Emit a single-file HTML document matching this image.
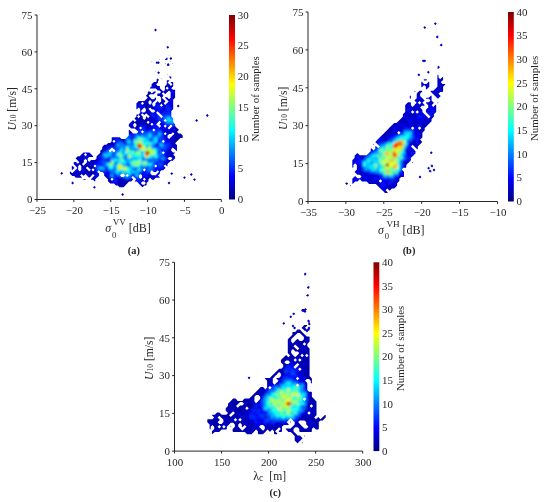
<!DOCTYPE html>
<html><head><meta charset="utf-8"><title>Figure</title>
<style>html,body{margin:0;padding:0;background:#fff}svg{display:block}text{font-family:"Liberation Serif",serif;fill:#262626}</style></head><body>
<svg width="550" height="502" viewBox="0 0 550 502">
<rect width="550" height="502" fill="#fff"/>
<defs><linearGradient id="jet" x1="0" y1="0" x2="0" y2="1"><stop offset="0.0000" stop-color="#800000"/><stop offset="0.0312" stop-color="#9f0000"/><stop offset="0.0625" stop-color="#bf0000"/><stop offset="0.0938" stop-color="#df0000"/><stop offset="0.1250" stop-color="#ff0000"/><stop offset="0.1562" stop-color="#ff2000"/><stop offset="0.1875" stop-color="#ff4000"/><stop offset="0.2188" stop-color="#ff6000"/><stop offset="0.2500" stop-color="#ff8000"/><stop offset="0.2812" stop-color="#ff9f00"/><stop offset="0.3125" stop-color="#ffbf00"/><stop offset="0.3438" stop-color="#ffdf00"/><stop offset="0.3750" stop-color="#ffff00"/><stop offset="0.4062" stop-color="#dfff20"/><stop offset="0.4375" stop-color="#bfff40"/><stop offset="0.4688" stop-color="#9fff60"/><stop offset="0.5000" stop-color="#80ff80"/><stop offset="0.5312" stop-color="#60ff9f"/><stop offset="0.5625" stop-color="#40ffbf"/><stop offset="0.5938" stop-color="#20ffdf"/><stop offset="0.6250" stop-color="#00ffff"/><stop offset="0.6562" stop-color="#00dfff"/><stop offset="0.6875" stop-color="#00bfff"/><stop offset="0.7188" stop-color="#009fff"/><stop offset="0.7500" stop-color="#0080ff"/><stop offset="0.7812" stop-color="#0060ff"/><stop offset="0.8125" stop-color="#0040ff"/><stop offset="0.8438" stop-color="#0020ff"/><stop offset="0.8750" stop-color="#0000ff"/><stop offset="0.9062" stop-color="#0000df"/><stop offset="0.9375" stop-color="#0000bf"/><stop offset="0.9688" stop-color="#00009f"/><stop offset="1.0000" stop-color="#000080"/></linearGradient><filter id="soft" x="-5%" y="-5%" width="110%" height="110%"><feGaussianBlur stdDeviation="0.9"/></filter><filter id="softa" x="-5%" y="-5%" width="110%" height="110%"><feGaussianBlur stdDeviation="0.8"/></filter></defs>
<g id="plot-a">
<clipPath id="clip-a"><path d="M155.8 28.9L155.8 29.2L155.4 29.2ZM156.1 29.2L155.8 29.2L155.8 28.9ZM155.4 29.2L155.8 29.2L155.8 29.6ZM155.8 29.2L156.1 29.2L155.8 29.6ZM167.1 46.0L167.1 46.3L166.8 46.3ZM167.5 46.3L167.1 46.3L167.1 46.0ZM166.8 46.3L167.1 46.3L167.1 46.7ZM167.1 46.3L167.5 46.3L167.1 46.7ZM169.1 55.5L169.1 55.8L168.7 55.8ZM169.4 55.8L169.1 55.8L169.1 55.5ZM167.1 57.4L167.1 57.8L166.8 57.8ZM169.1 55.8L169.1 56.2L168.7 55.8ZM167.1 57.8L167.1 57.4L167.5 57.8ZM169.1 55.8L169.4 55.8L169.1 56.2ZM170.9 57.8L170.6 57.8L170.9 57.4ZM171.3 57.8L170.9 57.8L170.9 57.4ZM159.6 59.3L159.6 59.6L159.2 59.6ZM159.9 59.6L159.6 59.6L159.6 59.3ZM165.2 59.3L165.2 59.6L164.9 59.6ZM166.8 57.8L167.1 57.8L167.1 59.6L165.2 59.6L165.2 59.3ZM167.1 57.8L167.5 57.8L167.5 59.6L167.1 59.6ZM170.6 57.8L170.9 57.8L170.9 58.1ZM170.9 57.8L171.3 57.8L170.9 58.1ZM151.9 61.2L151.9 61.5L151.6 61.5ZM152.3 61.5L151.9 61.5L151.9 61.2ZM159.2 59.6L159.6 59.6L159.6 60.0ZM159.6 59.6L159.9 59.6L159.6 60.0ZM164.9 59.6L165.2 59.6L165.2 60.0ZM165.2 59.6L167.1 59.6L167.1 60.0L165.2 60.0ZM167.1 59.6L167.5 59.6L167.1 60.0ZM170.9 61.2L170.9 61.5L170.6 61.5ZM171.3 61.5L170.9 61.5L170.9 61.2ZM151.6 61.5L151.9 61.5L151.9 61.9ZM151.9 61.5L152.3 61.5L151.9 61.9ZM157.6 63.1L157.6 63.5L157.3 63.5ZM158.0 63.5L157.6 63.5L157.6 63.1ZM165.2 63.1L165.2 63.5L164.9 63.5ZM165.6 63.5L165.2 63.5L165.2 63.1ZM170.6 61.5L170.9 61.5L170.9 61.9ZM170.9 61.5L171.3 61.5L170.9 61.9ZM172.9 63.5L172.5 63.5L172.9 63.1ZM173.2 63.5L172.9 63.5L172.9 63.1ZM157.3 63.5L157.6 63.5L157.6 63.8ZM157.6 63.5L158.0 63.5L157.6 63.8ZM164.9 63.5L165.2 63.5L165.2 63.8ZM165.2 63.5L165.6 63.5L165.2 63.8ZM167.1 65.3L166.8 65.3L167.1 65.0ZM169.1 65.0L169.1 65.3L167.1 65.3L167.1 65.0ZM169.4 65.3L169.1 65.3L169.1 65.0ZM172.5 63.5L172.9 63.5L172.9 63.8ZM172.9 63.5L173.2 63.5L172.9 63.8ZM166.8 65.3L167.1 65.3L167.1 65.7ZM167.1 65.3L169.1 65.3L169.1 65.7L167.1 65.7ZM169.1 65.3L169.4 65.3L169.1 65.7ZM155.8 70.7L155.8 71.0L155.4 71.0ZM156.1 71.0L155.8 71.0L155.8 70.7ZM155.4 71.0L155.8 71.0L155.8 71.4ZM155.8 71.0L156.1 71.0L155.8 71.4ZM159.6 72.6L159.6 73.0L159.2 73.0ZM159.9 73.0L159.6 73.0L159.6 72.6ZM159.2 73.0L159.6 73.0L159.6 73.3ZM159.6 73.0L159.9 73.0L159.6 73.3ZM167.1 74.5L167.1 74.8L166.8 74.8ZM167.5 74.8L167.1 74.8L167.1 74.5ZM166.8 74.8L167.1 74.8L167.1 75.2ZM167.1 74.8L167.5 74.8L167.1 75.2ZM169.1 76.8L168.7 76.8L169.1 76.4ZM170.9 76.4L170.9 76.8L169.1 76.8L169.1 76.4ZM171.3 76.8L170.9 76.8L170.9 76.4ZM161.4 78.3L161.4 78.6L161.1 78.6ZM161.8 78.6L161.4 78.6L161.4 78.3ZM168.7 76.8L169.1 76.8L169.1 77.1ZM169.1 76.8L170.9 76.8L170.9 78.6L170.6 78.6L169.1 77.1ZM170.9 76.8L171.3 76.8L171.3 78.6L170.9 78.6ZM157.6 80.2L157.6 80.5L157.3 80.5ZM158.0 80.5L157.6 80.5L157.6 80.2ZM161.1 78.6L161.4 78.6L161.4 79.0ZM161.4 78.6L161.8 78.6L161.4 79.0ZM167.1 80.2L167.1 80.5L166.8 80.5ZM169.1 80.2L169.1 80.5L167.1 80.5L167.1 80.2ZM170.9 78.6L170.9 79.0L170.6 78.6ZM169.1 80.5L169.1 80.2L169.4 80.5ZM170.9 78.6L171.3 78.6L170.9 79.0ZM153.8 82.1L153.8 82.5L153.5 82.5ZM155.8 82.1L155.8 82.5L153.8 82.5L153.8 82.1ZM157.3 80.5L157.6 80.5L157.6 82.5L155.8 82.5L155.8 82.1ZM157.6 80.5L158.0 80.5L158.0 82.5L157.6 82.5ZM166.8 80.5L167.1 80.5L167.1 82.5L166.8 82.5ZM167.1 80.5L169.1 80.5L169.1 80.9L167.5 82.5L167.1 82.5ZM169.1 80.5L169.4 80.5L169.1 80.9ZM170.9 82.5L170.6 82.5L170.9 82.1ZM172.9 82.1L172.9 82.5L170.9 82.5L170.9 82.1ZM173.2 82.5L172.9 82.5L172.9 82.1ZM151.9 84.0L151.9 84.3L151.6 84.3ZM153.5 82.5L153.8 82.5L153.8 84.3L151.9 84.3L151.9 84.0ZM155.8 82.5L157.6 82.5L157.6 82.8L156.1 84.3L155.8 84.3ZM157.6 82.5L158.0 82.5L157.6 82.8ZM166.8 82.5L167.1 82.5L167.1 84.3L166.8 84.3ZM167.1 82.5L167.5 82.5L169.1 84.0L169.1 84.3L167.1 84.3ZM170.9 82.5L170.9 82.8L170.6 82.5ZM169.1 84.3L169.1 84.0L169.4 84.3ZM170.9 82.5L172.9 82.5L172.9 84.3L172.5 84.3L170.9 82.8ZM172.9 82.5L173.2 82.5L173.2 84.3L172.9 84.3ZM151.6 84.3L151.9 84.3L151.9 86.2L151.6 86.2ZM155.8 84.3L156.1 84.3L157.6 85.9L157.6 86.2L155.8 86.2ZM159.6 85.9L159.6 86.2L157.6 86.2L157.6 85.9ZM159.9 86.2L159.6 86.2L159.6 85.9ZM165.2 85.9L165.2 86.2L164.9 86.2ZM166.8 84.3L167.1 84.3L167.1 86.2L165.2 86.2L165.2 85.9ZM169.1 84.3L169.4 84.3L170.9 85.9L170.9 86.2L169.1 86.2ZM172.5 84.3L172.9 84.3L172.9 86.2L170.9 86.2L170.9 85.9ZM172.9 84.3L173.2 84.3L173.2 86.2L172.9 86.2ZM150.1 87.8L150.1 88.2L149.7 88.2ZM151.6 86.2L151.9 86.2L151.9 88.2L150.1 88.2L150.1 87.8ZM159.6 86.2L159.9 86.2L159.9 88.2L159.6 88.2ZM164.9 86.2L165.2 86.2L165.2 88.2L164.9 88.2ZM165.2 86.2L167.1 86.2L167.1 86.6L165.6 88.2L165.2 88.2ZM167.1 86.2L169.1 86.2L169.1 88.2L168.7 88.2L167.1 86.6ZM170.9 86.2L172.9 86.2L172.9 86.6L171.3 88.2L170.9 88.2ZM172.9 86.2L173.2 86.2L172.9 86.6ZM149.7 88.2L150.1 88.2L150.1 88.5ZM150.1 88.2L151.9 88.2L151.9 88.5L150.1 88.5ZM151.9 88.2L153.8 88.2L153.8 88.5L151.9 88.5ZM153.8 88.2L155.8 88.2L155.8 88.5L153.8 88.5ZM155.8 88.2L157.6 88.2L157.6 90.0L157.3 90.0L155.8 88.5ZM159.6 88.2L159.9 88.2L161.4 89.7L161.4 90.0L159.6 90.0ZM161.8 90.0L161.4 90.0L161.4 89.7ZM164.9 88.2L165.2 88.2L165.2 90.0L164.9 90.0ZM165.2 88.2L165.6 88.2L167.1 89.7L167.1 90.0L165.2 90.0ZM168.7 88.2L169.1 88.2L169.1 90.0L167.1 90.0L167.1 89.7ZM170.9 88.2L171.3 88.2L172.9 89.7L172.9 90.0L170.9 90.0ZM174.8 89.7L174.8 90.0L172.9 90.0L172.9 89.7ZM175.1 90.0L174.8 90.0L174.8 89.7ZM148.1 91.6L148.1 92.0L147.8 92.0ZM150.1 91.6L150.1 92.0L148.1 92.0L148.1 91.6ZM150.4 92.0L150.1 92.0L150.1 91.6ZM153.8 91.6L153.8 92.0L153.5 92.0ZM155.8 91.6L155.8 92.0L153.8 92.0L153.8 91.6ZM157.6 90.0L157.6 90.4L157.3 90.0ZM155.8 92.0L155.8 91.6L156.1 92.0ZM157.6 90.0L159.6 90.0L159.6 90.4L157.6 90.4ZM159.6 90.0L161.4 90.0L161.4 92.0L161.1 92.0L159.6 90.4ZM161.4 90.0L161.8 90.0L163.3 91.6L163.3 92.0L161.4 92.0ZM164.9 90.0L165.2 90.0L165.2 92.0L163.3 92.0L163.3 91.6ZM167.1 90.0L169.1 90.0L169.1 90.4L167.5 92.0L167.1 92.0ZM169.1 90.0L170.9 90.0L170.9 92.0L170.6 92.0L169.1 90.4ZM174.8 90.0L175.1 90.0L175.1 92.0L174.8 92.0ZM147.8 92.0L148.1 92.0L148.1 93.8L147.8 93.8ZM150.1 92.0L150.4 92.0L151.9 93.5L151.9 93.8L150.1 93.8ZM153.5 92.0L153.8 92.0L153.8 93.8L151.9 93.8L151.9 93.5ZM153.8 92.0L155.8 92.0L155.8 92.3L154.2 93.8L153.8 93.8ZM155.8 92.0L156.1 92.0L155.8 92.3ZM157.6 93.8L157.3 93.8L157.6 93.5ZM159.6 93.5L159.6 93.8L157.6 93.8L157.6 93.5ZM161.1 92.0L161.4 92.0L161.4 93.8L159.6 93.8L159.6 93.5ZM161.4 92.0L163.3 92.0L163.3 92.3L161.8 93.8L161.4 93.8ZM163.3 92.0L165.2 92.0L165.2 93.8L164.9 93.8L163.3 92.3ZM165.2 92.0L167.1 92.0L167.1 92.3L165.6 93.8L165.2 93.8ZM167.1 92.0L167.5 92.0L167.1 92.3ZM170.6 92.0L170.9 92.0L170.9 93.8L170.6 93.8ZM174.8 92.0L175.1 92.0L175.1 93.8L174.8 93.8ZM146.2 95.4L146.2 95.8L145.9 95.8ZM147.8 93.8L148.1 93.8L148.1 95.8L146.2 95.8L146.2 95.4ZM148.1 93.8L150.1 93.8L150.1 94.2L148.5 95.8L148.1 95.8ZM150.1 93.8L151.9 93.8L151.9 94.2L150.1 94.2ZM151.9 93.8L153.8 93.8L153.8 94.2L151.9 94.2ZM153.8 93.8L154.2 93.8L153.8 94.2ZM157.3 93.8L157.6 93.8L157.6 95.8L157.3 95.8ZM161.4 93.8L161.8 93.8L163.3 95.4L163.3 95.8L161.4 95.8ZM165.2 93.8L165.2 94.2L164.9 93.8ZM163.3 95.8L163.3 95.4L163.7 95.8ZM165.2 93.8L165.6 93.8L165.2 94.2ZM170.6 93.8L170.9 93.8L170.9 95.8L170.6 95.8ZM174.8 93.8L175.1 93.8L175.1 95.8L174.8 95.8ZM145.9 95.8L146.2 95.8L146.2 96.1ZM146.2 95.8L148.1 95.8L148.1 97.7L147.8 97.7L146.2 96.1ZM148.1 95.8L148.5 95.8L150.1 97.3L150.1 97.7L148.1 97.7ZM150.4 97.7L150.1 97.7L150.1 97.3ZM155.8 97.3L155.8 97.7L155.4 97.7ZM157.6 95.8L157.6 96.1L157.3 95.8ZM155.8 97.7L155.8 97.3L156.1 97.7ZM157.6 95.8L159.6 95.8L159.6 96.1L157.6 96.1ZM159.6 95.8L161.4 95.8L161.4 97.7L161.1 97.7L159.6 96.1ZM161.4 95.8L163.3 95.8L163.3 96.1L161.8 97.7L161.4 97.7ZM163.3 95.8L163.7 95.8L163.3 96.1ZM165.2 97.7L164.9 97.7L165.2 97.3ZM167.1 97.3L167.1 97.7L165.2 97.7L165.2 97.3ZM167.5 97.7L167.1 97.7L167.1 97.3ZM170.6 95.8L170.9 95.8L170.9 97.7L170.6 97.7ZM174.8 95.8L175.1 95.8L175.1 97.7L174.8 97.7ZM146.2 99.2L146.2 99.5L145.9 99.5ZM147.8 97.7L148.1 97.7L148.1 99.5L146.2 99.5L146.2 99.2ZM150.1 97.7L150.4 97.7L151.9 99.2L151.9 99.5L150.1 99.5ZM153.8 99.2L153.8 99.5L151.9 99.5L151.9 99.2ZM155.4 97.7L155.8 97.7L155.8 99.5L153.8 99.5L153.8 99.2ZM155.8 97.7L156.1 97.7L156.1 99.5L155.8 99.5ZM161.1 97.7L161.4 97.7L161.4 99.5L161.1 99.5ZM161.4 97.7L161.8 97.7L163.3 99.2L163.3 99.5L161.4 99.5ZM165.2 97.7L165.2 98.0L164.9 97.7ZM163.3 99.5L163.3 99.2L163.7 99.5ZM165.2 97.7L167.1 97.7L167.1 99.5L166.8 99.5L165.2 98.0ZM167.1 97.7L167.5 97.7L169.1 99.2L169.1 99.5L167.1 99.5ZM170.6 97.7L170.9 97.7L170.9 99.5L169.1 99.5L169.1 99.2ZM172.9 97.7L174.8 97.7L174.8 98.0L173.2 99.5L172.9 99.5ZM174.8 97.7L175.1 97.7L174.8 98.0ZM138.6 101.1L138.6 101.5L138.3 101.5ZM140.6 101.1L140.6 101.5L138.6 101.5L138.6 101.1ZM142.4 101.1L142.4 101.5L140.6 101.5L140.6 101.1ZM144.3 101.1L144.3 101.5L142.4 101.5L142.4 101.1ZM145.9 99.5L146.2 99.5L146.2 101.5L144.3 101.5L144.3 101.1ZM148.1 99.5L150.1 99.5L150.1 99.9L148.5 101.5L148.1 101.5ZM150.1 99.5L151.9 99.5L151.9 101.5L151.6 101.5L150.1 99.9ZM153.8 99.5L155.8 99.5L155.8 99.9L154.2 101.5L153.8 101.5ZM155.8 99.5L156.1 99.5L155.8 99.9ZM157.6 101.5L157.3 101.5L157.6 101.1ZM158.0 101.5L157.6 101.5L157.6 101.1ZM161.1 99.5L161.4 99.5L161.4 101.5L161.1 101.5ZM163.3 99.5L163.7 99.5L165.2 101.1L165.2 101.5L163.3 101.5ZM167.1 99.5L167.1 99.9L166.8 99.5ZM165.2 101.5L165.2 101.1L165.6 101.5ZM167.1 99.5L169.1 99.5L169.1 101.5L168.7 101.5L167.1 99.9ZM172.9 99.5L173.2 99.5L173.2 101.5L172.9 101.5ZM136.8 103.0L136.8 103.3L136.4 103.3ZM138.3 101.5L138.6 101.5L138.6 103.3L136.8 103.3L136.8 103.0ZM140.6 101.5L142.4 101.5L142.4 101.8L140.9 103.3L140.6 103.3ZM142.4 101.5L144.3 101.5L144.3 103.3L144.0 103.3L142.4 101.8ZM148.1 101.5L148.5 101.5L148.5 103.3L148.1 103.3ZM151.6 101.5L151.9 101.5L151.9 103.3L151.6 103.3ZM151.9 101.5L153.8 101.5L153.8 101.8L152.3 103.3L151.9 103.3ZM153.8 101.5L154.2 101.5L153.8 101.8ZM155.8 103.3L155.4 103.3L155.8 103.0ZM157.3 101.5L157.6 101.5L157.6 103.3L155.8 103.3L155.8 103.0ZM157.6 101.5L158.0 101.5L159.6 103.0L159.6 103.3L157.6 103.3ZM161.1 101.5L161.4 101.5L161.4 103.3L159.6 103.3L159.6 103.0ZM163.3 101.5L165.2 101.5L165.2 101.8L163.7 103.3L163.3 103.3ZM165.2 101.5L165.6 101.5L165.2 101.8ZM167.1 103.3L166.8 103.3L167.1 103.0ZM168.7 101.5L169.1 101.5L169.1 103.3L167.1 103.3L167.1 103.0ZM172.9 101.5L173.2 101.5L173.2 103.3L172.9 103.3ZM136.4 103.3L136.8 103.3L136.8 105.2L136.4 105.2ZM140.6 103.3L140.9 103.3L142.4 104.9L142.4 105.2L140.6 105.2ZM144.0 103.3L144.3 103.3L144.3 105.2L142.4 105.2L142.4 104.9ZM148.1 103.3L148.5 103.3L150.1 104.9L150.1 105.2L148.1 105.2ZM151.6 103.3L151.9 103.3L151.9 105.2L150.1 105.2L150.1 104.9ZM151.9 103.3L152.3 103.3L152.3 105.2L151.9 105.2ZM155.4 103.3L155.8 103.3L155.8 105.2L155.4 105.2ZM159.6 103.3L161.4 103.3L161.4 103.7L159.9 105.2L159.6 105.2ZM161.4 103.3L163.3 103.3L163.3 105.2L163.0 105.2L161.4 103.7ZM163.3 103.3L163.7 103.3L165.2 104.9L165.2 105.2L163.3 105.2ZM166.8 103.3L167.1 103.3L167.1 105.2L165.2 105.2L165.2 104.9ZM172.9 103.3L173.2 103.3L173.2 105.2L172.9 105.2ZM178.6 104.9L178.6 105.2L178.2 105.2ZM178.9 105.2L178.6 105.2L178.6 104.9ZM136.4 105.2L136.8 105.2L136.8 107.1L136.4 107.1ZM151.9 105.2L152.3 105.2L153.8 106.8L153.8 107.1L151.9 107.1ZM155.4 105.2L155.8 105.2L155.8 107.1L153.8 107.1L153.8 106.8ZM159.6 105.2L159.9 105.2L161.4 106.8L161.4 107.1L159.6 107.1ZM163.0 105.2L163.3 105.2L163.3 107.1L161.4 107.1L161.4 106.8ZM172.9 105.2L173.2 105.2L173.2 107.1L172.9 107.1ZM178.2 105.2L178.6 105.2L178.6 105.6ZM178.6 105.2L178.9 105.2L178.6 105.6ZM136.4 107.1L136.8 107.1L136.8 109.0L136.4 109.0ZM136.8 107.1L138.6 107.1L138.6 107.5L137.1 109.0L136.8 109.0ZM138.6 107.1L140.6 107.1L140.6 109.0L140.2 109.0L138.6 107.5ZM142.4 107.1L144.3 107.1L144.3 107.5L142.8 109.0L142.4 109.0ZM144.3 107.1L146.2 107.1L146.2 109.0L145.9 109.0L144.3 107.5ZM148.1 107.1L150.1 107.1L150.1 107.5L148.5 109.0L148.1 109.0ZM150.1 107.1L151.9 107.1L151.9 109.0L151.6 109.0L150.1 107.5ZM172.9 107.1L173.2 107.1L173.2 109.0L172.9 109.0ZM136.4 109.0L136.8 109.0L136.8 109.4ZM136.8 109.0L137.1 109.0L136.8 109.4ZM140.2 109.0L140.6 109.0L140.6 111.0L140.2 111.0ZM140.6 109.0L142.4 109.0L142.4 109.4L140.9 111.0L140.6 111.0ZM142.4 109.0L142.8 109.0L142.4 109.4ZM145.9 109.0L146.2 109.0L146.2 111.0L145.9 111.0ZM148.1 109.0L148.5 109.0L150.1 110.6L150.1 111.0L148.1 111.0ZM151.9 109.0L151.9 109.4L151.6 109.0ZM150.1 111.0L150.1 110.6L150.4 111.0ZM151.9 109.0L153.8 109.0L153.8 109.4L151.9 109.4ZM153.8 109.0L155.8 109.0L155.8 111.0L155.4 111.0L153.8 109.4ZM170.9 109.0L172.9 109.0L172.9 109.4L171.3 111.0L170.9 111.0ZM172.9 109.0L173.2 109.0L172.9 109.4ZM140.2 111.0L140.6 111.0L140.6 112.8L140.2 112.8ZM140.6 111.0L140.9 111.0L142.4 112.5L142.4 112.8L140.6 112.8ZM144.3 112.5L144.3 112.8L142.4 112.8L142.4 112.5ZM145.9 111.0L146.2 111.0L146.2 112.8L144.3 112.8L144.3 112.5ZM150.1 111.0L150.4 111.0L151.9 112.5L151.9 112.8L150.1 112.8ZM153.8 112.5L153.8 112.8L151.9 112.8L151.9 112.5ZM155.4 111.0L155.8 111.0L155.8 112.8L153.8 112.8L153.8 112.5ZM155.8 111.0L157.6 111.0L157.6 111.3L156.1 112.8L155.8 112.8ZM157.6 111.0L159.6 111.0L159.6 112.8L159.2 112.8L157.6 111.3ZM170.9 111.0L171.3 111.0L171.3 112.8L170.9 112.8ZM136.8 114.4L136.8 114.8L136.4 114.8ZM138.6 114.4L138.6 114.8L136.8 114.8L136.8 114.4ZM140.2 112.8L140.6 112.8L140.6 114.8L138.6 114.8L138.6 114.4ZM140.6 112.8L142.4 112.8L142.4 113.2L140.9 114.8L140.6 114.8ZM142.4 112.8L144.3 112.8L144.3 114.8L144.0 114.8L142.4 113.2ZM144.3 112.8L146.2 112.8L146.2 113.2L144.7 114.8L144.3 114.8ZM146.2 112.8L148.1 112.8L148.1 114.8L147.8 114.8L146.2 113.2ZM155.8 112.8L156.1 112.8L157.6 114.4L157.6 114.8L155.8 114.8ZM159.6 112.8L159.6 113.2L159.2 112.8ZM157.6 114.8L157.6 114.4L158.0 114.8ZM159.6 112.8L161.4 112.8L161.4 114.8L161.1 114.8L159.6 113.2ZM170.9 112.8L171.3 112.8L171.3 114.8L170.9 114.8ZM207.1 114.4L207.1 114.8L206.7 114.8ZM207.4 114.8L207.1 114.8L207.1 114.4ZM136.4 114.8L136.8 114.8L136.8 116.6L136.4 116.6ZM136.8 114.8L138.6 114.8L138.6 115.1L137.1 116.6L136.8 116.6ZM138.6 114.8L140.6 114.8L140.6 116.6L140.2 116.6L138.6 115.1ZM140.6 114.8L140.9 114.8L142.4 116.3L142.4 116.6L140.6 116.6ZM144.3 114.8L144.3 115.1L144.0 114.8ZM142.4 116.6L142.4 116.3L142.8 116.6ZM144.3 114.8L144.7 114.8L144.3 115.1ZM146.2 116.6L145.9 116.6L146.2 116.3ZM148.1 114.8L148.1 115.1L147.8 114.8ZM146.2 116.6L146.2 116.3L146.6 116.6ZM148.1 114.8L150.1 114.8L150.1 116.6L149.7 116.6L148.1 115.1ZM157.6 114.8L158.0 114.8L159.6 116.3L159.6 116.6L157.6 116.6ZM161.4 114.8L161.4 115.1L161.1 114.8ZM159.6 116.6L159.6 116.3L159.9 116.6ZM161.4 114.8L163.3 114.8L163.3 116.6L163.0 116.6L161.4 115.1ZM170.9 114.8L171.3 114.8L171.3 116.6L170.9 116.6ZM206.7 114.8L207.1 114.8L207.1 115.1ZM207.1 114.8L207.4 114.8L207.1 115.1ZM134.8 118.2L134.8 118.5L134.5 118.5ZM136.4 116.6L136.8 116.6L136.8 118.5L134.8 118.5L134.8 118.2ZM136.8 116.6L137.1 116.6L138.6 118.2L138.6 118.5L136.8 118.5ZM140.2 116.6L140.6 116.6L140.6 118.5L138.6 118.5L138.6 118.2ZM142.4 116.6L142.8 116.6L142.8 118.5L142.4 118.5ZM145.9 116.6L146.2 116.6L146.2 118.5L145.9 118.5ZM146.2 116.6L146.6 116.6L148.1 118.2L148.1 118.5L146.2 118.5ZM149.7 116.6L150.1 116.6L150.1 118.5L148.1 118.5L148.1 118.2ZM159.6 116.6L159.9 116.6L161.4 118.2L161.4 118.5L159.6 118.5ZM163.0 116.6L163.3 116.6L163.3 118.5L161.4 118.5L161.4 118.2ZM170.9 116.6L171.3 116.6L172.9 118.2L172.9 118.5L170.9 118.5ZM173.2 118.5L172.9 118.5L172.9 118.2ZM132.9 120.1L132.9 120.5L132.6 120.5ZM134.8 118.5L134.8 118.9L134.5 118.5ZM132.9 120.5L132.9 120.1L133.3 120.5ZM134.8 118.5L136.8 118.5L136.8 120.5L136.4 120.5L134.8 118.9ZM142.4 118.5L142.8 118.5L144.3 120.1L144.3 120.5L142.4 120.5ZM145.9 118.5L146.2 118.5L146.2 120.5L144.3 120.5L144.3 120.1ZM163.3 118.5L165.2 118.5L165.2 118.9L163.7 120.5L163.3 120.5ZM165.2 118.5L167.1 118.5L167.1 120.5L166.8 120.5L165.2 118.9ZM172.9 118.5L173.2 118.5L173.2 120.5L172.9 120.5ZM197.6 120.1L197.6 120.5L197.2 120.5ZM197.9 120.5L197.6 120.5L197.6 120.1ZM131.1 122.0L131.1 122.3L130.7 122.3ZM132.6 120.5L132.9 120.5L132.9 122.3L131.1 122.3L131.1 122.0ZM132.9 120.5L133.3 120.5L134.8 122.0L134.8 122.3L132.9 122.3ZM136.4 120.5L136.8 120.5L136.8 122.3L134.8 122.3L134.8 122.0ZM146.2 120.5L148.1 120.5L148.1 120.8L146.6 122.3L146.2 122.3ZM148.1 120.5L150.1 120.5L150.1 122.3L149.7 122.3L148.1 120.8ZM157.6 120.5L159.6 120.5L159.6 120.8L158.0 122.3L157.6 122.3ZM159.6 120.5L161.4 120.5L161.4 122.3L161.1 122.3L159.6 120.8ZM163.3 120.5L163.7 120.5L165.2 122.0L165.2 122.3L163.3 122.3ZM166.8 120.5L167.1 120.5L167.1 122.3L165.2 122.3L165.2 122.0ZM172.9 120.5L173.2 120.5L173.2 122.3L172.9 122.3ZM197.2 120.5L197.6 120.5L197.6 120.8ZM197.6 120.5L197.9 120.5L197.6 120.8ZM129.1 123.9L129.1 124.2L128.8 124.2ZM130.7 122.3L131.1 122.3L131.1 124.2L129.1 124.2L129.1 123.9ZM132.9 122.3L134.8 122.3L134.8 122.7L133.3 124.2L132.9 124.2ZM134.8 122.3L136.8 122.3L136.8 124.2L136.4 124.2L134.8 122.7ZM146.2 122.3L146.6 122.3L148.1 123.9L148.1 124.2L146.2 124.2ZM149.7 122.3L150.1 122.3L150.1 124.2L148.1 124.2L148.1 123.9ZM150.1 122.3L151.9 122.3L151.9 122.7L150.4 124.2L150.1 124.2ZM151.9 122.3L153.8 122.3L153.8 124.2L153.5 124.2L151.9 122.7ZM155.8 122.3L157.6 122.3L157.6 122.7L156.1 124.2L155.8 124.2ZM157.6 122.3L158.0 122.3L157.6 122.7ZM159.6 124.2L159.2 124.2L159.6 123.9ZM161.1 122.3L161.4 122.3L161.4 124.2L159.6 124.2L159.6 123.9ZM172.9 122.3L173.2 122.3L174.8 123.9L174.8 124.2L172.9 124.2ZM175.1 124.2L174.8 124.2L174.8 123.9ZM128.8 124.2L129.1 124.2L129.1 126.1L128.8 126.1ZM132.9 124.2L133.3 124.2L133.3 126.1L132.9 126.1ZM136.4 124.2L136.8 124.2L136.8 126.1L136.4 126.1ZM150.1 124.2L150.4 124.2L151.9 125.8L151.9 126.1L150.1 126.1ZM153.5 124.2L153.8 124.2L153.8 126.1L151.9 126.1L151.9 125.8ZM155.8 124.2L156.1 124.2L157.6 125.8L157.6 126.1L155.8 126.1ZM159.6 124.2L159.6 124.6L159.2 124.2ZM157.6 126.1L157.6 125.8L158.0 126.1ZM159.6 124.2L161.4 124.2L161.4 126.1L161.1 126.1L159.6 124.6ZM163.3 124.2L165.2 124.2L165.2 124.6L163.7 126.1L163.3 126.1ZM165.2 124.2L167.1 124.2L167.1 126.1L166.8 126.1L165.2 124.6ZM169.1 124.2L170.9 124.2L170.9 124.6L169.4 126.1L169.1 126.1ZM170.9 124.2L172.9 124.2L172.9 126.1L172.5 126.1L170.9 124.6ZM174.8 124.2L175.1 124.2L175.1 126.1L174.8 126.1ZM128.8 126.1L129.1 126.1L129.1 126.5ZM129.1 126.1L131.1 126.1L131.1 128.0L130.7 128.0L129.1 126.5ZM132.9 126.1L133.3 126.1L134.8 127.7L134.8 128.0L132.9 128.0ZM136.4 126.1L136.8 126.1L136.8 128.0L134.8 128.0L134.8 127.7ZM138.6 126.1L140.6 126.1L140.6 126.5L139.0 128.0L138.6 128.0ZM140.6 126.1L142.4 126.1L142.4 128.0L142.1 128.0L140.6 126.5ZM157.6 126.1L158.0 126.1L159.6 127.7L159.6 128.0L157.6 128.0ZM161.1 126.1L161.4 126.1L161.4 128.0L159.6 128.0L159.6 127.7ZM163.3 126.1L163.7 126.1L165.2 127.7L165.2 128.0L163.3 128.0ZM166.8 126.1L167.1 126.1L167.1 128.0L165.2 128.0L165.2 127.7ZM167.1 126.1L169.1 126.1L169.1 126.5L167.5 128.0L167.1 128.0ZM169.1 126.1L169.4 126.1L169.1 126.5ZM170.9 128.0L170.6 128.0L170.9 127.7ZM172.5 126.1L172.9 126.1L172.9 128.0L170.9 128.0L170.9 127.7ZM174.8 126.1L175.1 126.1L176.6 127.7L176.6 128.0L174.8 128.0ZM177.0 128.0L176.6 128.0L176.6 127.7ZM129.1 129.6L129.1 129.9L128.8 129.9ZM131.1 128.0L131.1 128.4L130.7 128.0ZM129.1 129.9L129.1 129.6L129.5 129.9ZM131.1 128.0L132.9 128.0L132.9 128.4L131.1 128.4ZM132.9 128.0L134.8 128.0L134.8 128.4L132.9 128.4ZM134.8 128.0L136.8 128.0L136.8 129.9L136.4 129.9L134.8 128.4ZM138.6 128.0L139.0 128.0L140.6 129.6L140.6 129.9L138.6 129.9ZM142.1 128.0L142.4 128.0L142.4 129.9L140.6 129.9L140.6 129.6ZM151.9 128.0L153.8 128.0L153.8 128.4L152.3 129.9L151.9 129.9ZM153.8 128.0L155.8 128.0L155.8 129.9L155.4 129.9L153.8 128.4ZM167.1 128.0L167.5 128.0L169.1 129.6L169.1 129.9L167.1 129.9ZM170.6 128.0L170.9 128.0L170.9 129.9L169.1 129.9L169.1 129.6ZM176.6 128.0L177.0 128.0L178.6 129.6L178.6 129.9L176.6 129.9ZM178.9 129.9L178.6 129.9L178.6 129.6ZM128.8 129.9L129.1 129.9L129.1 131.8L128.8 131.8ZM129.1 129.9L129.5 129.9L131.1 131.5L131.1 131.8L129.1 131.8ZM131.4 131.8L131.1 131.8L131.1 131.5ZM136.4 129.9L136.8 129.9L136.8 130.3ZM136.8 129.9L138.6 129.9L138.6 131.8L138.3 131.8L136.8 130.3ZM140.6 129.9L142.4 129.9L142.4 130.3L140.9 131.8L140.6 131.8ZM142.4 129.9L144.3 129.9L144.3 131.8L144.0 131.8L142.4 130.3ZM151.9 129.9L152.3 129.9L153.8 131.5L153.8 131.8L151.9 131.8ZM155.4 129.9L155.8 129.9L155.8 131.8L153.8 131.8L153.8 131.5ZM176.6 129.9L178.6 129.9L178.6 130.3L177.0 131.8L176.6 131.8ZM178.6 129.9L178.9 129.9L178.6 130.3ZM128.8 131.8L129.1 131.8L129.1 133.8L128.8 133.8ZM131.1 131.8L131.4 131.8L132.9 133.4L132.9 133.8L131.1 133.8ZM134.8 133.4L134.8 133.8L132.9 133.8L132.9 133.4ZM136.8 133.4L136.8 133.8L134.8 133.8L134.8 133.4ZM138.3 131.8L138.6 131.8L138.6 133.8L136.8 133.8L136.8 133.4ZM140.6 131.8L140.9 131.8L142.4 133.4L142.4 133.8L140.6 133.8ZM144.0 131.8L144.3 131.8L144.3 133.8L142.4 133.8L142.4 133.4ZM163.3 131.8L165.2 131.8L165.2 132.2L163.7 133.8L163.3 133.8ZM165.2 131.8L167.1 131.8L167.1 133.8L166.8 133.8L165.2 132.2ZM170.9 131.8L172.9 131.8L172.9 132.2L171.3 133.8L170.9 133.8ZM172.9 131.8L174.8 131.8L174.8 133.8L174.4 133.8L172.9 132.2ZM176.6 131.8L177.0 131.8L178.6 133.4L178.6 133.8L176.6 133.8ZM180.4 133.4L180.4 133.8L178.6 133.8L178.6 133.4ZM180.8 133.8L180.4 133.8L180.4 133.4ZM128.8 133.8L129.1 133.8L129.1 135.6L128.8 135.6ZM163.3 133.8L163.7 133.8L165.2 135.3L165.2 135.6L163.3 135.6ZM166.8 133.8L167.1 133.8L167.1 135.6L165.2 135.6L165.2 135.3ZM167.1 133.8L169.1 133.8L169.1 134.1L167.5 135.6L167.1 135.6ZM169.1 133.8L170.9 133.8L170.9 134.1L169.1 134.1ZM170.9 133.8L171.3 133.8L170.9 134.1ZM172.9 135.6L172.5 135.6L172.9 135.3ZM174.4 133.8L174.8 133.8L174.8 135.6L172.9 135.6L172.9 135.3ZM180.4 133.8L180.8 133.8L182.4 135.3L182.4 135.6L180.4 135.6ZM182.7 135.6L182.4 135.6L182.4 135.3ZM112.0 137.2L112.0 137.5L111.7 137.5ZM114.0 137.2L114.0 137.5L112.0 137.5L112.0 137.2ZM115.8 137.2L115.8 137.5L114.0 137.5L114.0 137.2ZM117.8 137.2L117.8 137.5L115.8 137.5L115.8 137.2ZM119.7 137.2L119.7 137.5L117.8 137.5L117.8 137.2ZM120.0 137.5L119.7 137.5L119.7 137.2ZM127.2 137.2L127.2 137.5L126.9 137.5ZM128.8 135.6L129.1 135.6L129.1 137.5L127.2 137.5L127.2 137.2ZM167.1 135.6L167.5 135.6L167.5 137.5L167.1 137.5ZM170.9 137.2L170.9 137.5L170.6 137.5ZM172.5 135.6L172.9 135.6L172.9 137.5L170.9 137.5L170.9 137.2ZM182.4 135.6L182.7 135.6L182.7 137.5L182.4 137.5ZM111.7 137.5L112.0 137.5L112.0 139.4L111.7 139.4ZM119.7 137.5L120.0 137.5L121.5 139.1L121.5 139.4L119.7 139.4ZM123.5 139.1L123.5 139.4L121.5 139.4L121.5 139.1ZM125.3 139.1L125.3 139.4L123.5 139.4L123.5 139.1ZM126.9 137.5L127.2 137.5L127.2 139.4L125.3 139.4L125.3 139.1ZM167.1 137.5L167.5 137.5L169.1 139.1L169.1 139.4L167.1 139.4ZM170.6 137.5L170.9 137.5L170.9 139.4L169.1 139.4L169.1 139.1ZM178.6 137.5L180.4 137.5L180.4 137.9L178.9 139.4L178.6 139.4ZM180.4 137.5L182.4 137.5L182.4 137.9L180.4 137.9ZM182.4 137.5L182.7 137.5L182.4 137.9ZM111.7 139.4L112.0 139.4L112.0 141.3L111.7 141.3ZM112.0 139.4L114.0 139.4L114.0 139.8L112.4 141.3L112.0 141.3ZM114.0 139.4L115.8 139.4L115.8 141.3L115.5 141.3L114.0 139.8ZM161.4 139.4L163.3 139.4L163.3 139.8L161.8 141.3L161.4 141.3ZM163.3 139.4L165.2 139.4L165.2 141.3L164.9 141.3L163.3 139.8ZM176.6 139.4L178.6 139.4L178.6 139.8L177.0 141.3L176.6 141.3ZM178.6 139.4L178.9 139.4L178.6 139.8ZM108.2 142.9L108.2 143.2L107.9 143.2ZM110.2 142.9L110.2 143.2L108.2 143.2L108.2 142.9ZM111.7 141.3L112.0 141.3L112.0 143.2L110.2 143.2L110.2 142.9ZM112.0 141.3L112.4 141.3L114.0 142.9L114.0 143.2L112.0 143.2ZM115.5 141.3L115.8 141.3L115.8 143.2L114.0 143.2L114.0 142.9ZM161.4 141.3L161.8 141.3L163.3 142.9L163.3 143.2L161.4 143.2ZM164.9 141.3L165.2 141.3L165.2 143.2L163.3 143.2L163.3 142.9ZM174.8 141.3L176.6 141.3L176.6 141.7L175.1 143.2L174.8 143.2ZM176.6 141.3L177.0 141.3L176.6 141.7ZM104.5 144.8L104.5 145.1L104.1 145.1ZM106.3 144.8L106.3 145.1L104.5 145.1L104.5 144.8ZM107.9 143.2L108.2 143.2L108.2 145.1L106.3 145.1L106.3 144.8ZM174.8 143.2L175.1 143.2L176.6 144.8L176.6 145.1L174.8 145.1ZM177.0 145.1L176.6 145.1L176.6 144.8ZM102.5 146.7L102.5 147.0L102.2 147.0ZM104.1 145.1L104.5 145.1L104.5 147.0L102.5 147.0L102.5 146.7ZM176.6 145.1L177.0 145.1L177.0 147.0L176.6 147.0ZM102.2 147.0L102.5 147.0L102.5 148.9L102.2 148.9ZM110.2 147.0L112.0 147.0L112.0 147.4L110.5 148.9L110.2 148.9ZM112.0 147.0L114.0 147.0L114.0 148.9L113.6 148.9L112.0 147.4ZM170.9 147.0L172.9 147.0L172.9 147.4L171.3 148.9L170.9 148.9ZM172.9 147.0L174.8 147.0L174.8 148.9L174.4 148.9L172.9 147.4ZM176.6 147.0L177.0 147.0L177.0 148.9L176.6 148.9ZM100.7 150.5L100.7 150.8L100.3 150.8ZM102.2 148.9L102.5 148.9L102.5 150.8L100.7 150.8L100.7 150.5ZM108.2 148.9L110.2 148.9L110.2 149.3L108.6 150.8L108.2 150.8ZM110.2 148.9L110.5 148.9L110.2 149.3ZM112.0 150.8L111.7 150.8L112.0 150.5ZM114.0 148.9L114.0 149.3L113.6 148.9ZM112.0 150.8L112.0 150.5L112.4 150.8ZM114.0 148.9L115.8 148.9L115.8 150.8L115.5 150.8L114.0 149.3ZM170.9 148.9L171.3 148.9L171.3 150.8L170.9 150.8ZM174.4 148.9L174.8 148.9L174.8 149.3ZM174.8 148.9L176.6 148.9L176.6 150.8L176.3 150.8L174.8 149.3ZM176.6 148.9L177.0 148.9L177.0 150.8L176.6 150.8ZM83.5 152.4L83.5 152.7L83.2 152.7ZM85.5 152.4L85.5 152.7L83.5 152.7L83.5 152.4ZM87.3 152.4L87.3 152.7L85.5 152.7L85.5 152.4ZM89.2 152.4L89.2 152.7L87.3 152.7L87.3 152.4ZM89.6 152.7L89.2 152.7L89.2 152.4ZM100.3 150.8L100.7 150.8L100.7 152.7L100.3 152.7ZM108.2 150.8L108.6 150.8L110.2 152.4L110.2 152.7L108.2 152.7ZM111.7 150.8L112.0 150.8L112.0 152.7L110.2 152.7L110.2 152.4ZM112.0 150.8L112.4 150.8L114.0 152.4L114.0 152.7L112.0 152.7ZM115.5 150.8L115.8 150.8L115.8 152.7L114.0 152.7L114.0 152.4ZM161.4 150.8L163.3 150.8L163.3 151.2L161.8 152.7L161.4 152.7ZM163.3 150.8L165.2 150.8L165.2 152.7L164.9 152.7L163.3 151.2ZM170.9 150.8L171.3 150.8L172.9 152.4L172.9 152.7L170.9 152.7ZM174.8 152.4L174.8 152.7L172.9 152.7L172.9 152.4ZM176.6 150.8L176.6 151.2L176.3 150.8ZM174.8 152.7L174.8 152.4L175.1 152.7ZM176.6 150.8L177.0 150.8L176.6 151.2ZM81.7 154.3L81.7 154.6L81.3 154.6ZM83.2 152.7L83.5 152.7L83.5 154.6L81.7 154.6L81.7 154.3ZM83.5 152.7L85.5 152.7L85.5 153.1L83.9 154.6L83.5 154.6ZM85.5 152.7L87.3 152.7L87.3 154.6L87.0 154.6L85.5 153.1ZM89.2 152.7L89.6 152.7L91.2 154.3L91.2 154.6L89.2 154.6ZM91.5 154.6L91.2 154.6L91.2 154.3ZM98.8 154.3L98.8 154.6L98.4 154.6ZM100.3 152.7L100.7 152.7L100.7 154.6L98.8 154.6L98.8 154.3ZM161.4 152.7L161.8 152.7L163.3 154.3L163.3 154.6L161.4 154.6ZM164.9 152.7L165.2 152.7L165.2 154.6L163.3 154.6L163.3 154.3ZM172.9 152.7L174.8 152.7L174.8 153.1L173.2 154.6L172.9 154.6ZM174.8 152.7L175.1 152.7L174.8 153.1ZM77.8 156.2L77.8 156.5L77.5 156.5ZM79.8 156.2L79.8 156.5L77.8 156.5L77.8 156.2ZM81.3 154.6L81.7 154.6L81.7 156.5L79.8 156.5L79.8 156.2ZM83.5 154.6L83.9 154.6L85.5 156.2L85.5 156.5L83.5 156.5ZM87.0 154.6L87.3 154.6L87.3 156.5L85.5 156.5L85.5 156.2ZM91.2 154.6L91.5 154.6L93.0 156.2L93.0 156.5L91.2 156.5ZM93.4 156.5L93.0 156.5L93.0 156.2ZM96.8 156.2L96.8 156.5L96.5 156.5ZM98.4 154.6L98.8 154.6L98.8 156.5L96.8 156.5L96.8 156.2ZM172.9 154.6L173.2 154.6L174.8 156.2L174.8 156.5L172.9 156.5ZM175.1 156.5L174.8 156.5L174.8 156.2ZM76.0 158.1L76.0 158.4L75.6 158.4ZM77.5 156.5L77.8 156.5L77.8 158.4L76.0 158.4L76.0 158.1ZM87.3 156.5L89.2 156.5L89.2 156.9L87.7 158.4L87.3 158.4ZM89.2 156.5L91.2 156.5L91.2 156.9L89.2 156.9ZM91.2 156.5L93.0 156.5L93.0 156.9L91.2 156.9ZM93.0 156.5L93.4 156.5L93.0 156.9ZM96.5 156.5L96.8 156.5L96.8 158.4L96.5 158.4ZM167.1 156.5L169.1 156.5L169.1 156.9L167.5 158.4L167.1 158.4ZM169.1 156.5L170.9 156.5L170.9 156.9L169.1 156.9ZM170.9 156.5L172.9 156.5L172.9 158.4L172.5 158.4L170.9 156.9ZM174.8 156.5L175.1 156.5L175.1 158.4L174.8 158.4ZM75.6 158.4L76.0 158.4L76.0 158.8ZM76.0 158.4L77.8 158.4L77.8 160.3L77.5 160.3L76.0 158.8ZM83.5 158.4L85.5 158.4L85.5 158.8L83.9 160.3L83.5 160.3ZM85.5 158.4L87.3 158.4L87.3 160.3L87.0 160.3L85.5 158.8ZM87.3 158.4L87.7 158.4L87.7 160.3L87.3 160.3ZM91.2 160.0L91.2 160.3L90.8 160.3ZM93.0 160.0L93.0 160.3L91.2 160.3L91.2 160.0ZM95.0 160.0L95.0 160.3L93.0 160.3L93.0 160.0ZM96.5 158.4L96.8 158.4L96.8 160.3L95.0 160.3L95.0 160.0ZM167.1 158.4L167.5 158.4L169.1 160.0L169.1 160.3L167.1 160.3ZM170.9 160.0L170.9 160.3L169.1 160.3L169.1 160.0ZM172.5 158.4L172.9 158.4L172.9 160.3L170.9 160.3L170.9 160.0ZM172.9 158.4L174.8 158.4L174.8 158.8L173.2 160.3L172.9 160.3ZM174.8 158.4L175.1 158.4L174.8 158.8ZM74.1 161.9L74.1 162.2L73.7 162.2ZM76.0 161.9L76.0 162.2L74.1 162.2L74.1 161.9ZM77.8 160.3L77.8 160.7L77.5 160.3ZM76.0 162.2L76.0 161.9L76.3 162.2ZM77.8 160.3L79.8 160.3L79.8 162.2L79.4 162.2L77.8 160.7ZM83.5 160.3L83.9 160.3L83.9 162.2L83.5 162.2ZM87.0 160.3L87.3 160.3L87.3 162.2L87.0 162.2ZM87.3 160.3L87.7 160.3L89.2 161.9L89.2 162.2L87.3 162.2ZM90.8 160.3L91.2 160.3L91.2 162.2L89.2 162.2L89.2 161.9ZM169.1 160.3L170.9 160.3L170.9 160.7L169.4 162.2L169.1 162.2ZM170.9 160.3L172.9 160.3L172.9 160.7L170.9 160.7ZM172.9 160.3L173.2 160.3L172.9 160.7ZM73.7 162.2L74.1 162.2L74.1 164.1L73.7 164.1ZM76.0 162.2L76.3 162.2L77.8 163.8L77.8 164.1L76.0 164.1ZM79.4 162.2L79.8 162.2L79.8 164.1L77.8 164.1L77.8 163.8ZM81.7 162.2L83.5 162.2L83.5 162.6L82.0 164.1L81.7 164.1ZM83.5 162.2L83.9 162.2L83.5 162.6ZM85.5 164.1L85.1 164.1L85.5 163.8ZM87.0 162.2L87.3 162.2L87.3 164.1L85.5 164.1L85.5 163.8ZM167.1 162.2L169.1 162.2L169.1 162.6L167.5 164.1L167.1 164.1ZM169.1 162.2L169.4 162.2L169.1 162.6ZM72.2 165.7L72.2 166.0L71.8 166.0ZM74.1 164.1L74.1 164.5L73.7 164.1ZM72.2 166.0L72.2 165.7L72.5 166.0ZM74.1 164.1L76.0 164.1L76.0 166.0L75.6 166.0L74.1 164.5ZM77.8 164.1L79.8 164.1L79.8 164.5L78.2 166.0L77.8 166.0ZM79.8 164.1L81.7 164.1L81.7 166.0L81.3 166.0L79.8 164.5ZM81.7 164.1L82.0 164.1L83.5 165.7L83.5 166.0L81.7 166.0ZM85.1 164.1L85.5 164.1L85.5 166.0L83.5 166.0L83.5 165.7ZM93.0 164.1L95.0 164.1L95.0 164.5L93.4 166.0L93.0 166.0ZM95.0 164.1L96.8 164.1L96.8 166.0L96.5 166.0L95.0 164.5ZM153.8 164.1L155.8 164.1L155.8 164.5L154.2 166.0L153.8 166.0ZM155.8 164.1L157.6 164.1L157.6 166.0L157.3 166.0L155.8 164.5ZM163.3 164.1L165.2 164.1L165.2 164.5L163.7 166.0L163.3 166.0ZM165.2 164.1L167.1 164.1L167.1 166.0L166.8 166.0L165.2 164.5ZM167.1 164.1L167.5 164.1L167.5 166.0L167.1 166.0ZM71.8 166.0L72.2 166.0L72.2 167.9L71.8 167.9ZM72.2 166.0L72.5 166.0L74.1 167.6L74.1 167.9L72.2 167.9ZM76.0 166.0L76.0 166.4L75.6 166.0ZM74.1 167.9L74.1 167.6L74.4 167.9ZM76.0 166.0L77.8 166.0L77.8 167.9L77.5 167.9L76.0 166.4ZM77.8 166.0L78.2 166.0L78.2 167.9L77.8 167.9ZM81.3 166.0L81.7 166.0L81.7 167.9L81.3 167.9ZM85.5 166.0L87.3 166.0L87.3 166.4L85.8 167.9L85.5 167.9ZM87.3 166.0L89.2 166.0L89.2 167.9L88.9 167.9L87.3 166.4ZM93.0 166.0L93.4 166.0L95.0 167.6L95.0 167.9L93.0 167.9ZM96.5 166.0L96.8 166.0L96.8 167.9L95.0 167.9L95.0 167.6ZM153.8 166.0L154.2 166.0L155.8 167.6L155.8 167.9L153.8 167.9ZM157.3 166.0L157.6 166.0L157.6 167.9L155.8 167.9L155.8 167.6ZM163.3 166.0L163.7 166.0L165.2 167.6L165.2 167.9L163.3 167.9ZM167.1 166.0L167.1 166.4L166.8 166.0ZM165.2 167.9L165.2 167.6L165.6 167.9ZM167.1 166.0L167.5 166.0L167.1 166.4ZM71.8 167.9L72.2 167.9L72.2 169.8L71.8 169.8ZM72.2 167.9L74.1 167.9L74.1 168.3L72.5 169.8L72.2 169.8ZM74.1 167.9L74.4 167.9L74.1 168.3ZM76.0 169.8L75.6 169.8L76.0 169.5ZM77.5 167.9L77.8 167.9L77.8 169.8L76.0 169.8L76.0 169.5ZM77.8 167.9L78.2 167.9L78.2 169.8L77.8 169.8ZM81.3 167.9L81.7 167.9L81.7 169.8L81.3 169.8ZM85.5 167.9L85.8 167.9L87.3 169.5L87.3 169.8L85.5 169.8ZM89.2 167.9L89.2 168.3L88.9 167.9ZM87.3 169.8L87.3 169.5L87.7 169.8ZM89.2 167.9L91.2 167.9L91.2 169.8L90.8 169.8L89.2 168.3ZM91.2 167.9L93.0 167.9L93.0 168.3L91.5 169.8L91.2 169.8ZM93.0 167.9L95.0 167.9L95.0 169.8L94.6 169.8L93.0 168.3ZM142.4 167.9L144.3 167.9L144.3 168.3L142.8 169.8L142.4 169.8ZM144.3 167.9L146.2 167.9L146.2 169.8L145.9 169.8L144.3 168.3ZM163.3 167.9L165.2 167.9L165.2 168.3L163.7 169.8L163.3 169.8ZM165.2 167.9L165.6 167.9L165.2 168.3ZM70.2 171.4L70.2 171.7L69.9 171.7ZM72.2 169.8L72.2 170.2L71.8 169.8ZM70.2 171.7L70.2 171.4L70.6 171.7ZM72.2 169.8L72.5 169.8L72.2 170.2ZM74.1 171.7L73.7 171.7L74.1 171.4ZM75.6 169.8L76.0 169.8L76.0 171.7L74.1 171.7L74.1 171.4ZM77.8 169.8L78.2 169.8L79.8 171.4L79.8 171.7L77.8 171.7ZM81.3 169.8L81.7 169.8L81.7 171.7L79.8 171.7L79.8 171.4ZM87.3 169.8L87.7 169.8L89.2 171.4L89.2 171.7L87.3 171.7ZM90.8 169.8L91.2 169.8L91.2 171.7L89.2 171.7L89.2 171.4ZM91.2 169.8L91.5 169.8L93.0 171.4L93.0 171.7L91.2 171.7ZM94.6 169.8L95.0 169.8L95.0 171.7L93.0 171.7L93.0 171.4ZM96.8 169.8L98.8 169.8L98.8 170.2L97.2 171.7L96.8 171.7ZM98.8 169.8L100.7 169.8L100.7 171.7L100.3 171.7L98.8 170.2ZM142.4 169.8L142.8 169.8L144.3 171.4L144.3 171.7L142.4 171.7ZM145.9 169.8L146.2 169.8L146.2 171.7L144.3 171.7L144.3 171.4ZM150.1 169.8L151.9 169.8L151.9 170.2L150.4 171.7L150.1 171.7ZM151.9 169.8L153.8 169.8L153.8 171.7L153.5 171.7L151.9 170.2ZM155.8 169.8L157.6 169.8L157.6 170.2L156.1 171.7L155.8 171.7ZM157.6 169.8L159.6 169.8L159.6 171.7L159.2 171.7L157.6 170.2ZM159.6 169.8L161.4 169.8L161.4 170.2L159.9 171.7L159.6 171.7ZM161.4 169.8L163.3 169.8L163.3 170.2L161.4 170.2ZM163.3 169.8L163.7 169.8L163.3 170.2ZM62.7 173.3L62.7 173.6L62.3 173.6ZM63.0 173.6L62.7 173.6L62.7 173.3ZM69.9 171.7L70.2 171.7L70.2 173.6L69.9 173.6ZM70.2 171.7L70.6 171.7L72.2 173.3L72.2 173.6L70.2 173.6ZM73.7 171.7L74.1 171.7L74.1 173.6L72.2 173.6L72.2 173.3ZM96.8 171.7L97.2 171.7L98.8 173.3L98.8 173.6L96.8 173.6ZM100.7 171.7L100.7 172.1L100.3 171.7ZM98.8 173.6L98.8 173.3L99.1 173.6ZM100.7 171.7L102.5 171.7L102.5 172.1L100.7 172.1ZM102.5 171.7L104.5 171.7L104.5 173.6L104.1 173.6L102.5 172.1ZM150.1 171.7L150.4 171.7L150.4 173.6L150.1 173.6ZM153.5 171.7L153.8 171.7L153.8 172.1ZM153.8 171.7L155.8 171.7L155.8 172.1L153.8 172.1ZM155.8 171.7L156.1 171.7L155.8 172.1ZM157.6 173.6L157.3 173.6L157.6 173.3ZM159.2 171.7L159.6 171.7L159.6 173.6L157.6 173.6L157.6 173.3ZM159.6 171.7L159.9 171.7L159.9 173.6L159.6 173.6ZM170.9 173.3L170.9 173.6L170.6 173.6ZM171.3 173.6L170.9 173.6L170.9 173.3ZM191.9 173.3L191.9 173.6L191.5 173.6ZM192.2 173.6L191.9 173.6L191.9 173.3ZM62.3 173.6L62.7 173.6L62.7 174.0ZM62.7 173.6L63.0 173.6L62.7 174.0ZM69.9 173.6L70.2 173.6L70.2 174.0ZM70.2 173.6L72.2 173.6L72.2 175.5L71.8 175.5L70.2 174.0ZM79.8 173.6L81.7 173.6L81.7 174.0L80.1 175.5L79.8 175.5ZM81.7 173.6L83.5 173.6L83.5 175.5L83.2 175.5L81.7 174.0ZM83.5 173.6L85.5 173.6L85.5 174.0L83.9 175.5L83.5 175.5ZM85.5 173.6L87.3 173.6L87.3 175.5L87.0 175.5L85.5 174.0ZM91.2 173.6L93.0 173.6L93.0 174.0L91.5 175.5L91.2 175.5ZM93.0 173.6L95.0 173.6L95.0 175.5L94.6 175.5L93.0 174.0ZM98.8 173.6L99.1 173.6L99.1 175.5L98.8 175.5ZM104.1 173.6L104.5 173.6L104.5 175.5L104.1 175.5ZM119.7 173.6L121.5 173.6L121.5 174.0L120.0 175.5L119.7 175.5ZM121.5 173.6L123.5 173.6L123.5 174.0L121.5 174.0ZM123.5 173.6L125.3 173.6L125.3 175.5L125.0 175.5L123.5 174.0ZM125.3 173.6L127.2 173.6L127.2 174.0L125.7 175.5L125.3 175.5ZM127.2 173.6L129.1 173.6L129.1 175.5L128.8 175.5L127.2 174.0ZM138.6 173.6L140.6 173.6L140.6 174.0L139.0 175.5L138.6 175.5ZM140.6 173.6L142.4 173.6L142.4 175.5L142.1 175.5L140.6 174.0ZM150.1 173.6L150.4 173.6L151.9 175.2L151.9 175.5L150.1 175.5ZM153.8 175.2L153.8 175.5L151.9 175.5L151.9 175.2ZM155.8 175.2L155.8 175.5L153.8 175.5L153.8 175.2ZM157.3 173.6L157.6 173.6L157.6 175.5L155.8 175.5L155.8 175.2ZM157.6 173.6L159.6 173.6L159.6 174.0L158.0 175.5L157.6 175.5ZM159.6 173.6L159.9 173.6L159.6 174.0ZM170.6 173.6L170.9 173.6L170.9 174.0ZM170.9 173.6L171.3 173.6L170.9 174.0ZM191.5 173.6L191.9 173.6L191.9 174.0ZM191.9 173.6L192.2 173.6L191.9 174.0ZM71.8 175.5L72.2 175.5L72.2 175.9ZM72.2 175.5L74.1 175.5L74.1 175.9L72.2 175.9ZM74.1 175.5L76.0 175.5L76.0 177.4L75.6 177.4L74.1 175.9ZM79.8 175.5L80.1 175.5L81.7 177.1L81.7 177.4L79.8 177.4ZM83.5 175.5L83.5 175.9L83.2 175.5ZM81.7 177.4L81.7 177.1L82.0 177.4ZM83.5 175.5L83.9 175.5L83.5 175.9ZM87.0 175.5L87.3 175.5L87.3 175.9ZM87.3 175.5L89.2 175.5L89.2 177.4L88.9 177.4L87.3 175.9ZM89.2 175.5L91.2 175.5L91.2 175.9L89.6 177.4L89.2 177.4ZM91.2 175.5L91.5 175.5L91.2 175.9ZM93.0 177.4L92.7 177.4L93.0 177.1ZM94.6 175.5L95.0 175.5L95.0 177.4L93.0 177.4L93.0 177.1ZM96.8 175.5L98.8 175.5L98.8 175.9L97.2 177.4L96.8 177.4ZM98.8 175.5L99.1 175.5L98.8 175.9ZM104.1 175.5L104.5 175.5L104.5 175.9ZM104.5 175.5L106.3 175.5L106.3 177.4L106.0 177.4L104.5 175.9ZM119.7 175.5L120.0 175.5L121.5 177.1L121.5 177.4L119.7 177.4ZM123.5 177.1L123.5 177.4L121.5 177.4L121.5 177.1ZM125.0 175.5L125.3 175.5L125.3 177.4L123.5 177.4L123.5 177.1ZM125.3 175.5L125.7 175.5L127.2 177.1L127.2 177.4L125.3 177.4ZM128.8 175.5L129.1 175.5L129.1 177.4L127.2 177.4L127.2 177.1ZM131.1 175.5L132.9 175.5L132.9 175.9L131.4 177.4L131.1 177.4ZM132.9 175.5L134.8 175.5L134.8 177.4L134.5 177.4L132.9 175.9ZM138.6 175.5L139.0 175.5L139.0 177.4L138.6 177.4ZM142.1 175.5L142.4 175.5L142.4 177.4L142.1 177.4ZM157.6 175.5L158.0 175.5L159.6 177.1L159.6 177.4L157.6 177.4ZM159.9 177.4L159.6 177.4L159.6 177.1ZM184.2 177.1L184.2 177.4L183.9 177.4ZM184.6 177.4L184.2 177.4L184.2 177.1ZM75.6 177.4L76.0 177.4L76.0 177.8ZM76.0 177.4L77.8 177.4L77.8 177.8L76.0 177.8ZM77.8 177.4L79.8 177.4L79.8 177.8L77.8 177.8ZM79.8 177.4L81.7 177.4L81.7 177.8L79.8 177.8ZM81.7 177.4L82.0 177.4L81.7 177.8ZM83.5 179.3L83.2 179.3L83.5 179.0ZM85.5 179.0L85.5 179.3L83.5 179.3L83.5 179.0ZM85.8 179.3L85.5 179.3L85.5 179.0ZM88.9 177.4L89.2 177.4L89.2 177.8ZM89.2 177.4L89.6 177.4L89.2 177.8ZM91.2 179.3L90.8 179.3L91.2 179.0ZM92.7 177.4L93.0 177.4L93.0 179.3L91.2 179.3L91.2 179.0ZM95.0 177.4L96.8 177.4L96.8 177.8L95.3 179.3L95.0 179.3ZM96.8 177.4L97.2 177.4L96.8 177.8ZM106.0 177.4L106.3 177.4L106.3 177.8ZM106.3 177.4L108.2 177.4L108.2 179.3L107.9 179.3L106.3 177.8ZM110.2 177.4L112.0 177.4L112.0 177.8L110.5 179.3L110.2 179.3ZM112.0 177.4L114.0 177.4L114.0 179.3L113.6 179.3L112.0 177.8ZM131.1 177.4L131.4 177.4L132.9 179.0L132.9 179.3L131.1 179.3ZM134.8 177.4L134.8 177.8L134.5 177.4ZM132.9 179.3L132.9 179.0L133.3 179.3ZM134.8 177.4L136.8 177.4L136.8 179.3L136.4 179.3L134.8 177.8ZM138.6 177.4L139.0 177.4L140.6 179.0L140.6 179.3L138.6 179.3ZM142.1 177.4L142.4 177.4L142.4 179.3L140.6 179.3L140.6 179.0ZM142.4 177.4L144.3 177.4L144.3 177.8L142.8 179.3L142.4 179.3ZM144.3 177.4L146.2 177.4L146.2 179.3L145.9 179.3L144.3 177.8ZM148.1 177.4L150.1 177.4L150.1 177.8L148.5 179.3L148.1 179.3ZM150.1 177.4L151.9 177.4L151.9 179.3L151.6 179.3L150.1 177.8ZM153.8 177.4L155.8 177.4L155.8 177.8L154.2 179.3L153.8 179.3ZM155.8 177.4L157.6 177.4L157.6 177.8L155.8 177.8ZM157.6 177.4L159.6 177.4L159.6 177.8L157.6 177.8ZM159.6 177.4L159.9 177.4L159.6 177.8ZM183.9 177.4L184.2 177.4L184.2 177.8ZM184.2 177.4L184.6 177.4L184.2 177.8ZM193.8 179.0L193.8 179.3L193.4 179.3ZM194.1 179.3L193.8 179.3L193.8 179.0ZM83.2 179.3L83.5 179.3L83.5 179.7ZM83.5 179.3L85.5 179.3L85.5 179.7L83.5 179.7ZM85.5 179.3L85.8 179.3L85.5 179.7ZM90.8 179.3L91.2 179.3L91.2 179.7ZM91.2 179.3L93.0 179.3L93.0 179.7L91.2 179.7ZM93.0 179.3L95.0 179.3L95.0 181.2L94.6 181.2L93.0 179.7ZM95.0 179.3L95.3 179.3L95.3 181.2L95.0 181.2ZM107.9 179.3L108.2 179.3L108.2 181.2L107.9 181.2ZM110.2 179.3L110.5 179.3L112.0 180.9L112.0 181.2L110.2 181.2ZM113.6 179.3L114.0 179.3L114.0 181.2L112.0 181.2L112.0 180.9ZM131.1 179.3L132.9 179.3L132.9 179.7L131.4 181.2L131.1 181.2ZM132.9 179.3L133.3 179.3L132.9 179.7ZM134.8 181.2L134.5 181.2L134.8 180.9ZM136.4 179.3L136.8 179.3L136.8 181.2L134.8 181.2L134.8 180.9ZM142.4 179.3L142.8 179.3L144.3 180.9L144.3 181.2L142.4 181.2ZM145.9 179.3L146.2 179.3L146.2 181.2L144.3 181.2L144.3 180.9ZM148.1 179.3L148.5 179.3L148.5 181.2L148.1 181.2ZM151.6 179.3L151.9 179.3L151.9 179.7ZM151.9 179.3L153.8 179.3L153.8 179.7L151.9 179.7ZM153.8 179.3L154.2 179.3L153.8 179.7ZM193.4 179.3L193.8 179.3L193.8 179.7ZM193.8 179.3L194.1 179.3L193.8 179.7ZM72.2 182.8L72.2 183.1L71.8 183.1ZM72.5 183.1L72.2 183.1L72.2 182.8ZM94.6 181.2L95.0 181.2L95.0 181.6ZM95.0 181.2L95.3 181.2L95.0 181.6ZM107.9 181.2L108.2 181.2L108.2 181.6ZM108.2 181.2L110.2 181.2L110.2 183.1L109.8 183.1L108.2 181.6ZM127.2 181.2L129.1 181.2L129.1 181.6L127.6 183.1L127.2 183.1ZM129.1 181.2L131.1 181.2L131.1 181.6L129.1 181.6ZM131.1 181.2L131.4 181.2L131.1 181.6ZM134.5 181.2L134.8 181.2L134.8 181.6ZM134.8 181.2L136.8 181.2L136.8 181.6L134.8 181.6ZM136.8 181.2L138.6 181.2L138.6 183.1L138.3 183.1L136.8 181.6ZM140.6 181.2L142.4 181.2L142.4 181.6L140.9 183.1L140.6 183.1ZM142.4 181.2L144.3 181.2L144.3 181.6L142.4 181.6ZM144.3 181.2L146.2 181.2L146.2 183.1L145.9 183.1L144.3 181.6ZM146.2 181.2L148.1 181.2L148.1 181.6L146.6 183.1L146.2 183.1ZM148.1 181.2L148.5 181.2L148.1 181.6ZM169.1 182.8L169.1 183.1L168.7 183.1ZM169.4 183.1L169.1 183.1L169.1 182.8ZM71.8 183.1L72.2 183.1L72.2 183.5ZM72.2 183.1L72.5 183.1L72.2 183.5ZM109.8 183.1L110.2 183.1L110.2 183.5ZM110.2 183.1L112.0 183.1L112.0 183.5L110.2 183.5ZM112.0 183.1L114.0 183.1L114.0 183.5L112.0 183.5ZM114.0 183.1L115.8 183.1L115.8 185.0L115.5 185.0L114.0 183.5ZM125.3 183.1L127.2 183.1L127.2 183.5L125.7 185.0L125.3 185.0ZM127.2 183.1L127.6 183.1L127.2 183.5ZM138.3 183.1L138.6 183.1L138.6 183.5ZM138.6 183.1L140.6 183.1L140.6 185.0L140.2 185.0L138.6 183.5ZM140.6 183.1L140.9 183.1L142.4 184.7L142.4 185.0L140.6 185.0ZM144.3 184.7L144.3 185.0L142.4 185.0L142.4 184.7ZM145.9 183.1L146.2 183.1L146.2 185.0L144.3 185.0L144.3 184.7ZM146.2 183.1L146.6 183.1L146.6 185.0L146.2 185.0ZM168.7 183.1L169.1 183.1L169.1 183.5ZM169.1 183.1L169.4 183.1L169.1 183.5ZM95.0 186.6L95.0 186.9L94.6 186.9ZM95.3 186.9L95.0 186.9L95.0 186.6ZM115.5 185.0L115.8 185.0L115.8 185.4ZM115.8 185.0L117.8 185.0L117.8 185.4L115.8 185.4ZM117.8 185.0L119.7 185.0L119.7 186.9L119.3 186.9L117.8 185.4ZM123.5 185.0L125.3 185.0L125.3 185.4L123.8 186.9L123.5 186.9ZM125.3 185.0L125.7 185.0L125.3 185.4ZM140.2 185.0L140.6 185.0L140.6 185.4ZM140.6 185.0L142.4 185.0L142.4 186.9L142.1 186.9L140.6 185.4ZM142.4 185.0L144.3 185.0L144.3 185.4L142.8 186.9L142.4 186.9ZM144.3 185.0L146.2 185.0L146.2 185.4L144.3 185.4ZM146.2 185.0L146.6 185.0L146.2 185.4ZM94.6 186.9L95.0 186.9L95.0 187.3ZM95.0 186.9L95.3 186.9L95.0 187.3ZM119.3 186.9L119.7 186.9L119.7 187.3ZM119.7 186.9L121.5 186.9L121.5 187.3L119.7 187.3ZM121.5 186.9L123.5 186.9L123.5 187.3L121.5 187.3ZM123.5 186.9L123.8 186.9L123.5 187.3ZM142.1 186.9L142.4 186.9L142.4 187.3ZM142.4 186.9L142.8 186.9L142.4 187.3ZM123.5 194.2L123.5 194.5L123.1 194.5ZM123.8 194.5L123.5 194.5L123.5 194.2ZM123.1 194.5L123.5 194.5L123.5 194.9ZM123.5 194.5L123.8 194.5L123.5 194.9ZM153.8 82.4h2.0v2.0h-2.0ZM151.9 84.3h3.9v2.0h-3.9ZM167.1 84.3h2.0v2.0h-2.0ZM151.9 86.2h7.7v2.0h-7.7ZM169.0 86.2h2.0v2.0h-2.0ZM157.6 88.1h2.0v2.0h-2.0ZM169.0 88.1h2.0v2.0h-2.0ZM165.2 90.0h2.0v2.0h-2.0ZM170.9 90.0h3.9v2.0h-3.9ZM148.1 91.9h2.0v2.0h-2.0ZM170.9 91.9h3.9v2.0h-3.9ZM157.6 93.8h3.9v2.0h-3.9ZM170.9 93.8h3.9v2.0h-3.9ZM170.9 95.7h3.9v2.0h-3.9ZM148.1 97.6h2.0v2.0h-2.0ZM170.9 97.6h2.0v2.0h-2.0ZM146.2 99.5h2.0v2.0h-2.0ZM151.9 99.5h2.0v2.0h-2.0ZM161.4 99.5h2.0v2.0h-2.0ZM169.0 99.5h3.9v2.0h-3.9ZM138.6 101.4h2.0v2.0h-2.0ZM144.3 101.4h3.9v2.0h-3.9ZM161.4 101.4h2.0v2.0h-2.0ZM169.0 101.4h3.9v2.0h-3.9ZM136.7 103.3h3.9v2.0h-3.9ZM144.3 103.3h3.9v2.0h-3.9ZM155.7 103.3h3.9v2.0h-3.9ZM167.1 103.3h5.8v2.0h-5.8ZM136.7 105.2h15.3v2.0h-15.3ZM155.7 105.2h3.9v2.0h-3.9ZM163.3 105.2h9.6v2.0h-9.6ZM140.5 107.1h2.0v2.0h-2.0ZM146.2 107.1h2.0v2.0h-2.0ZM151.9 107.1h21.0v2.0h-21.0ZM146.2 109.0h2.0v2.0h-2.0ZM155.7 109.0h15.3v2.0h-15.3ZM146.2 110.9h3.9v2.0h-3.9ZM159.5 110.9h11.5v2.0h-11.5ZM148.1 112.8h7.7v2.0h-7.7ZM161.4 112.8h9.6v2.0h-9.6ZM150.0 114.7h7.7v2.0h-7.7ZM163.3 114.7h7.7v2.0h-7.7ZM140.5 116.6h2.0v2.0h-2.0ZM150.0 116.6h9.6v2.0h-9.6ZM163.3 116.6h7.7v2.0h-7.7ZM136.7 118.5h5.8v2.0h-5.8ZM146.2 118.5h17.2v2.0h-17.2ZM167.1 118.5h5.8v2.0h-5.8ZM136.7 120.4h9.6v2.0h-9.6ZM150.0 120.4h7.7v2.0h-7.7ZM161.4 120.4h2.0v2.0h-2.0ZM167.1 120.4h5.8v2.0h-5.8ZM131.0 122.3h2.0v2.0h-2.0ZM136.7 122.3h9.6v2.0h-9.6ZM153.8 122.3h2.0v2.0h-2.0ZM161.4 122.3h11.5v2.0h-11.5ZM129.1 124.2h3.9v2.0h-3.9ZM136.7 124.2h13.4v2.0h-13.4ZM153.8 124.2h2.0v2.0h-2.0ZM161.4 124.2h2.0v2.0h-2.0ZM167.1 124.2h2.0v2.0h-2.0ZM172.8 124.2h2.0v2.0h-2.0ZM131.0 126.1h2.0v2.0h-2.0ZM136.7 126.1h2.0v2.0h-2.0ZM142.4 126.1h15.3v2.0h-15.3ZM161.4 126.1h2.0v2.0h-2.0ZM172.8 126.1h2.0v2.0h-2.0ZM136.7 128.0h2.0v2.0h-2.0ZM142.4 128.0h9.6v2.0h-9.6ZM155.7 128.0h11.5v2.0h-11.5ZM170.9 128.0h5.8v2.0h-5.8ZM138.6 129.9h2.0v2.0h-2.0ZM144.3 129.9h7.7v2.0h-7.7ZM155.7 129.9h21.0v2.0h-21.0ZM129.1 131.8h2.0v2.0h-2.0ZM138.6 131.8h2.0v2.0h-2.0ZM144.3 131.8h19.1v2.0h-19.1ZM167.1 131.8h3.9v2.0h-3.9ZM174.7 131.8h2.0v2.0h-2.0ZM129.1 133.7h34.3v2.0h-34.3ZM174.7 133.7h5.8v2.0h-5.8ZM129.1 135.6h38.1v2.0h-38.1ZM172.8 135.6h9.6v2.0h-9.6ZM112.0 137.5h7.7v2.0h-7.7ZM127.2 137.5h40.0v2.0h-40.0ZM170.9 137.5h7.7v2.0h-7.7ZM115.8 139.4h45.7v2.0h-45.7ZM165.2 139.4h11.5v2.0h-11.5ZM115.8 141.3h45.7v2.0h-45.7ZM165.2 141.3h9.6v2.0h-9.6ZM108.2 143.2h66.6v2.0h-66.6ZM104.4 145.1h72.3v2.0h-72.3ZM102.5 147.0h7.7v2.0h-7.7ZM113.9 147.0h57.1v2.0h-57.1ZM174.7 147.0h2.0v2.0h-2.0ZM102.5 148.9h5.8v2.0h-5.8ZM115.8 148.9h55.2v2.0h-55.2ZM100.6 150.8h7.7v2.0h-7.7ZM115.8 150.8h45.7v2.0h-45.7ZM165.2 150.8h5.8v2.0h-5.8ZM87.3 152.7h2.0v2.0h-2.0ZM100.6 152.7h60.9v2.0h-60.9ZM165.2 152.7h7.7v2.0h-7.7ZM81.6 154.6h2.0v2.0h-2.0ZM87.3 154.6h3.9v2.0h-3.9ZM98.7 154.6h74.2v2.0h-74.2ZM77.8 156.5h9.6v2.0h-9.6ZM96.8 156.5h70.4v2.0h-70.4ZM172.8 156.5h2.0v2.0h-2.0ZM77.8 158.4h5.8v2.0h-5.8ZM96.8 158.4h70.4v2.0h-70.4ZM79.7 160.3h3.9v2.0h-3.9ZM91.1 160.3h78.0v2.0h-78.0ZM74.0 162.2h2.0v2.0h-2.0ZM79.7 162.2h2.0v2.0h-2.0ZM87.3 162.2h79.9v2.0h-79.9ZM75.9 164.1h2.0v2.0h-2.0ZM85.4 164.1h7.7v2.0h-7.7ZM96.8 164.1h57.1v2.0h-57.1ZM157.6 164.1h5.8v2.0h-5.8ZM81.6 166.0h3.9v2.0h-3.9ZM89.2 166.0h3.9v2.0h-3.9ZM96.8 166.0h57.1v2.0h-57.1ZM157.6 166.0h5.8v2.0h-5.8ZM81.6 167.9h3.9v2.0h-3.9ZM94.9 167.9h47.6v2.0h-47.6ZM146.2 167.9h17.2v2.0h-17.2ZM75.9 169.8h2.0v2.0h-2.0ZM81.6 169.8h5.8v2.0h-5.8ZM94.9 169.8h2.0v2.0h-2.0ZM100.6 169.8h41.9v2.0h-41.9ZM146.2 169.8h3.9v2.0h-3.9ZM153.8 169.8h2.0v2.0h-2.0ZM74.0 171.7h22.9v2.0h-22.9ZM104.4 171.7h45.7v2.0h-45.7ZM72.1 173.6h7.7v2.0h-7.7ZM87.3 173.6h3.9v2.0h-3.9ZM94.9 173.6h3.9v2.0h-3.9ZM104.4 173.6h15.3v2.0h-15.3ZM129.1 173.6h9.6v2.0h-9.6ZM142.4 173.6h7.7v2.0h-7.7ZM75.9 175.5h3.9v2.0h-3.9ZM94.9 175.5h2.0v2.0h-2.0ZM106.3 175.5h13.4v2.0h-13.4ZM129.1 175.5h2.0v2.0h-2.0ZM134.8 175.5h3.9v2.0h-3.9ZM142.4 175.5h15.3v2.0h-15.3ZM93.0 177.4h2.0v2.0h-2.0ZM108.2 177.4h2.0v2.0h-2.0ZM113.9 177.4h17.2v2.0h-17.2ZM136.7 177.4h2.0v2.0h-2.0ZM146.2 177.4h2.0v2.0h-2.0ZM151.9 177.4h2.0v2.0h-2.0ZM108.2 179.3h2.0v2.0h-2.0ZM113.9 179.3h17.2v2.0h-17.2ZM136.7 179.3h5.8v2.0h-5.8ZM146.2 179.3h2.0v2.0h-2.0ZM110.1 181.2h17.2v2.0h-17.2ZM138.6 181.2h2.0v2.0h-2.0ZM115.8 183.1h9.6v2.0h-9.6ZM119.6 185.0h3.9v2.0h-3.9Z"/></clipPath>
<g clip-path="url(#clip-a)"><g filter="url(#softa)">
<path fill="#0000ad" d="M152.6 26.1h6.3v2.5h-6.3zM152.6 28.0h6.3v2.5h-6.3zM152.6 29.9h6.3v2.5h-6.3zM164.0 43.2h6.3v2.5h-6.3zM164.0 45.1h6.3v2.5h-6.3zM164.0 47.0h6.3v2.5h-6.3zM169.7 54.6h4.4v2.5h-4.4zM162.1 56.5h2.5v2.5h-2.5zM169.7 56.5h4.4v2.5h-4.4zM162.1 58.4h4.4v2.5h-4.4zM154.5 60.3h4.4v2.5h-4.4zM162.1 60.3h4.4v2.5h-4.4zM173.5 60.3h2.5v2.5h-2.5zM154.5 62.2h6.3v2.5h-6.3zM162.1 62.2h8.2v2.5h-8.2zM171.6 62.2h4.4v2.5h-4.4zM154.5 64.1h6.3v2.5h-6.3zM162.1 64.1h13.9v2.5h-13.9zM164.0 66.0h8.2v2.5h-8.2zM158.3 69.8h4.4v2.5h-4.4zM156.4 71.7h6.3v2.5h-6.3zM156.4 73.6h6.3v2.5h-6.3zM158.3 75.5h6.3v2.5h-6.3zM154.5 77.4h10.1v2.5h-10.1zM156.4 79.3h8.2v2.5h-8.2zM173.5 79.3h2.5v2.5h-2.5zM158.3 81.2h2.5v2.5h-2.5zM171.6 81.2h4.4v2.5h-4.4zM154.5 83.1h2.5v2.5h-2.5zM158.3 83.1h10.1v2.5h-10.1zM156.4 85.0h4.4v2.5h-4.4zM162.1 85.0h4.4v2.5h-4.4zM169.7 85.0h2.5v2.5h-2.5zM162.1 86.9h4.4v2.5h-4.4zM173.5 86.9h4.4v2.5h-4.4zM145.0 88.8h2.5v2.5h-2.5zM156.4 88.8h6.3v2.5h-6.3zM164.0 88.8h4.4v2.5h-4.4zM173.5 88.8h4.4v2.5h-4.4zM145.0 90.7h4.4v2.5h-4.4zM154.5 90.7h8.2v2.5h-8.2zM164.0 90.7h2.5v2.5h-2.5zM143.1 92.6h8.2v2.5h-8.2zM158.3 92.6h4.4v2.5h-4.4zM143.1 94.5h8.2v2.5h-8.2zM171.6 94.5h6.3v2.5h-6.3zM143.1 96.4h6.3v2.5h-6.3zM164.0 96.4h2.5v2.5h-2.5zM171.6 96.4h6.3v2.5h-6.3zM135.5 98.3h4.4v2.5h-4.4zM146.9 98.3h2.5v2.5h-2.5zM158.3 98.3h4.4v2.5h-4.4zM171.6 98.3h6.3v2.5h-6.3zM133.6 100.2h6.3v2.5h-6.3zM146.9 100.2h2.5v2.5h-2.5zM160.2 100.2h2.5v2.5h-2.5zM164.0 100.2h2.5v2.5h-2.5zM135.5 102.1h4.4v2.5h-4.4zM143.1 102.1h6.3v2.5h-6.3zM160.2 102.1h4.4v2.5h-4.4zM175.4 102.1h6.3v2.5h-6.3zM143.1 104.0h6.3v2.5h-6.3zM162.1 104.0h2.5v2.5h-2.5zM171.6 104.0h2.5v2.5h-2.5zM175.4 104.0h6.3v2.5h-6.3zM145.0 105.9h6.3v2.5h-6.3zM164.0 105.9h2.5v2.5h-2.5zM175.4 105.9h6.3v2.5h-6.3zM135.5 107.8h2.5v2.5h-2.5zM148.8 107.8h6.3v2.5h-6.3zM160.2 107.8h2.5v2.5h-2.5zM133.6 109.7h4.4v2.5h-4.4zM145.0 109.7h4.4v2.5h-4.4zM160.2 109.7h2.5v2.5h-2.5zM133.6 111.6h4.4v2.5h-4.4zM146.9 111.6h2.5v2.5h-2.5zM160.2 111.6h2.5v2.5h-2.5zM203.9 111.6h6.3v2.5h-6.3zM133.6 113.5h6.3v2.5h-6.3zM143.1 113.5h8.2v2.5h-8.2zM203.9 113.5h6.3v2.5h-6.3zM131.7 115.4h8.2v2.5h-8.2zM141.2 115.4h10.1v2.5h-10.1zM203.9 115.4h6.3v2.5h-6.3zM129.8 117.3h23.4v2.5h-23.4zM194.4 117.3h6.3v2.5h-6.3zM127.9 119.2h19.6v2.5h-19.6zM148.8 119.2h2.5v2.5h-2.5zM194.4 119.2h6.3v2.5h-6.3zM129.8 121.1h4.4v2.5h-4.4zM139.3 121.1h2.5v2.5h-2.5zM143.1 121.1h4.4v2.5h-4.4zM154.5 121.1h4.4v2.5h-4.4zM194.4 121.1h6.3v2.5h-6.3zM131.7 123.0h10.1v2.5h-10.1zM143.1 123.0h4.4v2.5h-4.4zM126.0 124.9h4.4v2.5h-4.4zM133.6 124.9h8.2v2.5h-8.2zM145.0 124.9h6.3v2.5h-6.3zM177.3 124.9h2.5v2.5h-2.5zM126.0 126.8h2.5v2.5h-2.5zM131.7 126.8h2.5v2.5h-2.5zM146.9 126.8h2.5v2.5h-2.5zM175.4 126.8h6.3v2.5h-6.3zM126.0 128.7h4.4v2.5h-4.4zM175.4 128.7h6.3v2.5h-6.3zM126.0 130.6h6.3v2.5h-6.3zM164.0 130.6h4.4v2.5h-4.4zM169.7 130.6h2.5v2.5h-2.5zM177.3 130.6h6.3v2.5h-6.3zM173.5 132.5h12.0v2.5h-12.0zM108.9 134.4h4.4v2.5h-4.4zM175.4 134.4h10.1v2.5h-10.1zM108.9 136.3h4.4v2.5h-4.4zM122.2 136.3h2.5v2.5h-2.5zM175.4 136.3h4.4v2.5h-4.4zM181.1 136.3h4.4v2.5h-4.4zM120.3 138.2h6.3v2.5h-6.3zM171.6 138.2h10.1v2.5h-10.1zM183.0 138.2h2.5v2.5h-2.5zM105.1 140.1h4.4v2.5h-4.4zM122.2 140.1h2.5v2.5h-2.5zM171.6 140.1h10.1v2.5h-10.1zM101.3 142.0h8.2v2.5h-8.2zM171.6 142.0h2.5v2.5h-2.5zM175.4 142.0h4.4v2.5h-4.4zM99.4 143.9h6.3v2.5h-6.3zM108.9 143.9h2.5v2.5h-2.5zM112.7 143.9h2.5v2.5h-2.5zM169.7 143.9h2.5v2.5h-2.5zM99.4 145.8h6.3v2.5h-6.3zM169.7 145.8h2.5v2.5h-2.5zM97.5 147.7h2.5v2.5h-2.5zM169.7 147.7h2.5v2.5h-2.5zM80.4 149.6h6.3v2.5h-6.3zM89.9 149.6h2.5v2.5h-2.5zM97.5 149.6h6.3v2.5h-6.3zM175.4 149.6h2.5v2.5h-2.5zM78.5 151.5h8.2v2.5h-8.2zM88.0 151.5h6.3v2.5h-6.3zM95.6 151.5h4.4v2.5h-4.4zM167.8 151.5h2.5v2.5h-2.5zM171.6 151.5h8.2v2.5h-8.2zM74.7 153.4h10.1v2.5h-10.1zM89.9 153.4h12.0v2.5h-12.0zM165.9 153.4h4.4v2.5h-4.4zM171.6 153.4h6.3v2.5h-6.3zM72.8 155.3h8.2v2.5h-8.2zM86.1 155.3h2.5v2.5h-2.5zM91.8 155.3h6.3v2.5h-6.3zM72.8 157.2h6.3v2.5h-6.3zM93.7 157.2h4.4v2.5h-4.4zM78.5 159.1h6.3v2.5h-6.3zM91.8 159.1h4.4v2.5h-4.4zM169.7 159.1h4.4v2.5h-4.4zM78.5 161.0h6.3v2.5h-6.3zM171.6 161.0h4.4v2.5h-4.4zM69.0 162.9h2.5v2.5h-2.5zM78.5 162.9h4.4v2.5h-4.4zM88.0 162.9h4.4v2.5h-4.4zM165.9 162.9h4.4v2.5h-4.4zM69.0 164.8h4.4v2.5h-4.4zM80.4 164.8h2.5v2.5h-2.5zM86.1 164.8h4.4v2.5h-4.4zM91.8 164.8h2.5v2.5h-2.5zM165.9 164.8h4.4v2.5h-4.4zM80.4 166.7h8.2v2.5h-8.2zM91.8 166.7h2.5v2.5h-2.5zM164.0 166.7h6.3v2.5h-6.3zM67.1 168.6h2.5v2.5h-2.5zM84.2 168.6h2.5v2.5h-2.5zM91.8 168.6h4.4v2.5h-4.4zM165.9 168.6h2.5v2.5h-2.5zM59.5 170.5h6.3v2.5h-6.3zM67.1 170.5h4.4v2.5h-4.4zM72.8 170.5h8.2v2.5h-8.2zM86.1 170.5h10.1v2.5h-10.1zM167.8 170.5h6.3v2.5h-6.3zM188.7 170.5h6.3v2.5h-6.3zM59.5 172.4h6.3v2.5h-6.3zM67.1 172.4h4.4v2.5h-4.4zM76.6 172.4h4.4v2.5h-4.4zM88.0 172.4h8.2v2.5h-8.2zM148.8 172.4h2.5v2.5h-2.5zM158.3 172.4h2.5v2.5h-2.5zM167.8 172.4h6.3v2.5h-6.3zM188.7 172.4h6.3v2.5h-6.3zM59.5 174.3h6.3v2.5h-6.3zM67.1 174.3h8.2v2.5h-8.2zM88.0 174.3h6.3v2.5h-6.3zM97.5 174.3h2.5v2.5h-2.5zM103.2 174.3h4.4v2.5h-4.4zM148.8 174.3h4.4v2.5h-4.4zM160.2 174.3h2.5v2.5h-2.5zM167.8 174.3h6.3v2.5h-6.3zM181.1 174.3h6.3v2.5h-6.3zM188.7 174.3h6.3v2.5h-6.3zM69.0 176.2h4.4v2.5h-4.4zM76.6 176.2h2.5v2.5h-2.5zM80.4 176.2h6.3v2.5h-6.3zM88.0 176.2h4.4v2.5h-4.4zM95.6 176.2h2.5v2.5h-2.5zM99.4 176.2h2.5v2.5h-2.5zM133.6 176.2h2.5v2.5h-2.5zM158.3 176.2h4.4v2.5h-4.4zM181.1 176.2h6.3v2.5h-6.3zM190.6 176.2h6.3v2.5h-6.3zM80.4 178.1h12.0v2.5h-12.0zM97.5 178.1h2.5v2.5h-2.5zM108.9 178.1h2.5v2.5h-2.5zM122.2 178.1h2.5v2.5h-2.5zM127.9 178.1h2.5v2.5h-2.5zM131.7 178.1h2.5v2.5h-2.5zM146.9 178.1h2.5v2.5h-2.5zM152.6 178.1h2.5v2.5h-2.5zM160.2 178.1h2.5v2.5h-2.5zM181.1 178.1h6.3v2.5h-6.3zM190.6 178.1h6.3v2.5h-6.3zM69.0 180.0h6.3v2.5h-6.3zM80.4 180.0h12.0v2.5h-12.0zM108.9 180.0h2.5v2.5h-2.5zM118.4 180.0h17.7v2.5h-17.7zM143.1 180.0h8.2v2.5h-8.2zM152.6 180.0h4.4v2.5h-4.4zM165.9 180.0h6.3v2.5h-6.3zM190.6 180.0h6.3v2.5h-6.3zM69.0 181.9h6.3v2.5h-6.3zM108.9 181.9h2.5v2.5h-2.5zM116.5 181.9h19.6v2.5h-19.6zM137.4 181.9h2.5v2.5h-2.5zM143.1 181.9h2.5v2.5h-2.5zM146.9 181.9h4.4v2.5h-4.4zM165.9 181.9h6.3v2.5h-6.3zM69.0 183.8h6.3v2.5h-6.3zM91.8 183.8h6.3v2.5h-6.3zM107.0 183.8h4.4v2.5h-4.4zM116.5 183.8h4.4v2.5h-4.4zM122.2 183.8h8.2v2.5h-8.2zM135.5 183.8h2.5v2.5h-2.5zM141.2 183.8h8.2v2.5h-8.2zM165.9 183.8h6.3v2.5h-6.3zM91.8 185.7h6.3v2.5h-6.3zM116.5 185.7h6.3v2.5h-6.3zM124.1 185.7h4.4v2.5h-4.4zM141.2 185.7h8.2v2.5h-8.2zM91.8 187.6h6.3v2.5h-6.3zM116.5 187.6h6.3v2.5h-6.3zM139.3 187.6h6.3v2.5h-6.3zM120.3 191.4h6.3v2.5h-6.3zM120.3 193.3h6.3v2.5h-6.3zM120.3 195.2h6.3v2.5h-6.3z"/>
<path fill="#0000bf" d="M165.9 52.7h6.3v2.5h-6.3zM164.0 54.6h6.3v2.5h-6.3zM156.4 56.5h6.3v2.5h-6.3zM164.0 56.5h6.3v2.5h-6.3zM148.8 58.4h6.3v2.5h-6.3zM156.4 58.4h6.3v2.5h-6.3zM167.8 58.4h6.3v2.5h-6.3zM148.8 60.3h6.3v2.5h-6.3zM158.3 60.3h4.4v2.5h-4.4zM165.9 60.3h2.5v2.5h-2.5zM171.6 60.3h2.5v2.5h-2.5zM148.8 62.2h6.3v2.5h-6.3zM169.7 62.2h2.5v2.5h-2.5zM152.6 67.9h6.3v2.5h-6.3zM152.6 69.8h6.3v2.5h-6.3zM152.6 71.7h4.4v2.5h-4.4zM169.7 77.4h4.4v2.5h-4.4zM150.7 79.3h6.3v2.5h-6.3zM171.6 79.3h2.5v2.5h-2.5zM148.8 81.2h6.3v2.5h-6.3zM156.4 81.2h2.5v2.5h-2.5zM164.0 81.2h4.4v2.5h-4.4zM169.7 81.2h2.5v2.5h-2.5zM150.7 83.1h2.5v2.5h-2.5zM156.4 83.1h2.5v2.5h-2.5zM169.7 83.1h6.3v2.5h-6.3zM160.2 85.0h2.5v2.5h-2.5zM165.9 85.0h2.5v2.5h-2.5zM171.6 85.0h4.4v2.5h-4.4zM152.6 86.9h2.5v2.5h-2.5zM160.2 86.9h2.5v2.5h-2.5zM165.9 86.9h2.5v2.5h-2.5zM169.7 86.9h4.4v2.5h-4.4zM146.9 88.8h2.5v2.5h-2.5zM154.5 88.8h2.5v2.5h-2.5zM162.1 88.8h2.5v2.5h-2.5zM171.6 88.8h2.5v2.5h-2.5zM148.8 90.7h4.4v2.5h-4.4zM165.9 90.7h2.5v2.5h-2.5zM169.7 90.7h2.5v2.5h-2.5zM175.4 90.7h2.5v2.5h-2.5zM150.7 92.6h2.5v2.5h-2.5zM154.5 92.6h4.4v2.5h-4.4zM162.1 92.6h2.5v2.5h-2.5zM165.9 92.6h2.5v2.5h-2.5zM173.5 92.6h4.4v2.5h-4.4zM150.7 94.5h2.5v2.5h-2.5zM160.2 94.5h6.3v2.5h-6.3zM148.8 96.4h4.4v2.5h-4.4zM154.5 96.4h2.5v2.5h-2.5zM158.3 96.4h6.3v2.5h-6.3zM139.3 98.3h2.5v2.5h-2.5zM143.1 98.3h4.4v2.5h-4.4zM148.8 98.3h4.4v2.5h-4.4zM162.1 98.3h4.4v2.5h-4.4zM139.3 100.2h2.5v2.5h-2.5zM145.0 100.2h2.5v2.5h-2.5zM148.8 100.2h2.5v2.5h-2.5zM158.3 100.2h2.5v2.5h-2.5zM162.1 100.2h2.5v2.5h-2.5zM165.9 100.2h6.3v2.5h-6.3zM133.6 102.1h2.5v2.5h-2.5zM139.3 102.1h2.5v2.5h-2.5zM148.8 102.1h4.4v2.5h-4.4zM158.3 102.1h2.5v2.5h-2.5zM164.0 102.1h2.5v2.5h-2.5zM137.4 104.0h2.5v2.5h-2.5zM150.7 104.0h2.5v2.5h-2.5zM173.5 104.0h2.5v2.5h-2.5zM143.1 105.9h2.5v2.5h-2.5zM150.7 105.9h2.5v2.5h-2.5zM171.6 105.9h4.4v2.5h-4.4zM133.6 107.8h2.5v2.5h-2.5zM139.3 107.8h10.1v2.5h-10.1zM154.5 107.8h2.5v2.5h-2.5zM164.0 107.8h2.5v2.5h-2.5zM173.5 107.8h2.5v2.5h-2.5zM143.1 109.7h2.5v2.5h-2.5zM148.8 109.7h2.5v2.5h-2.5zM162.1 109.7h2.5v2.5h-2.5zM169.7 109.7h2.5v2.5h-2.5zM143.1 111.6h2.5v2.5h-2.5zM148.8 111.6h2.5v2.5h-2.5zM154.5 111.6h2.5v2.5h-2.5zM141.2 113.5h2.5v2.5h-2.5zM139.3 115.4h2.5v2.5h-2.5zM146.9 119.2h2.5v2.5h-2.5zM150.7 119.2h2.5v2.5h-2.5zM154.5 119.2h2.5v2.5h-2.5zM126.0 121.1h4.4v2.5h-4.4zM133.6 121.1h4.4v2.5h-4.4zM141.2 121.1h2.5v2.5h-2.5zM146.9 121.1h2.5v2.5h-2.5zM126.0 123.0h4.4v2.5h-4.4zM146.9 123.0h4.4v2.5h-4.4zM131.7 124.9h2.5v2.5h-2.5zM175.4 124.9h2.5v2.5h-2.5zM127.9 126.8h2.5v2.5h-2.5zM133.6 126.8h4.4v2.5h-4.4zM148.8 126.8h2.5v2.5h-2.5zM165.9 126.8h2.5v2.5h-2.5zM171.6 126.8h2.5v2.5h-2.5zM129.8 128.7h6.3v2.5h-6.3zM150.7 128.7h2.5v2.5h-2.5zM165.9 128.7h2.5v2.5h-2.5zM162.1 130.6h2.5v2.5h-2.5zM171.6 130.6h6.3v2.5h-6.3zM127.9 132.5h4.4v2.5h-4.4zM171.6 132.5h2.5v2.5h-2.5zM112.7 134.4h2.5v2.5h-2.5zM120.3 134.4h2.5v2.5h-2.5zM173.5 134.4h2.5v2.5h-2.5zM112.7 136.3h2.5v2.5h-2.5zM118.4 136.3h4.4v2.5h-4.4zM131.7 136.3h2.5v2.5h-2.5zM169.7 136.3h4.4v2.5h-4.4zM179.2 136.3h2.5v2.5h-2.5zM108.9 138.2h2.5v2.5h-2.5zM112.7 138.2h2.5v2.5h-2.5zM118.4 138.2h2.5v2.5h-2.5zM129.8 138.2h2.5v2.5h-2.5zM181.1 138.2h2.5v2.5h-2.5zM108.9 140.1h2.5v2.5h-2.5zM169.7 140.1h2.5v2.5h-2.5zM108.9 142.0h6.3v2.5h-6.3zM169.7 142.0h2.5v2.5h-2.5zM173.5 142.0h2.5v2.5h-2.5zM105.1 143.9h4.4v2.5h-4.4zM114.6 143.9h2.5v2.5h-2.5zM171.6 143.9h2.5v2.5h-2.5zM175.4 143.9h4.4v2.5h-4.4zM167.8 145.8h2.5v2.5h-2.5zM171.6 145.8h4.4v2.5h-4.4zM99.4 147.7h2.5v2.5h-2.5zM103.2 147.7h4.4v2.5h-4.4zM167.8 147.7h2.5v2.5h-2.5zM171.6 147.7h4.4v2.5h-4.4zM88.0 149.6h2.5v2.5h-2.5zM169.7 149.6h6.3v2.5h-6.3zM177.3 149.6h2.5v2.5h-2.5zM99.4 151.5h2.5v2.5h-2.5zM165.9 151.5h2.5v2.5h-2.5zM84.2 153.4h6.3v2.5h-6.3zM169.7 153.4h2.5v2.5h-2.5zM82.3 155.3h2.5v2.5h-2.5zM89.9 155.3h2.5v2.5h-2.5zM97.5 155.3h2.5v2.5h-2.5zM164.0 155.3h2.5v2.5h-2.5zM169.7 155.3h8.2v2.5h-8.2zM78.5 157.2h2.5v2.5h-2.5zM82.3 157.2h2.5v2.5h-2.5zM86.1 157.2h2.5v2.5h-2.5zM91.8 157.2h2.5v2.5h-2.5zM97.5 157.2h2.5v2.5h-2.5zM169.7 157.2h2.5v2.5h-2.5zM175.4 157.2h2.5v2.5h-2.5zM70.9 159.1h2.5v2.5h-2.5zM84.2 159.1h4.4v2.5h-4.4zM173.5 159.1h4.4v2.5h-4.4zM70.9 161.0h4.4v2.5h-4.4zM84.2 161.0h2.5v2.5h-2.5zM89.9 161.0h6.3v2.5h-6.3zM164.0 161.0h8.2v2.5h-8.2zM70.9 162.9h2.5v2.5h-2.5zM82.3 162.9h2.5v2.5h-2.5zM86.1 162.9h2.5v2.5h-2.5zM91.8 162.9h2.5v2.5h-2.5zM164.0 162.9h2.5v2.5h-2.5zM169.7 162.9h2.5v2.5h-2.5zM72.8 164.8h2.5v2.5h-2.5zM78.5 164.8h2.5v2.5h-2.5zM82.3 164.8h4.4v2.5h-4.4zM89.9 164.8h2.5v2.5h-2.5zM162.1 164.8h4.4v2.5h-4.4zM69.0 166.7h2.5v2.5h-2.5zM72.8 166.7h2.5v2.5h-2.5zM88.0 166.7h4.4v2.5h-4.4zM93.7 166.7h2.5v2.5h-2.5zM69.0 168.6h2.5v2.5h-2.5zM82.3 168.6h2.5v2.5h-2.5zM86.1 168.6h6.3v2.5h-6.3zM164.0 168.6h2.5v2.5h-2.5zM70.9 170.5h2.5v2.5h-2.5zM82.3 170.5h4.4v2.5h-4.4zM105.1 170.5h2.5v2.5h-2.5zM141.2 170.5h2.5v2.5h-2.5zM70.9 172.4h2.5v2.5h-2.5zM80.4 172.4h4.4v2.5h-4.4zM86.1 172.4h2.5v2.5h-2.5zM107.0 172.4h2.5v2.5h-2.5zM141.2 172.4h2.5v2.5h-2.5zM150.7 172.4h2.5v2.5h-2.5zM160.2 172.4h2.5v2.5h-2.5zM76.6 174.3h8.2v2.5h-8.2zM152.6 174.3h2.5v2.5h-2.5zM72.8 176.2h4.4v2.5h-4.4zM86.1 176.2h2.5v2.5h-2.5zM91.8 176.2h4.4v2.5h-4.4zM97.5 176.2h2.5v2.5h-2.5zM101.3 176.2h4.4v2.5h-4.4zM107.0 176.2h4.4v2.5h-4.4zM143.1 176.2h2.5v2.5h-2.5zM146.9 176.2h4.4v2.5h-4.4zM72.8 178.1h8.2v2.5h-8.2zM91.8 178.1h2.5v2.5h-2.5zM95.6 178.1h2.5v2.5h-2.5zM103.2 178.1h6.3v2.5h-6.3zM118.4 178.1h4.4v2.5h-4.4zM129.8 178.1h2.5v2.5h-2.5zM133.6 178.1h2.5v2.5h-2.5zM139.3 178.1h8.2v2.5h-8.2zM148.8 178.1h4.4v2.5h-4.4zM158.3 178.1h2.5v2.5h-2.5zM105.1 180.0h4.4v2.5h-4.4zM110.8 180.0h2.5v2.5h-2.5zM116.5 180.0h2.5v2.5h-2.5zM150.7 180.0h2.5v2.5h-2.5zM105.1 181.9h4.4v2.5h-4.4zM110.8 181.9h2.5v2.5h-2.5zM135.5 181.9h2.5v2.5h-2.5zM141.2 181.9h2.5v2.5h-2.5zM145.0 181.9h2.5v2.5h-2.5zM110.8 183.8h2.5v2.5h-2.5zM114.6 183.8h2.5v2.5h-2.5zM137.4 183.8h4.4v2.5h-4.4zM112.7 185.7h4.4v2.5h-4.4zM122.2 185.7h2.5v2.5h-2.5zM137.4 185.7h4.4v2.5h-4.4zM122.2 187.6h4.4v2.5h-4.4z"/>
<path fill="#0000d4" d="M165.9 58.4h2.5v2.5h-2.5zM167.8 60.3h2.5v2.5h-2.5zM167.8 73.6h6.3v2.5h-6.3zM165.9 75.5h4.4v2.5h-4.4zM171.6 75.5h2.5v2.5h-2.5zM164.0 77.4h2.5v2.5h-2.5zM167.8 77.4h2.5v2.5h-2.5zM164.0 79.3h4.4v2.5h-4.4zM169.7 79.3h2.5v2.5h-2.5zM154.5 81.2h2.5v2.5h-2.5zM167.8 81.2h2.5v2.5h-2.5zM148.8 83.1h2.5v2.5h-2.5zM152.6 83.1h2.5v2.5h-2.5zM167.8 83.1h2.5v2.5h-2.5zM152.6 85.0h4.4v2.5h-4.4zM167.8 85.0h2.5v2.5h-2.5zM148.8 88.8h2.5v2.5h-2.5zM152.6 88.8h2.5v2.5h-2.5zM167.8 88.8h4.4v2.5h-4.4zM152.6 90.7h2.5v2.5h-2.5zM167.8 90.7h2.5v2.5h-2.5zM173.5 90.7h2.5v2.5h-2.5zM152.6 92.6h2.5v2.5h-2.5zM164.0 92.6h2.5v2.5h-2.5zM152.6 94.5h4.4v2.5h-4.4zM158.3 94.5h2.5v2.5h-2.5zM165.9 94.5h2.5v2.5h-2.5zM169.7 94.5h2.5v2.5h-2.5zM152.6 96.4h2.5v2.5h-2.5zM156.4 96.4h2.5v2.5h-2.5zM141.2 98.3h2.5v2.5h-2.5zM152.6 98.3h6.3v2.5h-6.3zM165.9 98.3h2.5v2.5h-2.5zM169.7 98.3h2.5v2.5h-2.5zM143.1 100.2h2.5v2.5h-2.5zM150.7 100.2h2.5v2.5h-2.5zM154.5 100.2h4.4v2.5h-4.4zM173.5 100.2h2.5v2.5h-2.5zM141.2 102.1h2.5v2.5h-2.5zM152.6 102.1h2.5v2.5h-2.5zM165.9 102.1h2.5v2.5h-2.5zM169.7 102.1h2.5v2.5h-2.5zM133.6 104.0h2.5v2.5h-2.5zM141.2 104.0h2.5v2.5h-2.5zM148.8 104.0h2.5v2.5h-2.5zM160.2 104.0h2.5v2.5h-2.5zM164.0 104.0h2.5v2.5h-2.5zM133.6 105.9h2.5v2.5h-2.5zM167.8 105.9h4.4v2.5h-4.4zM137.4 107.8h2.5v2.5h-2.5zM162.1 107.8h2.5v2.5h-2.5zM169.7 107.8h4.4v2.5h-4.4zM137.4 109.7h2.5v2.5h-2.5zM141.2 109.7h2.5v2.5h-2.5zM150.7 109.7h6.3v2.5h-6.3zM171.6 109.7h4.4v2.5h-4.4zM137.4 111.6h2.5v2.5h-2.5zM145.0 111.6h2.5v2.5h-2.5zM158.3 111.6h2.5v2.5h-2.5zM162.1 111.6h2.5v2.5h-2.5zM139.3 113.5h2.5v2.5h-2.5zM154.5 113.5h4.4v2.5h-4.4zM150.7 115.4h2.5v2.5h-2.5zM154.5 117.3h2.5v2.5h-2.5zM152.6 119.2h2.5v2.5h-2.5zM158.3 119.2h4.4v2.5h-4.4zM137.4 121.1h2.5v2.5h-2.5zM148.8 121.1h2.5v2.5h-2.5zM152.6 121.1h2.5v2.5h-2.5zM158.3 121.1h2.5v2.5h-2.5zM141.2 123.0h2.5v2.5h-2.5zM164.0 123.0h2.5v2.5h-2.5zM173.5 123.0h4.4v2.5h-4.4zM129.8 124.9h2.5v2.5h-2.5zM160.2 124.9h2.5v2.5h-2.5zM165.9 124.9h2.5v2.5h-2.5zM171.6 124.9h4.4v2.5h-4.4zM137.4 126.8h2.5v2.5h-2.5zM145.0 126.8h2.5v2.5h-2.5zM152.6 126.8h4.4v2.5h-4.4zM167.8 126.8h2.5v2.5h-2.5zM173.5 126.8h2.5v2.5h-2.5zM135.5 128.7h2.5v2.5h-2.5zM145.0 128.7h4.4v2.5h-4.4zM154.5 128.7h2.5v2.5h-2.5zM164.0 128.7h2.5v2.5h-2.5zM167.8 128.7h6.3v2.5h-6.3zM167.8 130.6h2.5v2.5h-2.5zM126.0 132.5h2.5v2.5h-2.5zM137.4 132.5h4.4v2.5h-4.4zM162.1 132.5h10.1v2.5h-10.1zM114.6 134.4h2.5v2.5h-2.5zM118.4 134.4h2.5v2.5h-2.5zM131.7 134.4h2.5v2.5h-2.5zM164.0 134.4h10.1v2.5h-10.1zM114.6 136.3h2.5v2.5h-2.5zM165.9 136.3h4.4v2.5h-4.4zM173.5 136.3h2.5v2.5h-2.5zM110.8 138.2h2.5v2.5h-2.5zM169.7 138.2h2.5v2.5h-2.5zM110.8 140.1h6.3v2.5h-6.3zM120.3 140.1h2.5v2.5h-2.5zM124.1 140.1h2.5v2.5h-2.5zM167.8 140.1h2.5v2.5h-2.5zM114.6 142.0h2.5v2.5h-2.5zM124.1 142.0h2.5v2.5h-2.5zM110.8 143.9h2.5v2.5h-2.5zM173.5 143.9h2.5v2.5h-2.5zM105.1 145.8h2.5v2.5h-2.5zM112.7 145.8h4.4v2.5h-4.4zM101.3 147.7h2.5v2.5h-2.5zM86.1 149.6h2.5v2.5h-2.5zM103.2 149.6h2.5v2.5h-2.5zM167.8 149.6h2.5v2.5h-2.5zM101.3 151.5h2.5v2.5h-2.5zM169.7 151.5h2.5v2.5h-2.5zM164.0 153.4h2.5v2.5h-2.5zM80.4 155.3h2.5v2.5h-2.5zM165.9 155.3h2.5v2.5h-2.5zM80.4 157.2h2.5v2.5h-2.5zM88.0 157.2h4.4v2.5h-4.4zM165.9 157.2h4.4v2.5h-4.4zM171.6 157.2h4.4v2.5h-4.4zM72.8 159.1h4.4v2.5h-4.4zM88.0 159.1h2.5v2.5h-2.5zM95.6 159.1h2.5v2.5h-2.5zM99.4 159.1h2.5v2.5h-2.5zM105.1 159.1h2.5v2.5h-2.5zM160.2 159.1h2.5v2.5h-2.5zM76.6 161.0h2.5v2.5h-2.5zM86.1 161.0h4.4v2.5h-4.4zM74.7 162.9h4.4v2.5h-4.4zM84.2 162.9h2.5v2.5h-2.5zM74.7 164.8h2.5v2.5h-2.5zM93.7 164.8h2.5v2.5h-2.5zM70.9 166.7h2.5v2.5h-2.5zM78.5 166.7h2.5v2.5h-2.5zM156.4 166.7h2.5v2.5h-2.5zM162.1 166.7h2.5v2.5h-2.5zM70.9 168.6h4.4v2.5h-4.4zM78.5 168.6h2.5v2.5h-2.5zM101.3 170.5h2.5v2.5h-2.5zM154.5 170.5h2.5v2.5h-2.5zM158.3 170.5h4.4v2.5h-4.4zM72.8 172.4h4.4v2.5h-4.4zM84.2 172.4h2.5v2.5h-2.5zM105.1 172.4h2.5v2.5h-2.5zM146.9 172.4h2.5v2.5h-2.5zM152.6 172.4h6.3v2.5h-6.3zM74.7 174.3h2.5v2.5h-2.5zM84.2 174.3h2.5v2.5h-2.5zM93.7 174.3h2.5v2.5h-2.5zM99.4 174.3h4.4v2.5h-4.4zM107.0 174.3h2.5v2.5h-2.5zM114.6 174.3h2.5v2.5h-2.5zM154.5 174.3h2.5v2.5h-2.5zM158.3 174.3h2.5v2.5h-2.5zM78.5 176.2h2.5v2.5h-2.5zM105.1 176.2h2.5v2.5h-2.5zM114.6 176.2h2.5v2.5h-2.5zM120.3 176.2h2.5v2.5h-2.5zM141.2 176.2h2.5v2.5h-2.5zM145.0 176.2h2.5v2.5h-2.5zM150.7 176.2h4.4v2.5h-4.4zM110.8 178.1h4.4v2.5h-4.4zM116.5 178.1h2.5v2.5h-2.5zM124.1 178.1h2.5v2.5h-2.5zM154.5 178.1h2.5v2.5h-2.5zM91.8 180.0h6.3v2.5h-6.3zM135.5 180.0h2.5v2.5h-2.5zM141.2 180.0h2.5v2.5h-2.5zM91.8 181.9h6.3v2.5h-6.3zM139.3 181.9h2.5v2.5h-2.5zM112.7 183.8h2.5v2.5h-2.5zM120.3 183.8h2.5v2.5h-2.5z"/>
<path fill="#0000ea" d="M169.7 60.3h2.5v2.5h-2.5zM164.0 71.7h6.3v2.5h-6.3zM164.0 73.6h4.4v2.5h-4.4zM164.0 75.5h2.5v2.5h-2.5zM169.7 75.5h2.5v2.5h-2.5zM165.9 77.4h2.5v2.5h-2.5zM146.9 85.0h6.3v2.5h-6.3zM146.9 86.9h4.4v2.5h-4.4zM154.5 86.9h2.5v2.5h-2.5zM158.3 86.9h2.5v2.5h-2.5zM167.8 86.9h2.5v2.5h-2.5zM150.7 88.8h2.5v2.5h-2.5zM167.8 92.6h2.5v2.5h-2.5zM156.4 94.5h2.5v2.5h-2.5zM167.8 94.5h2.5v2.5h-2.5zM167.8 96.4h4.4v2.5h-4.4zM167.8 98.3h2.5v2.5h-2.5zM141.2 100.2h2.5v2.5h-2.5zM152.6 100.2h2.5v2.5h-2.5zM171.6 100.2h2.5v2.5h-2.5zM154.5 102.1h4.4v2.5h-4.4zM167.8 102.1h2.5v2.5h-2.5zM173.5 102.1h2.5v2.5h-2.5zM135.5 104.0h2.5v2.5h-2.5zM152.6 104.0h2.5v2.5h-2.5zM158.3 104.0h2.5v2.5h-2.5zM167.8 104.0h4.4v2.5h-4.4zM135.5 105.9h4.4v2.5h-4.4zM152.6 105.9h2.5v2.5h-2.5zM156.4 105.9h2.5v2.5h-2.5zM156.4 107.8h4.4v2.5h-4.4zM139.3 109.7h2.5v2.5h-2.5zM164.0 109.7h2.5v2.5h-2.5zM141.2 111.6h2.5v2.5h-2.5zM152.6 111.6h2.5v2.5h-2.5zM156.4 111.6h2.5v2.5h-2.5zM169.7 111.6h4.4v2.5h-4.4zM156.4 115.4h2.5v2.5h-2.5zM152.6 117.3h2.5v2.5h-2.5zM156.4 117.3h2.5v2.5h-2.5zM156.4 119.2h2.5v2.5h-2.5zM160.2 121.1h4.4v2.5h-4.4zM175.4 121.1h2.5v2.5h-2.5zM150.7 123.0h4.4v2.5h-4.4zM156.4 123.0h6.3v2.5h-6.3zM143.1 124.9h2.5v2.5h-2.5zM150.7 124.9h2.5v2.5h-2.5zM158.3 124.9h2.5v2.5h-2.5zM162.1 124.9h4.4v2.5h-4.4zM167.8 124.9h2.5v2.5h-2.5zM129.8 126.8h2.5v2.5h-2.5zM139.3 126.8h2.5v2.5h-2.5zM150.7 126.8h2.5v2.5h-2.5zM158.3 126.8h6.3v2.5h-6.3zM139.3 128.7h2.5v2.5h-2.5zM143.1 128.7h2.5v2.5h-2.5zM148.8 128.7h2.5v2.5h-2.5zM160.2 128.7h4.4v2.5h-4.4zM173.5 128.7h2.5v2.5h-2.5zM131.7 130.6h2.5v2.5h-2.5zM160.2 130.6h2.5v2.5h-2.5zM154.5 132.5h2.5v2.5h-2.5zM116.5 134.4h2.5v2.5h-2.5zM160.2 134.4h2.5v2.5h-2.5zM164.0 136.3h2.5v2.5h-2.5zM131.7 138.2h2.5v2.5h-2.5zM165.9 138.2h4.4v2.5h-4.4zM122.2 142.0h2.5v2.5h-2.5zM108.9 145.8h4.4v2.5h-4.4zM177.3 145.8h2.5v2.5h-2.5zM107.0 147.7h2.5v2.5h-2.5zM177.3 147.7h2.5v2.5h-2.5zM105.1 149.6h2.5v2.5h-2.5zM162.1 149.6h2.5v2.5h-2.5zM86.1 151.5h2.5v2.5h-2.5zM101.3 153.4h2.5v2.5h-2.5zM110.8 153.4h4.4v2.5h-4.4zM88.0 155.3h2.5v2.5h-2.5zM167.8 155.3h2.5v2.5h-2.5zM107.0 157.2h2.5v2.5h-2.5zM76.6 159.1h2.5v2.5h-2.5zM89.9 159.1h2.5v2.5h-2.5zM97.5 159.1h2.5v2.5h-2.5zM107.0 159.1h4.4v2.5h-4.4zM158.3 159.1h2.5v2.5h-2.5zM164.0 159.1h6.3v2.5h-6.3zM95.6 161.0h2.5v2.5h-2.5zM154.5 161.0h2.5v2.5h-2.5zM72.8 162.9h2.5v2.5h-2.5zM95.6 162.9h2.5v2.5h-2.5zM99.4 162.9h2.5v2.5h-2.5zM162.1 162.9h2.5v2.5h-2.5zM76.6 164.8h2.5v2.5h-2.5zM74.7 166.7h2.5v2.5h-2.5zM103.2 166.7h2.5v2.5h-2.5zM74.7 168.6h2.5v2.5h-2.5zM80.4 168.6h2.5v2.5h-2.5zM158.3 168.6h6.3v2.5h-6.3zM95.6 170.5h2.5v2.5h-2.5zM99.4 170.5h2.5v2.5h-2.5zM103.2 170.5h2.5v2.5h-2.5zM107.0 170.5h2.5v2.5h-2.5zM143.1 170.5h2.5v2.5h-2.5zM152.6 170.5h2.5v2.5h-2.5zM156.4 170.5h2.5v2.5h-2.5zM162.1 170.5h4.4v2.5h-4.4zM99.4 172.4h4.4v2.5h-4.4zM108.9 172.4h2.5v2.5h-2.5zM112.7 172.4h2.5v2.5h-2.5zM139.3 172.4h2.5v2.5h-2.5zM143.1 172.4h2.5v2.5h-2.5zM86.1 174.3h2.5v2.5h-2.5zM95.6 174.3h2.5v2.5h-2.5zM108.9 174.3h2.5v2.5h-2.5zM112.7 174.3h2.5v2.5h-2.5zM143.1 174.3h2.5v2.5h-2.5zM116.5 176.2h4.4v2.5h-4.4zM122.2 176.2h2.5v2.5h-2.5zM131.7 176.2h2.5v2.5h-2.5zM154.5 176.2h2.5v2.5h-2.5zM93.7 178.1h2.5v2.5h-2.5zM114.6 178.1h2.5v2.5h-2.5zM126.0 178.1h2.5v2.5h-2.5zM135.5 178.1h2.5v2.5h-2.5zM156.4 178.1h2.5v2.5h-2.5zM139.3 180.0h2.5v2.5h-2.5z"/>
<path fill="#0000ff" d="M167.8 79.3h2.5v2.5h-2.5zM150.7 86.9h2.5v2.5h-2.5zM156.4 86.9h2.5v2.5h-2.5zM162.1 90.7h2.5v2.5h-2.5zM169.7 92.6h4.4v2.5h-4.4zM165.9 96.4h2.5v2.5h-2.5zM171.6 102.1h2.5v2.5h-2.5zM154.5 104.0h2.5v2.5h-2.5zM141.2 105.9h2.5v2.5h-2.5zM162.1 105.9h2.5v2.5h-2.5zM158.3 109.7h2.5v2.5h-2.5zM165.9 109.7h4.4v2.5h-4.4zM158.3 113.5h2.5v2.5h-2.5zM154.5 115.4h2.5v2.5h-2.5zM160.2 117.3h4.4v2.5h-4.4zM171.6 117.3h2.5v2.5h-2.5zM150.7 121.1h2.5v2.5h-2.5zM129.8 123.0h2.5v2.5h-2.5zM154.5 123.0h2.5v2.5h-2.5zM162.1 123.0h2.5v2.5h-2.5zM165.9 123.0h2.5v2.5h-2.5zM169.7 124.9h2.5v2.5h-2.5zM156.4 126.8h2.5v2.5h-2.5zM169.7 126.8h2.5v2.5h-2.5zM137.4 128.7h2.5v2.5h-2.5zM141.2 128.7h2.5v2.5h-2.5zM152.6 128.7h2.5v2.5h-2.5zM158.3 128.7h2.5v2.5h-2.5zM135.5 130.6h2.5v2.5h-2.5zM145.0 130.6h4.4v2.5h-4.4zM156.4 130.6h2.5v2.5h-2.5zM131.7 132.5h2.5v2.5h-2.5zM141.2 132.5h2.5v2.5h-2.5zM156.4 132.5h2.5v2.5h-2.5zM154.5 134.4h2.5v2.5h-2.5zM162.1 134.4h2.5v2.5h-2.5zM116.5 136.3h2.5v2.5h-2.5zM124.1 136.3h2.5v2.5h-2.5zM158.3 138.2h2.5v2.5h-2.5zM164.0 138.2h2.5v2.5h-2.5zM164.0 140.1h4.4v2.5h-4.4zM131.7 142.0h2.5v2.5h-2.5zM165.9 142.0h2.5v2.5h-2.5zM131.7 143.9h2.5v2.5h-2.5zM154.5 143.9h4.4v2.5h-4.4zM154.5 145.8h2.5v2.5h-2.5zM175.4 145.8h2.5v2.5h-2.5zM108.9 147.7h2.5v2.5h-2.5zM175.4 147.7h2.5v2.5h-2.5zM160.2 149.6h2.5v2.5h-2.5zM165.9 149.6h2.5v2.5h-2.5zM112.7 151.5h2.5v2.5h-2.5zM164.0 151.5h2.5v2.5h-2.5zM158.3 155.3h2.5v2.5h-2.5zM84.2 157.2h2.5v2.5h-2.5zM99.4 157.2h2.5v2.5h-2.5zM105.1 157.2h2.5v2.5h-2.5zM152.6 157.2h2.5v2.5h-2.5zM158.3 157.2h2.5v2.5h-2.5zM108.9 161.0h2.5v2.5h-2.5zM160.2 161.0h4.4v2.5h-4.4zM93.7 162.9h2.5v2.5h-2.5zM97.5 162.9h2.5v2.5h-2.5zM95.6 164.8h2.5v2.5h-2.5zM101.3 164.8h2.5v2.5h-2.5zM146.9 164.8h2.5v2.5h-2.5zM156.4 164.8h2.5v2.5h-2.5zM76.6 166.7h2.5v2.5h-2.5zM105.1 166.7h2.5v2.5h-2.5zM154.5 166.7h2.5v2.5h-2.5zM158.3 166.7h2.5v2.5h-2.5zM105.1 168.6h2.5v2.5h-2.5zM154.5 168.6h2.5v2.5h-2.5zM80.4 170.5h2.5v2.5h-2.5zM139.3 170.5h2.5v2.5h-2.5zM114.6 172.4h2.5v2.5h-2.5zM141.2 174.3h2.5v2.5h-2.5zM146.9 174.3h2.5v2.5h-2.5zM135.5 176.2h2.5v2.5h-2.5zM139.3 176.2h2.5v2.5h-2.5zM156.4 176.2h2.5v2.5h-2.5zM112.7 180.0h2.5v2.5h-2.5zM112.7 181.9h2.5v2.5h-2.5z"/>
<path fill="#0015ff" d="M171.6 90.7h2.5v2.5h-2.5zM139.3 104.0h2.5v2.5h-2.5zM156.4 104.0h2.5v2.5h-2.5zM139.3 105.9h2.5v2.5h-2.5zM154.5 105.9h2.5v2.5h-2.5zM165.9 105.9h2.5v2.5h-2.5zM156.4 109.7h2.5v2.5h-2.5zM139.3 111.6h2.5v2.5h-2.5zM150.7 111.6h2.5v2.5h-2.5zM165.9 111.6h4.4v2.5h-4.4zM152.6 113.5h2.5v2.5h-2.5zM162.1 113.5h4.4v2.5h-4.4zM169.7 113.5h4.4v2.5h-4.4zM152.6 115.4h2.5v2.5h-2.5zM173.5 115.4h2.5v2.5h-2.5zM164.0 121.1h2.5v2.5h-2.5zM169.7 123.0h2.5v2.5h-2.5zM141.2 124.9h2.5v2.5h-2.5zM152.6 124.9h4.4v2.5h-4.4zM143.1 126.8h2.5v2.5h-2.5zM164.0 126.8h2.5v2.5h-2.5zM133.6 130.6h2.5v2.5h-2.5zM141.2 130.6h2.5v2.5h-2.5zM150.7 130.6h2.5v2.5h-2.5zM135.5 132.5h2.5v2.5h-2.5zM143.1 132.5h2.5v2.5h-2.5zM139.3 134.4h2.5v2.5h-2.5zM129.8 136.3h2.5v2.5h-2.5zM158.3 136.3h4.4v2.5h-4.4zM114.6 138.2h4.4v2.5h-4.4zM162.1 138.2h2.5v2.5h-2.5zM129.8 140.1h2.5v2.5h-2.5zM160.2 140.1h2.5v2.5h-2.5zM154.5 142.0h4.4v2.5h-4.4zM164.0 142.0h2.5v2.5h-2.5zM167.8 142.0h2.5v2.5h-2.5zM124.1 143.9h2.5v2.5h-2.5zM107.0 145.8h2.5v2.5h-2.5zM156.4 145.8h6.3v2.5h-6.3zM160.2 147.7h2.5v2.5h-2.5zM165.9 147.7h2.5v2.5h-2.5zM116.5 149.6h2.5v2.5h-2.5zM156.4 151.5h2.5v2.5h-2.5zM84.2 155.3h2.5v2.5h-2.5zM101.3 155.3h2.5v2.5h-2.5zM160.2 155.3h4.4v2.5h-4.4zM101.3 157.2h2.5v2.5h-2.5zM108.9 157.2h2.5v2.5h-2.5zM101.3 159.1h2.5v2.5h-2.5zM74.7 161.0h2.5v2.5h-2.5zM97.5 161.0h4.4v2.5h-4.4zM158.3 161.0h2.5v2.5h-2.5zM101.3 162.9h2.5v2.5h-2.5zM154.5 162.9h4.4v2.5h-4.4zM154.5 164.8h2.5v2.5h-2.5zM146.9 166.7h2.5v2.5h-2.5zM152.6 166.7h2.5v2.5h-2.5zM160.2 166.7h2.5v2.5h-2.5zM76.6 168.6h2.5v2.5h-2.5zM95.6 168.6h2.5v2.5h-2.5zM145.0 168.6h2.5v2.5h-2.5zM152.6 168.6h2.5v2.5h-2.5zM156.4 168.6h2.5v2.5h-2.5zM97.5 170.5h2.5v2.5h-2.5zM145.0 170.5h2.5v2.5h-2.5zM95.6 172.4h4.4v2.5h-4.4zM103.2 172.4h2.5v2.5h-2.5zM145.0 172.4h2.5v2.5h-2.5zM116.5 174.3h2.5v2.5h-2.5zM129.8 174.3h6.3v2.5h-6.3zM139.3 174.3h2.5v2.5h-2.5zM145.0 174.3h2.5v2.5h-2.5zM156.4 174.3h2.5v2.5h-2.5zM137.4 180.0h2.5v2.5h-2.5zM114.6 181.9h2.5v2.5h-2.5z"/>
<path fill="#002aff" d="M165.9 104.0h2.5v2.5h-2.5zM158.3 105.9h4.4v2.5h-4.4zM165.9 107.8h2.5v2.5h-2.5zM164.0 111.6h2.5v2.5h-2.5zM150.7 113.5h2.5v2.5h-2.5zM160.2 113.5h2.5v2.5h-2.5zM165.9 113.5h2.5v2.5h-2.5zM160.2 115.4h4.4v2.5h-4.4zM169.7 115.4h4.4v2.5h-4.4zM173.5 117.3h2.5v2.5h-2.5zM167.8 123.0h2.5v2.5h-2.5zM156.4 124.9h2.5v2.5h-2.5zM141.2 126.8h2.5v2.5h-2.5zM156.4 128.7h2.5v2.5h-2.5zM137.4 130.6h2.5v2.5h-2.5zM133.6 132.5h2.5v2.5h-2.5zM150.7 132.5h4.4v2.5h-4.4zM133.6 134.4h2.5v2.5h-2.5zM127.9 136.3h2.5v2.5h-2.5zM162.1 136.3h2.5v2.5h-2.5zM148.8 138.2h2.5v2.5h-2.5zM116.5 140.1h4.4v2.5h-4.4zM158.3 140.1h2.5v2.5h-2.5zM162.1 140.1h2.5v2.5h-2.5zM126.0 142.0h2.5v2.5h-2.5zM158.3 142.0h2.5v2.5h-2.5zM164.0 143.9h2.5v2.5h-2.5zM167.8 143.9h2.5v2.5h-2.5zM165.9 145.8h2.5v2.5h-2.5zM114.6 147.7h2.5v2.5h-2.5zM118.4 147.7h2.5v2.5h-2.5zM162.1 147.7h4.4v2.5h-4.4zM164.0 149.6h2.5v2.5h-2.5zM103.2 151.5h2.5v2.5h-2.5zM158.3 151.5h2.5v2.5h-2.5zM162.1 151.5h2.5v2.5h-2.5zM162.1 153.4h2.5v2.5h-2.5zM99.4 155.3h2.5v2.5h-2.5zM107.0 155.3h2.5v2.5h-2.5zM112.7 155.3h2.5v2.5h-2.5zM141.2 155.3h2.5v2.5h-2.5zM103.2 157.2h2.5v2.5h-2.5zM143.1 157.2h2.5v2.5h-2.5zM164.0 157.2h2.5v2.5h-2.5zM103.2 159.1h2.5v2.5h-2.5zM156.4 161.0h2.5v2.5h-2.5zM126.0 162.9h4.4v2.5h-4.4zM152.6 162.9h2.5v2.5h-2.5zM99.4 164.8h2.5v2.5h-2.5zM103.2 164.8h2.5v2.5h-2.5zM158.3 164.8h4.4v2.5h-4.4zM107.0 166.7h2.5v2.5h-2.5zM145.0 166.7h2.5v2.5h-2.5zM150.7 166.7h2.5v2.5h-2.5zM107.0 168.6h2.5v2.5h-2.5zM143.1 168.6h2.5v2.5h-2.5zM108.9 170.5h2.5v2.5h-2.5zM148.8 170.5h4.4v2.5h-4.4zM131.7 172.4h2.5v2.5h-2.5zM110.8 176.2h2.5v2.5h-2.5zM127.9 176.2h2.5v2.5h-2.5zM137.4 176.2h2.5v2.5h-2.5zM137.4 178.1h2.5v2.5h-2.5zM114.6 180.0h2.5v2.5h-2.5z"/>
<path fill="#0040ff" d="M167.8 107.8h2.5v2.5h-2.5zM167.8 113.5h2.5v2.5h-2.5zM164.0 115.4h2.5v2.5h-2.5zM162.1 119.2h2.5v2.5h-2.5zM173.5 121.1h2.5v2.5h-2.5zM139.3 130.6h2.5v2.5h-2.5zM154.5 130.6h2.5v2.5h-2.5zM124.1 134.4h8.2v2.5h-8.2zM133.6 136.3h2.5v2.5h-2.5zM127.9 138.2h2.5v2.5h-2.5zM156.4 138.2h2.5v2.5h-2.5zM150.7 140.1h2.5v2.5h-2.5zM156.4 140.1h2.5v2.5h-2.5zM116.5 142.0h2.5v2.5h-2.5zM162.1 142.0h2.5v2.5h-2.5zM127.9 143.9h2.5v2.5h-2.5zM162.1 143.9h2.5v2.5h-2.5zM165.9 143.9h2.5v2.5h-2.5zM118.4 145.8h2.5v2.5h-2.5zM124.1 145.8h2.5v2.5h-2.5zM152.6 145.8h2.5v2.5h-2.5zM164.0 145.8h2.5v2.5h-2.5zM110.8 147.7h2.5v2.5h-2.5zM116.5 147.7h2.5v2.5h-2.5zM131.7 147.7h2.5v2.5h-2.5zM107.0 149.6h2.5v2.5h-2.5zM158.3 149.6h2.5v2.5h-2.5zM110.8 151.5h2.5v2.5h-2.5zM158.3 153.4h2.5v2.5h-2.5zM143.1 159.1h2.5v2.5h-2.5zM148.8 159.1h2.5v2.5h-2.5zM162.1 159.1h2.5v2.5h-2.5zM97.5 164.8h2.5v2.5h-2.5zM95.6 166.7h2.5v2.5h-2.5zM135.5 166.7h2.5v2.5h-2.5zM148.8 166.7h2.5v2.5h-2.5zM99.4 168.6h2.5v2.5h-2.5zM118.4 170.5h2.5v2.5h-2.5zM146.9 170.5h2.5v2.5h-2.5zM110.8 172.4h2.5v2.5h-2.5zM118.4 172.4h2.5v2.5h-2.5zM118.4 174.3h2.5v2.5h-2.5zM112.7 176.2h2.5v2.5h-2.5zM124.1 176.2h2.5v2.5h-2.5zM129.8 176.2h2.5v2.5h-2.5z"/>
<path fill="#0055ff" d="M158.3 115.4h2.5v2.5h-2.5zM165.9 115.4h4.4v2.5h-4.4zM158.3 117.3h2.5v2.5h-2.5zM164.0 119.2h2.5v2.5h-2.5zM143.1 130.6h2.5v2.5h-2.5zM148.8 130.6h2.5v2.5h-2.5zM158.3 130.6h2.5v2.5h-2.5zM146.9 132.5h2.5v2.5h-2.5zM160.2 132.5h2.5v2.5h-2.5zM137.4 134.4h2.5v2.5h-2.5zM143.1 134.4h4.4v2.5h-4.4zM150.7 134.4h4.4v2.5h-4.4zM145.0 136.3h2.5v2.5h-2.5zM150.7 138.2h2.5v2.5h-2.5zM160.2 138.2h2.5v2.5h-2.5zM131.7 140.1h2.5v2.5h-2.5zM148.8 140.1h2.5v2.5h-2.5zM126.0 143.9h2.5v2.5h-2.5zM116.5 145.8h2.5v2.5h-2.5zM112.7 147.7h2.5v2.5h-2.5zM129.8 147.7h2.5v2.5h-2.5zM133.6 147.7h2.5v2.5h-2.5zM112.7 149.6h4.4v2.5h-4.4zM156.4 149.6h2.5v2.5h-2.5zM114.6 151.5h2.5v2.5h-2.5zM126.0 153.4h2.5v2.5h-2.5zM108.9 155.3h2.5v2.5h-2.5zM114.6 155.3h4.4v2.5h-4.4zM124.1 157.2h2.5v2.5h-2.5zM135.5 157.2h2.5v2.5h-2.5zM141.2 157.2h2.5v2.5h-2.5zM146.9 159.1h2.5v2.5h-2.5zM150.7 159.1h2.5v2.5h-2.5zM156.4 159.1h2.5v2.5h-2.5zM101.3 161.0h8.2v2.5h-8.2zM114.6 161.0h2.5v2.5h-2.5zM148.8 161.0h2.5v2.5h-2.5zM103.2 162.9h2.5v2.5h-2.5zM114.6 162.9h2.5v2.5h-2.5zM158.3 162.9h4.4v2.5h-4.4zM129.8 164.8h2.5v2.5h-2.5zM139.3 164.8h2.5v2.5h-2.5zM112.7 166.7h2.5v2.5h-2.5zM131.7 166.7h2.5v2.5h-2.5zM141.2 166.7h2.5v2.5h-2.5zM97.5 168.6h2.5v2.5h-2.5zM110.8 168.6h4.4v2.5h-4.4zM133.6 168.6h4.4v2.5h-4.4zM124.1 172.4h4.4v2.5h-4.4zM137.4 172.4h2.5v2.5h-2.5zM120.3 174.3h2.5v2.5h-2.5z"/>
<path fill="#006aff" d="M169.7 121.1h2.5v2.5h-2.5zM171.6 123.0h2.5v2.5h-2.5zM152.6 130.6h2.5v2.5h-2.5zM145.0 132.5h2.5v2.5h-2.5zM156.4 134.4h2.5v2.5h-2.5zM126.0 136.3h2.5v2.5h-2.5zM135.5 136.3h2.5v2.5h-2.5zM148.8 136.3h4.4v2.5h-4.4zM118.4 142.0h4.4v2.5h-4.4zM118.4 143.9h2.5v2.5h-2.5zM129.8 143.9h2.5v2.5h-2.5zM150.7 143.9h4.4v2.5h-4.4zM158.3 143.9h2.5v2.5h-2.5zM158.3 147.7h2.5v2.5h-2.5zM108.9 149.6h2.5v2.5h-2.5zM118.4 149.6h2.5v2.5h-2.5zM133.6 149.6h2.5v2.5h-2.5zM105.1 151.5h2.5v2.5h-2.5zM120.3 151.5h2.5v2.5h-2.5zM160.2 153.4h2.5v2.5h-2.5zM103.2 155.3h2.5v2.5h-2.5zM110.8 155.3h2.5v2.5h-2.5zM122.2 155.3h2.5v2.5h-2.5zM126.0 155.3h2.5v2.5h-2.5zM112.7 157.2h2.5v2.5h-2.5zM122.2 157.2h2.5v2.5h-2.5zM156.4 157.2h2.5v2.5h-2.5zM152.6 159.1h4.4v2.5h-4.4zM116.5 161.0h2.5v2.5h-2.5zM126.0 161.0h2.5v2.5h-2.5zM146.9 161.0h2.5v2.5h-2.5zM152.6 161.0h2.5v2.5h-2.5zM126.0 164.8h4.4v2.5h-4.4zM141.2 164.8h2.5v2.5h-2.5zM150.7 164.8h4.4v2.5h-4.4zM133.6 166.7h2.5v2.5h-2.5zM143.1 166.7h2.5v2.5h-2.5zM101.3 168.6h4.4v2.5h-4.4zM108.9 168.6h2.5v2.5h-2.5zM114.6 168.6h2.5v2.5h-2.5zM141.2 168.6h2.5v2.5h-2.5zM110.8 170.5h2.5v2.5h-2.5zM120.3 170.5h2.5v2.5h-2.5zM129.8 172.4h2.5v2.5h-2.5zM133.6 172.4h2.5v2.5h-2.5z"/>
<path fill="#0080ff" d="M164.0 117.3h2.5v2.5h-2.5zM169.7 117.3h2.5v2.5h-2.5zM173.5 119.2h2.5v2.5h-2.5zM152.6 136.3h2.5v2.5h-2.5zM156.4 136.3h2.5v2.5h-2.5zM126.0 138.2h2.5v2.5h-2.5zM133.6 138.2h2.5v2.5h-2.5zM152.6 138.2h2.5v2.5h-2.5zM129.8 142.0h2.5v2.5h-2.5zM160.2 142.0h2.5v2.5h-2.5zM120.3 143.9h4.4v2.5h-4.4zM162.1 145.8h2.5v2.5h-2.5zM122.2 147.7h4.4v2.5h-4.4zM156.4 147.7h2.5v2.5h-2.5zM122.2 149.6h2.5v2.5h-2.5zM122.2 151.5h2.5v2.5h-2.5zM141.2 151.5h2.5v2.5h-2.5zM124.1 155.3h2.5v2.5h-2.5zM116.5 157.2h2.5v2.5h-2.5zM146.9 157.2h2.5v2.5h-2.5zM154.5 157.2h2.5v2.5h-2.5zM160.2 157.2h2.5v2.5h-2.5zM124.1 159.1h2.5v2.5h-2.5zM150.7 161.0h2.5v2.5h-2.5zM105.1 162.9h2.5v2.5h-2.5zM112.7 162.9h2.5v2.5h-2.5zM120.3 162.9h4.4v2.5h-4.4zM105.1 164.8h4.4v2.5h-4.4zM145.0 164.8h2.5v2.5h-2.5zM114.6 166.7h2.5v2.5h-2.5zM139.3 166.7h2.5v2.5h-2.5zM146.9 168.6h6.3v2.5h-6.3zM112.7 170.5h2.5v2.5h-2.5zM124.1 170.5h2.5v2.5h-2.5zM137.4 170.5h2.5v2.5h-2.5zM126.0 174.3h2.5v2.5h-2.5zM126.0 176.2h2.5v2.5h-2.5z"/>
<path fill="#0095ff" d="M171.6 121.1h2.5v2.5h-2.5zM135.5 134.4h2.5v2.5h-2.5zM146.9 134.4h2.5v2.5h-2.5zM158.3 134.4h2.5v2.5h-2.5zM146.9 136.3h2.5v2.5h-2.5zM126.0 140.1h2.5v2.5h-2.5zM146.9 143.9h2.5v2.5h-2.5zM120.3 145.8h4.4v2.5h-4.4zM127.9 145.8h2.5v2.5h-2.5zM150.7 145.8h2.5v2.5h-2.5zM135.5 147.7h2.5v2.5h-2.5zM150.7 147.7h2.5v2.5h-2.5zM124.1 149.6h2.5v2.5h-2.5zM135.5 149.6h2.5v2.5h-2.5zM107.0 151.5h2.5v2.5h-2.5zM160.2 151.5h2.5v2.5h-2.5zM114.6 153.4h2.5v2.5h-2.5zM156.4 153.4h2.5v2.5h-2.5zM110.8 157.2h2.5v2.5h-2.5zM114.6 157.2h2.5v2.5h-2.5zM126.0 157.2h2.5v2.5h-2.5zM131.7 157.2h4.4v2.5h-4.4zM148.8 157.2h4.4v2.5h-4.4zM126.0 159.1h2.5v2.5h-2.5zM141.2 159.1h2.5v2.5h-2.5zM145.0 159.1h2.5v2.5h-2.5zM112.7 164.8h4.4v2.5h-4.4zM143.1 164.8h2.5v2.5h-2.5zM97.5 166.7h2.5v2.5h-2.5zM129.8 168.6h4.4v2.5h-4.4zM114.6 170.5h2.5v2.5h-2.5zM129.8 170.5h2.5v2.5h-2.5zM135.5 172.4h2.5v2.5h-2.5zM122.2 174.3h2.5v2.5h-2.5zM127.9 174.3h2.5v2.5h-2.5z"/>
<path fill="#00aaff" d="M165.9 119.2h2.5v2.5h-2.5zM171.6 119.2h2.5v2.5h-2.5zM165.9 121.1h4.4v2.5h-4.4zM141.2 134.4h2.5v2.5h-2.5zM143.1 136.3h2.5v2.5h-2.5zM146.9 140.1h2.5v2.5h-2.5zM152.6 140.1h2.5v2.5h-2.5zM129.8 145.8h4.4v2.5h-4.4zM127.9 147.7h2.5v2.5h-2.5zM154.5 147.7h2.5v2.5h-2.5zM122.2 153.4h2.5v2.5h-2.5zM141.2 153.4h2.5v2.5h-2.5zM156.4 155.3h2.5v2.5h-2.5zM129.8 157.2h2.5v2.5h-2.5zM145.0 157.2h2.5v2.5h-2.5zM162.1 157.2h2.5v2.5h-2.5zM118.4 159.1h2.5v2.5h-2.5zM129.8 159.1h2.5v2.5h-2.5zM127.9 161.0h2.5v2.5h-2.5zM124.1 162.9h2.5v2.5h-2.5zM150.7 162.9h2.5v2.5h-2.5zM122.2 164.8h4.4v2.5h-4.4zM137.4 166.7h2.5v2.5h-2.5zM139.3 168.6h2.5v2.5h-2.5zM133.6 170.5h4.4v2.5h-4.4zM137.4 174.3h2.5v2.5h-2.5z"/>
<path fill="#00bfff" d="M165.9 117.3h2.5v2.5h-2.5zM148.8 132.5h2.5v2.5h-2.5zM139.3 136.3h4.4v2.5h-4.4zM154.5 136.3h2.5v2.5h-2.5zM146.9 138.2h2.5v2.5h-2.5zM143.1 140.1h4.4v2.5h-4.4zM127.9 142.0h2.5v2.5h-2.5zM116.5 143.9h2.5v2.5h-2.5zM145.0 143.9h2.5v2.5h-2.5zM148.8 143.9h2.5v2.5h-2.5zM120.3 147.7h2.5v2.5h-2.5zM137.4 147.7h2.5v2.5h-2.5zM129.8 149.6h2.5v2.5h-2.5zM137.4 149.6h2.5v2.5h-2.5zM116.5 151.5h2.5v2.5h-2.5zM139.3 151.5h2.5v2.5h-2.5zM107.0 153.4h4.4v2.5h-4.4zM124.1 153.4h2.5v2.5h-2.5zM150.7 155.3h4.4v2.5h-4.4zM127.9 157.2h2.5v2.5h-2.5zM127.9 159.1h2.5v2.5h-2.5zM131.7 159.1h2.5v2.5h-2.5zM135.5 159.1h2.5v2.5h-2.5zM141.2 161.0h2.5v2.5h-2.5zM116.5 162.9h2.5v2.5h-2.5zM148.8 164.8h2.5v2.5h-2.5zM99.4 166.7h2.5v2.5h-2.5zM122.2 170.5h2.5v2.5h-2.5zM116.5 172.4h2.5v2.5h-2.5zM120.3 172.4h2.5v2.5h-2.5zM110.8 174.3h2.5v2.5h-2.5zM124.1 174.3h2.5v2.5h-2.5z"/>
<path fill="#00d4ff" d="M167.8 119.2h4.4v2.5h-4.4zM158.3 132.5h2.5v2.5h-2.5zM135.5 138.2h2.5v2.5h-2.5zM145.0 138.2h2.5v2.5h-2.5zM141.2 142.0h2.5v2.5h-2.5zM150.7 142.0h4.4v2.5h-4.4zM133.6 143.9h2.5v2.5h-2.5zM145.0 145.8h4.4v2.5h-4.4zM145.0 147.7h2.5v2.5h-2.5zM110.8 149.6h2.5v2.5h-2.5zM108.9 151.5h2.5v2.5h-2.5zM103.2 153.4h4.4v2.5h-4.4zM129.8 153.4h2.5v2.5h-2.5zM105.1 155.3h2.5v2.5h-2.5zM131.7 155.3h2.5v2.5h-2.5zM118.4 157.2h2.5v2.5h-2.5zM137.4 157.2h2.5v2.5h-2.5zM110.8 159.1h4.4v2.5h-4.4zM116.5 159.1h2.5v2.5h-2.5zM112.7 161.0h2.5v2.5h-2.5zM120.3 161.0h2.5v2.5h-2.5zM129.8 162.9h2.5v2.5h-2.5zM139.3 162.9h2.5v2.5h-2.5zM146.9 162.9h2.5v2.5h-2.5zM131.7 164.8h2.5v2.5h-2.5zM101.3 166.7h2.5v2.5h-2.5zM127.9 166.7h4.4v2.5h-4.4zM131.7 170.5h2.5v2.5h-2.5zM135.5 174.3h2.5v2.5h-2.5z"/>
<path fill="#00eaff" d="M167.8 117.3h2.5v2.5h-2.5zM127.9 140.1h2.5v2.5h-2.5zM137.4 140.1h2.5v2.5h-2.5zM141.2 140.1h2.5v2.5h-2.5zM160.2 143.9h2.5v2.5h-2.5zM133.6 145.8h2.5v2.5h-2.5zM152.6 147.7h2.5v2.5h-2.5zM131.7 149.6h2.5v2.5h-2.5zM141.2 149.6h2.5v2.5h-2.5zM131.7 153.4h4.4v2.5h-4.4zM154.5 153.4h2.5v2.5h-2.5zM118.4 155.3h2.5v2.5h-2.5zM133.6 155.3h2.5v2.5h-2.5zM137.4 155.3h4.4v2.5h-4.4zM143.1 155.3h2.5v2.5h-2.5zM122.2 159.1h2.5v2.5h-2.5zM139.3 159.1h2.5v2.5h-2.5zM124.1 161.0h2.5v2.5h-2.5zM129.8 161.0h2.5v2.5h-2.5zM141.2 162.9h2.5v2.5h-2.5zM135.5 164.8h2.5v2.5h-2.5zM127.9 170.5h2.5v2.5h-2.5z"/>
<path fill="#00ffff" d="M148.8 134.4h2.5v2.5h-2.5zM137.4 136.3h2.5v2.5h-2.5zM143.1 138.2h2.5v2.5h-2.5zM154.5 138.2h2.5v2.5h-2.5zM154.5 140.1h2.5v2.5h-2.5zM143.1 142.0h4.4v2.5h-4.4zM127.9 149.6h2.5v2.5h-2.5zM139.3 149.6h2.5v2.5h-2.5zM154.5 149.6h2.5v2.5h-2.5zM124.1 151.5h2.5v2.5h-2.5zM127.9 151.5h2.5v2.5h-2.5zM143.1 151.5h2.5v2.5h-2.5zM116.5 153.4h2.5v2.5h-2.5zM152.6 153.4h2.5v2.5h-2.5zM148.8 155.3h2.5v2.5h-2.5zM133.6 159.1h2.5v2.5h-2.5zM122.2 161.0h2.5v2.5h-2.5zM110.8 164.8h2.5v2.5h-2.5zM137.4 164.8h2.5v2.5h-2.5zM108.9 166.7h4.4v2.5h-4.4zM120.3 168.6h4.4v2.5h-4.4zM127.9 168.6h2.5v2.5h-2.5zM116.5 170.5h2.5v2.5h-2.5zM126.0 170.5h2.5v2.5h-2.5z"/>
<path fill="#15ffea" d="M133.6 142.0h2.5v2.5h-2.5zM135.5 143.9h2.5v2.5h-2.5zM126.0 145.8h2.5v2.5h-2.5zM135.5 145.8h2.5v2.5h-2.5zM120.3 149.6h2.5v2.5h-2.5zM154.5 151.5h2.5v2.5h-2.5zM120.3 153.4h2.5v2.5h-2.5zM127.9 153.4h2.5v2.5h-2.5zM137.4 153.4h2.5v2.5h-2.5zM135.5 155.3h2.5v2.5h-2.5zM114.6 159.1h2.5v2.5h-2.5zM137.4 159.1h2.5v2.5h-2.5zM118.4 161.0h2.5v2.5h-2.5zM135.5 161.0h2.5v2.5h-2.5zM107.0 162.9h2.5v2.5h-2.5zM148.8 162.9h2.5v2.5h-2.5zM127.9 172.4h2.5v2.5h-2.5z"/>
<path fill="#2bffd4" d="M141.2 138.2h2.5v2.5h-2.5zM148.8 142.0h2.5v2.5h-2.5zM143.1 153.4h2.5v2.5h-2.5zM148.8 153.4h2.5v2.5h-2.5zM120.3 157.2h2.5v2.5h-2.5zM133.6 164.8h2.5v2.5h-2.5zM116.5 166.7h2.5v2.5h-2.5zM126.0 166.7h2.5v2.5h-2.5zM116.5 168.6h2.5v2.5h-2.5zM137.4 168.6h2.5v2.5h-2.5z"/>
<path fill="#40ffbf" d="M146.9 142.0h2.5v2.5h-2.5zM143.1 149.6h2.5v2.5h-2.5zM118.4 151.5h2.5v2.5h-2.5zM126.0 151.5h2.5v2.5h-2.5zM133.6 151.5h2.5v2.5h-2.5zM135.5 153.4h2.5v2.5h-2.5zM139.3 153.4h2.5v2.5h-2.5zM154.5 155.3h2.5v2.5h-2.5zM139.3 157.2h2.5v2.5h-2.5zM145.0 161.0h2.5v2.5h-2.5zM126.0 168.6h2.5v2.5h-2.5z"/>
<path fill="#55ffaa" d="M135.5 140.1h2.5v2.5h-2.5zM139.3 140.1h2.5v2.5h-2.5zM143.1 143.9h2.5v2.5h-2.5zM131.7 151.5h2.5v2.5h-2.5zM135.5 151.5h2.5v2.5h-2.5zM131.7 161.0h2.5v2.5h-2.5zM139.3 161.0h2.5v2.5h-2.5zM118.4 162.9h2.5v2.5h-2.5zM108.9 164.8h2.5v2.5h-2.5zM116.5 164.8h2.5v2.5h-2.5zM118.4 168.6h2.5v2.5h-2.5zM122.2 172.4h2.5v2.5h-2.5z"/>
<path fill="#6aff95" d="M137.4 138.2h2.5v2.5h-2.5zM135.5 142.0h2.5v2.5h-2.5zM139.3 147.7h2.5v2.5h-2.5zM146.9 147.7h2.5v2.5h-2.5zM129.8 151.5h2.5v2.5h-2.5zM150.7 153.4h2.5v2.5h-2.5zM120.3 155.3h2.5v2.5h-2.5zM129.8 155.3h2.5v2.5h-2.5zM146.9 155.3h2.5v2.5h-2.5zM133.6 161.0h2.5v2.5h-2.5zM108.9 162.9h2.5v2.5h-2.5zM133.6 162.9h2.5v2.5h-2.5zM145.0 162.9h2.5v2.5h-2.5z"/>
<path fill="#80ff80" d="M133.6 140.1h2.5v2.5h-2.5zM141.2 143.9h2.5v2.5h-2.5zM143.1 145.8h2.5v2.5h-2.5zM120.3 159.1h2.5v2.5h-2.5zM143.1 162.9h2.5v2.5h-2.5z"/>
<path fill="#95ff6a" d="M139.3 138.2h2.5v2.5h-2.5zM137.4 142.0h2.5v2.5h-2.5zM148.8 145.8h2.5v2.5h-2.5zM126.0 147.7h2.5v2.5h-2.5zM145.0 149.6h2.5v2.5h-2.5zM150.7 149.6h4.4v2.5h-4.4zM152.6 151.5h2.5v2.5h-2.5zM118.4 153.4h2.5v2.5h-2.5zM110.8 161.0h2.5v2.5h-2.5zM143.1 161.0h2.5v2.5h-2.5zM110.8 162.9h2.5v2.5h-2.5zM131.7 162.9h2.5v2.5h-2.5zM137.4 162.9h2.5v2.5h-2.5zM122.2 166.7h2.5v2.5h-2.5zM124.1 168.6h2.5v2.5h-2.5z"/>
<path fill="#aaff55" d="M126.0 149.6h2.5v2.5h-2.5zM148.8 149.6h2.5v2.5h-2.5zM135.5 162.9h2.5v2.5h-2.5z"/>
<path fill="#bfff40" d="M148.8 147.7h2.5v2.5h-2.5zM150.7 151.5h2.5v2.5h-2.5zM137.4 161.0h2.5v2.5h-2.5zM120.3 164.8h2.5v2.5h-2.5z"/>
<path fill="#d5ff2a" d="M146.9 149.6h2.5v2.5h-2.5zM137.4 151.5h2.5v2.5h-2.5zM148.8 151.5h2.5v2.5h-2.5zM127.9 155.3h2.5v2.5h-2.5zM145.0 155.3h2.5v2.5h-2.5zM120.3 166.7h2.5v2.5h-2.5zM124.1 166.7h2.5v2.5h-2.5z"/>
<path fill="#eaff15" d="M139.3 142.0h2.5v2.5h-2.5zM141.2 145.8h2.5v2.5h-2.5zM141.2 147.7h4.4v2.5h-4.4zM118.4 164.8h2.5v2.5h-2.5z"/>
<path fill="#ffd500" d="M118.4 166.7h2.5v2.5h-2.5z"/>
<path fill="#ffbf00" d="M146.9 153.4h2.5v2.5h-2.5z"/>
<path fill="#ff5500" d="M137.4 145.8h2.5v2.5h-2.5z"/>
<path fill="#ff4000" d="M139.3 145.8h2.5v2.5h-2.5zM145.0 153.4h2.5v2.5h-2.5z"/>
<path fill="#ff1500" d="M139.3 143.9h2.5v2.5h-2.5z"/>
<path fill="#ea0000" d="M145.0 151.5h2.5v2.5h-2.5z"/>
<path fill="#bf0000" d="M137.4 143.9h2.5v2.5h-2.5z"/>
<path fill="#800000" d="M146.9 151.5h2.5v2.5h-2.5z"/>
</g></g>
<path fill="#0000c0" d="M154.1 30.0l1.4 -1.4l1.4 1.4l-1.4 1.4zM166.4 47.3l1.4 -1.4l1.4 1.4l-1.4 1.4zM169.5 58.5l1.4 -1.4l1.4 1.4l-1.4 1.4zM155.5 62.7l1.4 -1.4l1.4 1.4l-1.4 1.4zM157.1 62.7l1.4 -1.4l1.4 1.4l-1.4 1.4zM166.8 64.5l1.4 -1.4l1.4 1.4l-1.4 1.4zM157.2 72.7l1.4 -1.4l1.4 1.4l-1.4 1.4zM156.2 80.0l1.4 -1.4l1.4 1.4l-1.4 1.4zM60.3 173.3l1.4 -1.4l1.4 1.4l-1.4 1.4zM71.2 183.0l1.4 -1.4l1.4 1.4l-1.4 1.4zM121.2 194.5l1.4 -1.4l1.4 1.4l-1.4 1.4zM93.0 187.3l1.4 -1.4l1.4 1.4l-1.4 1.4zM205.9 115.5l1.4 -1.4l1.4 1.4l-1.4 1.4zM195.2 120.5l1.4 -1.4l1.4 1.4l-1.4 1.4zM189.9 174.5l1.4 -1.4l1.4 1.4l-1.4 1.4zM183.1 177.6l1.4 -1.4l1.4 1.4l-1.4 1.4zM193.1 179.6l1.4 -1.4l1.4 1.4l-1.4 1.4zM170.4 173.6l1.4 -1.4l1.4 1.4l-1.4 1.4zM167.6 183.0l1.4 -1.4l1.4 1.4l-1.4 1.4zM176.8 106.0l1.4 -1.4l1.4 1.4l-1.4 1.4z"/>
<path d="M37.00 15.00V199.50H221.30" fill="none" stroke="#262626" stroke-width="1"/>
<path d="M37.00 199.50h-2.40M37.00 162.60h-2.40M37.00 125.70h-2.40M37.00 88.80h-2.40M37.00 51.90h-2.40M37.00 15.00h-2.40M37.00 199.50v2.40M73.86 199.50v2.40M110.72 199.50v2.40M147.58 199.50v2.40M184.44 199.50v2.40M221.30 199.50v2.40" fill="none" stroke="#262626" stroke-width="1"/>
<text x="32.40" y="203.20" font-size="10.9" text-anchor="end">0</text>
<text x="32.40" y="166.30" font-size="10.9" text-anchor="end">15</text>
<text x="32.40" y="129.40" font-size="10.9" text-anchor="end">30</text>
<text x="32.40" y="92.50" font-size="10.9" text-anchor="end">45</text>
<text x="32.40" y="55.60" font-size="10.9" text-anchor="end">60</text>
<text x="32.40" y="18.70" font-size="10.9" text-anchor="end">75</text>
<text x="37.50" y="214.20" font-size="10.9" text-anchor="middle">−25</text>
<text x="74.36" y="214.20" font-size="10.9" text-anchor="middle">−20</text>
<text x="111.22" y="214.20" font-size="10.9" text-anchor="middle">−15</text>
<text x="148.08" y="214.20" font-size="10.9" text-anchor="middle">−10</text>
<text x="184.94" y="214.20" font-size="10.9" text-anchor="middle">−5</text>
<text x="221.80" y="214.20" font-size="10.9" text-anchor="middle">0</text>
<text transform="translate(15.80 108.85) rotate(-90)" font-size="11.6" text-anchor="middle"><tspan font-style="italic">U</tspan><tspan font-size="7.6">10</tspan> [m/s]</text>
<text x="105.20" y="232.20" font-size="12" font-style="italic">σ</text>
<text x="112.00" y="237.60" font-size="8.6">0</text>
<text x="112.70" y="225.30" font-size="9.2">VV</text>
<text x="128.70" y="232.20" font-size="12">[dB]</text>
<text x="133.80" y="253.50" font-size="10.4" font-weight="bold" text-anchor="middle">(a)</text>
<rect x="229.00" y="15.00" width="6.00" height="184.50" fill="url(#jet)"/>
<text x="237.80" y="203.10" font-size="10.9">0</text>
<text x="237.80" y="172.35" font-size="10.9">5</text>
<text x="237.80" y="141.60" font-size="10.9">10</text>
<text x="237.80" y="110.85" font-size="10.9">15</text>
<text x="237.80" y="80.10" font-size="10.9">20</text>
<text x="237.80" y="49.35" font-size="10.9">25</text>
<text x="237.80" y="18.60" font-size="10.9">30</text>
<text transform="translate(258.70 98.95) rotate(-90)" font-size="10.9" text-anchor="middle">Number of samples</text>
</g>
<g id="plot-b">
<clipPath id="clip-b"><path d="M435.6 24.1L435.6 24.6L435.1 24.6ZM436.2 24.6L435.6 24.6L435.6 24.1ZM424.1 26.4L424.1 26.9L423.6 26.9ZM424.7 26.9L424.1 26.9L424.1 26.4ZM435.1 24.6L435.6 24.6L435.6 25.2ZM435.6 24.6L436.2 24.6L435.6 25.2ZM423.6 26.9L424.1 26.9L424.1 27.5ZM424.1 26.9L424.7 26.9L424.1 27.5ZM437.9 35.6L437.9 36.1L437.4 36.1ZM438.5 36.1L437.9 36.1L437.9 35.6ZM437.4 36.1L437.9 36.1L437.9 36.7ZM437.9 36.1L438.5 36.1L437.9 36.7ZM440.2 44.8L440.2 45.3L439.7 45.3ZM440.8 45.3L440.2 45.3L440.2 44.8ZM439.7 45.3L440.2 45.3L440.2 45.9ZM440.2 45.3L440.8 45.3L440.2 45.9ZM424.1 60.9L424.1 61.4L423.6 61.4ZM424.7 61.4L424.1 61.4L424.1 60.9ZM423.6 61.4L424.1 61.4L424.1 62.0ZM424.1 61.4L424.7 61.4L424.1 62.0ZM437.9 67.8L437.9 68.3L437.4 68.3ZM438.5 68.3L437.9 68.3L437.9 67.8ZM437.4 68.3L437.9 68.3L437.9 68.9ZM437.9 68.3L438.5 68.3L437.9 68.9ZM428.8 72.4L428.8 73.0L428.2 73.0ZM429.3 73.0L428.8 73.0L428.8 72.4ZM419.5 74.7L419.5 75.2L419.0 75.2ZM420.1 75.2L419.5 75.2L419.5 74.7ZM428.2 73.0L428.8 73.0L428.8 73.5ZM428.8 73.0L429.3 73.0L428.8 73.5ZM437.9 74.7L437.9 75.2L437.4 75.2ZM438.5 75.2L437.9 75.2L437.9 74.7ZM419.0 75.2L419.5 75.2L419.5 75.8ZM419.5 75.2L420.1 75.2L419.5 75.8ZM437.4 75.2L437.9 75.2L437.9 77.5L437.4 77.5ZM437.9 75.2L438.5 75.2L438.5 77.5L437.9 77.5ZM442.5 77.0L442.5 77.5L442.0 77.5ZM443.1 77.5L442.5 77.5L442.5 77.0ZM424.1 79.3L424.1 79.8L423.6 79.8ZM426.4 79.3L426.4 79.8L424.1 79.8L424.1 79.3ZM427.0 79.8L426.4 79.8L426.4 79.3ZM437.4 77.5L437.9 77.5L437.9 79.8L437.4 79.8ZM437.9 77.5L438.5 77.5L440.2 79.3L440.2 79.8L437.9 79.8ZM442.0 77.5L442.5 77.5L442.5 79.8L440.2 79.8L440.2 79.3ZM442.5 77.5L443.1 77.5L443.1 79.8L442.5 79.8ZM421.8 81.6L421.8 82.2L421.3 82.2ZM424.1 79.8L424.1 80.4L423.6 79.8ZM421.8 82.2L421.8 81.6L422.4 82.2ZM424.1 79.8L426.4 79.8L426.4 80.4L424.1 80.4ZM426.4 79.8L427.0 79.8L426.4 80.4ZM428.8 82.2L428.2 82.2L428.8 81.6ZM429.3 82.2L428.8 82.2L428.8 81.6ZM437.4 79.8L437.9 79.8L437.9 82.2L437.4 82.2ZM440.2 79.8L442.5 79.8L442.5 80.4L440.8 82.2L440.2 82.2ZM442.5 79.8L443.1 79.8L442.5 80.4ZM421.3 82.2L421.8 82.2L421.8 84.5L421.3 84.5ZM421.8 82.2L422.4 82.2L424.1 83.9L424.1 84.5L421.8 84.5ZM426.4 83.9L426.4 84.5L424.1 84.5L424.1 83.9ZM428.2 82.2L428.8 82.2L428.8 84.5L426.4 84.5L426.4 83.9ZM428.8 82.2L429.3 82.2L429.3 84.5L428.8 84.5ZM437.4 82.2L437.9 82.2L437.9 84.5L437.4 84.5ZM440.2 82.2L440.8 82.2L442.5 83.9L442.5 84.5L440.2 84.5ZM444.8 83.9L444.8 84.5L442.5 84.5L442.5 83.9ZM445.4 84.5L444.8 84.5L444.8 83.9ZM421.3 84.5L421.8 84.5L421.8 86.8L421.3 86.8ZM421.8 84.5L424.1 84.5L424.1 85.0L422.4 86.8L421.8 86.8ZM424.1 84.5L426.4 84.5L426.4 86.8L425.9 86.8L424.1 85.0ZM428.8 84.5L429.3 84.5L429.3 86.8L428.8 86.8ZM437.4 84.5L437.9 84.5L437.9 86.8L437.4 86.8ZM442.5 84.5L444.8 84.5L444.8 85.0L443.1 86.8L442.5 86.8ZM444.8 84.5L445.4 84.5L444.8 85.0ZM421.3 86.8L421.8 86.8L421.8 87.3ZM421.8 86.8L422.4 86.8L421.8 87.3ZM425.9 86.8L426.4 86.8L426.4 89.0L425.9 89.0ZM426.4 86.8L428.8 86.8L428.8 87.3L427.0 89.0L426.4 89.0ZM428.8 86.8L429.3 86.8L428.8 87.3ZM435.6 88.5L435.6 89.0L435.1 89.0ZM437.4 86.8L437.9 86.8L437.9 89.0L435.6 89.0L435.6 88.5ZM442.5 86.8L443.1 86.8L443.1 89.0L442.5 89.0ZM414.9 90.8L414.9 91.3L414.4 91.3ZM415.5 91.3L414.9 91.3L414.9 90.8ZM419.5 90.8L419.5 91.3L419.0 91.3ZM421.8 90.8L421.8 91.3L419.5 91.3L419.5 90.8ZM422.4 91.3L421.8 91.3L421.8 90.8ZM425.9 89.0L426.4 89.0L426.4 89.6ZM426.4 89.0L427.0 89.0L426.4 89.6ZM431.0 90.8L431.0 91.3L430.5 91.3ZM433.3 90.8L433.3 91.3L431.0 91.3L431.0 90.8ZM435.1 89.0L435.6 89.0L435.6 91.3L433.3 91.3L433.3 90.8ZM442.5 89.0L443.1 89.0L443.1 91.3L442.5 91.3ZM414.4 91.3L414.9 91.3L414.9 91.9ZM414.9 91.3L415.5 91.3L414.9 91.9ZM417.2 93.7L416.7 93.7L417.2 93.1ZM419.0 91.3L419.5 91.3L419.5 93.7L417.2 93.7L417.2 93.1ZM419.5 91.3L421.8 91.3L421.8 91.9L420.1 93.7L419.5 93.7ZM421.8 91.3L422.4 91.3L421.8 91.9ZM430.5 91.3L431.0 91.3L431.0 91.9ZM431.0 91.3L433.3 91.3L433.3 93.7L432.8 93.7L431.0 91.9ZM437.9 91.3L440.2 91.3L440.2 91.9L438.5 93.7L437.9 93.7ZM440.2 91.3L442.5 91.3L442.5 91.9L440.2 91.9ZM442.5 91.3L443.1 91.3L442.5 91.9ZM410.3 95.4L410.3 96.0L409.8 96.0ZM410.9 96.0L410.3 96.0L410.3 95.4ZM416.7 93.7L417.2 93.7L417.2 96.0L416.7 96.0ZM419.5 93.7L420.1 93.7L420.1 96.0L419.5 96.0ZM431.0 95.4L431.0 96.0L430.5 96.0ZM433.3 93.7L433.3 94.2L432.8 93.7ZM431.0 96.0L431.0 95.4L431.6 96.0ZM433.3 93.7L435.6 93.7L435.6 96.0L435.1 96.0L433.3 94.2ZM437.9 93.7L438.5 93.7L440.2 95.4L440.2 96.0L437.9 96.0ZM440.8 96.0L440.2 96.0L440.2 95.4ZM409.8 96.0L410.3 96.0L410.3 98.2L409.8 98.2ZM410.3 96.0L410.9 96.0L410.9 98.2L410.3 98.2ZM416.7 96.0L417.2 96.0L417.2 98.2L416.7 98.2ZM419.5 96.0L420.1 96.0L421.8 97.7L421.8 98.2L419.5 98.2ZM422.4 98.2L421.8 98.2L421.8 97.7ZM426.4 97.7L426.4 98.2L425.9 98.2ZM428.8 97.7L428.8 98.2L426.4 98.2L426.4 97.7ZM430.5 96.0L431.0 96.0L431.0 98.2L428.8 98.2L428.8 97.7ZM431.0 96.0L431.6 96.0L431.6 98.2L431.0 98.2ZM435.1 96.0L435.6 96.0L435.6 96.5ZM435.6 96.0L437.9 96.0L437.9 98.2L437.4 98.2L435.6 96.5ZM437.9 96.0L440.2 96.0L440.2 96.5L438.5 98.2L437.9 98.2ZM440.2 96.0L440.8 96.0L440.2 96.5ZM409.8 98.2L410.3 98.2L410.3 98.8ZM410.3 98.2L410.9 98.2L410.3 98.8ZM414.9 100.0L414.9 100.5L414.4 100.5ZM416.7 98.2L417.2 98.2L417.2 100.5L414.9 100.5L414.9 100.0ZM421.8 98.2L422.4 98.2L424.1 100.0L424.1 100.5L421.8 100.5ZM426.4 98.2L426.4 98.8L425.9 98.2ZM424.1 100.5L424.1 100.0L424.7 100.5ZM426.4 98.2L428.8 98.2L428.8 98.8L426.4 98.8ZM428.8 98.2L431.0 98.2L431.0 100.5L430.5 100.5L428.8 98.8ZM431.0 98.2L431.6 98.2L431.6 100.5L431.0 100.5ZM437.4 98.2L437.9 98.2L437.9 98.8ZM437.9 98.2L438.5 98.2L437.9 98.8ZM408.0 102.3L408.0 102.8L407.5 102.8ZM410.3 102.3L410.3 102.8L408.0 102.8L408.0 102.3ZM410.9 102.8L410.3 102.8L410.3 102.3ZM414.4 100.5L414.9 100.5L414.9 101.1ZM414.9 100.5L417.2 100.5L417.2 102.8L416.7 102.8L414.9 101.1ZM417.2 100.5L419.5 100.5L419.5 101.1L417.8 102.8L417.2 102.8ZM419.5 100.5L421.8 100.5L421.8 102.8L421.3 102.8L419.5 101.1ZM421.8 100.5L424.1 100.5L424.1 101.1L422.4 102.8L421.8 102.8ZM424.1 100.5L424.7 100.5L424.1 101.1ZM426.4 102.8L425.9 102.8L426.4 102.3ZM428.8 102.3L428.8 102.8L426.4 102.8L426.4 102.3ZM430.5 100.5L431.0 100.5L431.0 102.8L428.8 102.8L428.8 102.3ZM431.0 100.5L431.6 100.5L433.3 102.3L433.3 102.8L431.0 102.8ZM433.9 102.8L433.3 102.8L433.3 102.3ZM437.9 102.3L437.9 102.8L437.4 102.8ZM438.5 102.8L437.9 102.8L437.9 102.3ZM405.8 104.6L405.8 105.2L405.2 105.2ZM407.5 102.8L408.0 102.8L408.0 105.2L405.8 105.2L405.8 104.6ZM410.3 102.8L410.9 102.8L410.9 105.2L410.3 105.2ZM414.9 104.6L414.9 105.2L414.4 105.2ZM416.7 102.8L417.2 102.8L417.2 105.2L414.9 105.2L414.9 104.6ZM417.2 102.8L417.8 102.8L419.5 104.6L419.5 105.2L417.2 105.2ZM421.3 102.8L421.8 102.8L421.8 105.2L419.5 105.2L419.5 104.6ZM421.8 102.8L422.4 102.8L424.1 104.6L424.1 105.2L421.8 105.2ZM426.4 102.8L426.4 103.4L425.9 102.8ZM424.1 105.2L424.1 104.6L424.7 105.2ZM426.4 102.8L428.8 102.8L428.8 105.2L428.2 105.2L426.4 103.4ZM431.0 102.8L433.3 102.8L433.3 103.4L431.6 105.2L431.0 105.2ZM433.3 102.8L433.9 102.8L433.3 103.4ZM435.6 105.2L435.1 105.2L435.6 104.6ZM437.9 102.8L437.9 103.4L437.4 102.8ZM435.6 105.2L435.6 104.6L436.2 105.2ZM437.9 102.8L438.5 102.8L437.9 103.4ZM405.2 105.2L405.8 105.2L405.8 107.5L405.2 107.5ZM410.3 105.2L410.9 105.2L412.6 106.9L412.6 107.5L410.3 107.5ZM414.4 105.2L414.9 105.2L414.9 107.5L412.6 107.5L412.6 106.9ZM419.5 105.2L421.8 105.2L421.8 105.7L420.1 107.5L419.5 107.5ZM421.8 105.2L424.1 105.2L424.1 105.7L421.8 105.7ZM424.1 105.2L424.7 105.2L424.1 105.7ZM428.2 105.2L428.8 105.2L428.8 107.5L428.2 107.5ZM431.0 105.2L431.6 105.2L433.3 106.9L433.3 107.5L431.0 107.5ZM435.1 105.2L435.6 105.2L435.6 107.5L433.3 107.5L433.3 106.9ZM435.6 105.2L436.2 105.2L436.2 107.5L435.6 107.5ZM405.2 107.5L405.8 107.5L405.8 109.8L405.2 109.8ZM419.5 107.5L420.1 107.5L421.8 109.2L421.8 109.8L419.5 109.8ZM422.4 109.8L421.8 109.8L421.8 109.2ZM426.4 109.2L426.4 109.8L425.9 109.8ZM428.2 107.5L428.8 107.5L428.8 109.8L426.4 109.8L426.4 109.2ZM435.6 107.5L436.2 107.5L436.2 109.8L435.6 109.8ZM405.2 109.8L405.8 109.8L405.8 112.0L405.2 112.0ZM410.3 109.8L412.6 109.8L412.6 110.3L410.9 112.0L410.3 112.0ZM412.6 109.8L414.9 109.8L414.9 112.0L414.4 112.0L412.6 110.3ZM414.9 109.8L417.2 109.8L417.2 110.3L415.5 112.0L414.9 112.0ZM417.2 109.8L419.5 109.8L419.5 112.0L419.0 112.0L417.2 110.3ZM421.8 109.8L422.4 109.8L422.4 112.0L421.8 112.0ZM425.9 109.8L426.4 109.8L426.4 112.0L425.9 112.0ZM435.6 109.8L436.2 109.8L436.2 112.0L435.6 112.0ZM403.4 113.8L403.4 114.3L402.9 114.3ZM405.2 112.0L405.8 112.0L405.8 114.3L403.4 114.3L403.4 113.8ZM410.3 112.0L410.9 112.0L412.6 113.8L412.6 114.3L410.3 114.3ZM414.4 112.0L414.9 112.0L414.9 114.3L412.6 114.3L412.6 113.8ZM414.9 112.0L415.5 112.0L417.2 113.8L417.2 114.3L414.9 114.3ZM419.0 112.0L419.5 112.0L419.5 114.3L417.2 114.3L417.2 113.8ZM421.8 112.0L422.4 112.0L424.1 113.8L424.1 114.3L421.8 114.3ZM426.4 112.0L426.4 112.6L425.9 112.0ZM424.1 114.3L424.1 113.8L424.7 114.3ZM426.4 112.0L428.8 112.0L428.8 114.3L428.2 114.3L426.4 112.6ZM433.3 112.0L435.6 112.0L435.6 112.6L433.9 114.3L433.3 114.3ZM435.6 112.0L436.2 112.0L435.6 112.6ZM402.9 114.3L403.4 114.3L403.4 116.6L402.9 116.6ZM424.1 114.3L424.7 114.3L426.4 116.1L426.4 116.6L424.1 116.6ZM428.8 114.3L428.8 114.9L428.2 114.3ZM426.4 116.6L426.4 116.1L427.0 116.6ZM428.8 114.3L431.0 114.3L431.0 116.6L430.5 116.6L428.8 114.9ZM433.3 114.3L433.9 114.3L433.9 116.6L433.3 116.6ZM401.1 118.4L401.1 119.0L400.6 119.0ZM402.9 116.6L403.4 116.6L403.4 119.0L401.1 119.0L401.1 118.4ZM426.4 116.6L427.0 116.6L428.8 118.4L428.8 119.0L426.4 119.0ZM430.5 116.6L431.0 116.6L431.0 119.0L428.8 119.0L428.8 118.4ZM431.0 116.6L433.3 116.6L433.3 117.2L431.6 119.0L431.0 119.0ZM433.3 116.6L433.9 116.6L433.3 117.2ZM398.8 120.7L398.8 121.2L398.3 121.2ZM400.6 119.0L401.1 119.0L401.1 121.2L398.8 121.2L398.8 120.7ZM431.0 119.0L431.6 119.0L431.6 121.2L431.0 121.2ZM394.2 123.0L394.2 123.5L393.7 123.5ZM396.5 123.0L396.5 123.5L394.2 123.5L394.2 123.0ZM398.3 121.2L398.8 121.2L398.8 123.5L396.5 123.5L396.5 123.0ZM428.8 121.2L431.0 121.2L431.0 121.8L429.3 123.5L428.8 123.5ZM431.0 121.2L431.6 121.2L431.0 121.8ZM391.9 125.3L391.9 125.8L391.4 125.8ZM393.7 123.5L394.2 123.5L394.2 125.8L391.9 125.8L391.9 125.3ZM426.4 123.5L428.8 123.5L428.8 124.1L427.0 125.8L426.4 125.8ZM428.8 123.5L429.3 123.5L428.8 124.1ZM389.6 127.6L389.6 128.1L389.1 128.1ZM391.4 125.8L391.9 125.8L391.9 128.1L389.6 128.1L389.6 127.6ZM410.3 125.8L412.6 125.8L412.6 126.4L410.9 128.1L410.3 128.1ZM412.6 125.8L414.9 125.8L414.9 128.1L414.4 128.1L412.6 126.4ZM417.2 125.8L419.5 125.8L419.5 126.4L417.8 128.1L417.2 128.1ZM419.5 125.8L421.8 125.8L421.8 128.1L421.3 128.1L419.5 126.4ZM424.1 125.8L426.4 125.8L426.4 126.4L424.7 128.1L424.1 128.1ZM426.4 125.8L427.0 125.8L426.4 126.4ZM387.3 129.9L387.3 130.4L386.8 130.4ZM389.1 128.1L389.6 128.1L389.6 130.4L387.3 130.4L387.3 129.9ZM410.3 128.1L410.9 128.1L412.6 129.9L412.6 130.4L410.3 130.4ZM414.4 128.1L414.9 128.1L414.9 130.4L412.6 130.4L412.6 129.9ZM417.2 128.1L417.8 128.1L419.5 129.9L419.5 130.4L417.2 130.4ZM421.3 128.1L421.8 128.1L421.8 130.4L419.5 130.4L419.5 129.9ZM424.1 128.1L424.7 128.1L424.7 130.4L424.1 130.4ZM385.0 132.2L385.0 132.8L384.5 132.8ZM386.8 130.4L387.3 130.4L387.3 132.8L385.0 132.8L385.0 132.2ZM396.5 130.4L398.8 130.4L398.8 131.0L397.1 132.8L396.5 132.8ZM398.8 130.4L401.1 130.4L401.1 132.8L400.6 132.8L398.8 131.0ZM421.8 130.4L424.1 130.4L424.1 131.0L422.4 132.8L421.8 132.8ZM424.1 130.4L424.7 130.4L424.1 131.0ZM382.8 134.5L382.8 135.0L382.2 135.0ZM384.5 132.8L385.0 132.8L385.0 135.0L382.8 135.0L382.8 134.5ZM396.5 132.8L397.1 132.8L398.8 134.5L398.8 135.0L396.5 135.0ZM400.6 132.8L401.1 132.8L401.1 135.0L398.8 135.0L398.8 134.5ZM421.8 132.8L422.4 132.8L422.4 135.0L421.8 135.0ZM380.4 136.8L380.4 137.3L379.9 137.3ZM382.2 135.0L382.8 135.0L382.8 137.3L380.4 137.3L380.4 136.8ZM421.8 135.0L422.4 135.0L422.4 137.3L421.8 137.3ZM378.1 139.1L378.1 139.6L377.6 139.6ZM379.9 137.3L380.4 137.3L380.4 139.6L378.1 139.6L378.1 139.1ZM419.5 137.3L421.8 137.3L421.8 137.9L420.1 139.6L419.5 139.6ZM421.8 137.3L422.4 137.3L421.8 137.9ZM375.8 141.4L375.8 141.9L375.3 141.9ZM377.6 139.6L378.1 139.6L378.1 141.9L375.8 141.9L375.8 141.4ZM419.5 139.6L420.1 139.6L421.8 141.4L421.8 141.9L419.5 141.9ZM422.4 141.9L421.8 141.9L421.8 141.4ZM373.5 143.7L373.5 144.2L373.0 144.2ZM375.8 141.9L375.8 142.5L375.3 141.9ZM373.5 144.2L373.5 143.7L374.1 144.2ZM375.8 141.9L378.1 141.9L378.1 144.2L377.6 144.2L375.8 142.5ZM419.5 141.9L421.8 141.9L421.8 142.5L420.1 144.2L419.5 144.2ZM421.8 141.9L422.4 141.9L421.8 142.5ZM373.0 144.2L373.5 144.2L373.5 144.8ZM373.5 144.2L374.1 144.2L373.5 144.8ZM375.8 146.5L375.3 146.5L375.8 146.0ZM378.1 144.2L378.1 144.8L377.6 144.2ZM375.8 146.5L375.8 146.0L376.4 146.5ZM378.1 144.2L380.4 144.2L380.4 146.5L379.9 146.5L378.1 144.8ZM410.3 144.2L412.6 144.2L412.6 144.8L410.9 146.5L410.3 146.5ZM412.6 144.2L414.9 144.2L414.9 146.5L414.4 146.5L412.6 144.8ZM417.2 144.2L419.5 144.2L419.5 144.8L417.8 146.5L417.2 146.5ZM419.5 144.2L420.1 144.2L419.5 144.8ZM371.2 148.3L371.2 148.8L370.7 148.8ZM371.8 148.8L371.2 148.8L371.2 148.3ZM375.3 146.5L375.8 146.5L375.8 148.8L375.3 148.8ZM375.8 146.5L376.4 146.5L378.1 148.3L378.1 148.8L375.8 148.8ZM379.9 146.5L380.4 146.5L380.4 148.8L378.1 148.8L378.1 148.3ZM410.3 146.5L410.9 146.5L412.6 148.3L412.6 148.8L410.3 148.8ZM414.9 146.5L414.9 147.1L414.4 146.5ZM412.6 148.8L412.6 148.3L413.2 148.8ZM414.9 146.5L417.2 146.5L417.2 148.8L416.7 148.8L414.9 147.1ZM417.2 146.5L417.8 146.5L417.8 148.8L417.2 148.8ZM370.7 148.8L371.2 148.8L371.2 151.2L370.7 151.2ZM371.2 148.8L371.8 148.8L373.5 150.6L373.5 151.2L371.2 151.2ZM375.3 148.8L375.8 148.8L375.8 151.2L373.5 151.2L373.5 150.6ZM412.6 148.8L413.2 148.8L414.9 150.6L414.9 151.2L412.6 151.2ZM417.2 148.8L417.2 149.4L416.7 148.8ZM414.9 151.2L414.9 150.6L415.5 151.2ZM417.2 148.8L417.8 148.8L417.2 149.4ZM357.4 152.9L357.4 153.4L356.9 153.4ZM358.0 153.4L357.4 153.4L357.4 152.9ZM368.9 152.9L368.9 153.4L368.4 153.4ZM370.7 151.2L371.2 151.2L371.2 153.4L368.9 153.4L368.9 152.9ZM414.9 151.2L415.5 151.2L415.5 153.4L414.9 153.4ZM431.0 152.9L431.0 153.4L430.5 153.4ZM431.6 153.4L431.0 153.4L431.0 152.9ZM355.1 155.2L355.1 155.8L354.6 155.8ZM356.9 153.4L357.4 153.4L357.4 155.8L355.1 155.8L355.1 155.2ZM357.4 153.4L358.0 153.4L359.8 155.2L359.8 155.8L357.4 155.8ZM362.0 155.2L362.0 155.8L359.8 155.8L359.8 155.2ZM364.3 155.2L364.3 155.8L362.0 155.8L362.0 155.2ZM366.6 155.2L366.6 155.8L364.3 155.8L364.3 155.2ZM368.4 153.4L368.9 153.4L368.9 155.8L366.6 155.8L366.6 155.2ZM412.6 153.4L414.9 153.4L414.9 154.0L413.2 155.8L412.6 155.8ZM414.9 153.4L415.5 153.4L414.9 154.0ZM430.5 153.4L431.0 153.4L431.0 154.0ZM431.0 153.4L431.6 153.4L431.0 154.0ZM354.6 155.8L355.1 155.8L355.1 158.0L354.6 158.0ZM410.3 155.8L412.6 155.8L412.6 156.3L410.9 158.0L410.3 158.0ZM412.6 155.8L413.2 155.8L412.6 156.3ZM352.8 159.8L352.8 160.3L352.3 160.3ZM354.6 158.0L355.1 158.0L355.1 160.3L352.8 160.3L352.8 159.8ZM410.3 158.0L410.9 158.0L410.9 160.3L410.3 160.3ZM352.3 160.3L352.8 160.3L352.8 162.7L352.3 162.7ZM408.0 160.3L410.3 160.3L410.3 160.9L408.6 162.7L408.0 162.7ZM410.3 160.3L410.9 160.3L410.3 160.9ZM412.6 162.7L412.1 162.7L412.6 162.1ZM413.2 162.7L412.6 162.7L412.6 162.1ZM352.3 162.7L352.8 162.7L352.8 164.9L352.3 164.9ZM352.8 162.7L355.1 162.7L355.1 163.2L353.4 164.9L352.8 164.9ZM355.1 162.7L357.4 162.7L357.4 164.9L356.9 164.9L355.1 163.2ZM405.8 162.7L408.0 162.7L408.0 163.2L406.3 164.9L405.8 164.9ZM408.0 162.7L408.6 162.7L408.0 163.2ZM412.1 162.7L412.6 162.7L412.6 163.2ZM412.6 162.7L413.2 162.7L412.6 163.2ZM431.0 164.4L431.0 164.9L430.5 164.9ZM431.6 164.9L431.0 164.9L431.0 164.4ZM352.3 164.9L352.8 164.9L352.8 167.2L352.3 167.2ZM352.8 164.9L353.4 164.9L353.4 167.2L352.8 167.2ZM356.9 164.9L357.4 164.9L357.4 167.2L356.9 167.2ZM405.8 164.9L406.3 164.9L406.3 167.2L405.8 167.2ZM428.8 166.7L428.8 167.2L428.2 167.2ZM431.0 164.9L431.0 165.5L430.5 164.9ZM428.8 167.2L428.8 166.7L429.3 167.2ZM431.0 164.9L431.6 164.9L431.0 165.5ZM352.3 167.2L352.8 167.2L352.8 167.8ZM352.8 167.2L353.4 167.2L352.8 167.8ZM356.9 167.2L357.4 167.2L357.4 169.5L356.9 169.5ZM401.1 167.2L403.4 167.2L403.4 167.8L401.7 169.5L401.1 169.5ZM403.4 167.2L405.8 167.2L405.8 167.8L403.4 167.8ZM405.8 167.2L406.3 167.2L405.8 167.8ZM428.2 167.2L428.8 167.2L428.8 167.8ZM428.8 167.2L429.3 167.2L428.8 167.8ZM433.3 169.0L433.3 169.5L432.8 169.5ZM433.9 169.5L433.3 169.5L433.3 169.0ZM355.1 171.3L355.1 171.8L354.6 171.8ZM356.9 169.5L357.4 169.5L357.4 171.8L355.1 171.8L355.1 171.3ZM401.1 169.5L401.7 169.5L403.4 171.3L403.4 171.8L401.1 171.8ZM404.0 171.8L403.4 171.8L403.4 171.3ZM431.0 171.3L431.0 171.8L430.5 171.8ZM433.3 169.5L433.3 170.1L432.8 169.5ZM431.0 171.8L431.0 171.3L431.6 171.8ZM433.3 169.5L433.9 169.5L433.3 170.1ZM354.6 171.8L355.1 171.8L355.1 172.4ZM355.1 171.8L357.4 171.8L357.4 174.2L356.9 174.2L355.1 172.4ZM403.4 171.8L404.0 171.8L404.0 174.2L403.4 174.2ZM430.5 171.8L431.0 171.8L431.0 172.4ZM431.0 171.8L431.6 171.8L431.0 172.4ZM355.1 175.9L355.1 176.4L354.6 176.4ZM357.4 174.2L357.4 174.7L356.9 174.2ZM355.1 176.4L355.1 175.9L355.7 176.4ZM357.4 174.2L359.8 174.2L359.8 174.7L357.4 174.7ZM359.8 174.2L362.0 174.2L362.0 176.4L361.5 176.4L359.8 174.7ZM403.4 174.2L404.0 174.2L404.0 176.4L403.4 176.4ZM419.5 175.9L419.5 176.4L419.0 176.4ZM420.1 176.4L419.5 176.4L419.5 175.9ZM352.8 178.2L352.8 178.8L352.3 178.8ZM354.6 176.4L355.1 176.4L355.1 178.8L352.8 178.8L352.8 178.2ZM355.1 176.4L355.7 176.4L357.4 178.2L357.4 178.8L355.1 178.8ZM359.8 178.2L359.8 178.8L357.4 178.8L357.4 178.2ZM361.5 176.4L362.0 176.4L362.0 178.8L359.8 178.8L359.8 178.2ZM398.8 176.4L401.1 176.4L401.1 177.0L399.4 178.8L398.8 178.8ZM401.1 176.4L403.4 176.4L403.4 177.0L401.1 177.0ZM403.4 176.4L404.0 176.4L403.4 177.0ZM419.0 176.4L419.5 176.4L419.5 177.0ZM419.5 176.4L420.1 176.4L419.5 177.0ZM352.3 178.8L352.8 178.8L352.8 181.0L352.3 181.0ZM357.4 178.8L359.8 178.8L359.8 179.3L358.0 181.0L357.4 181.0ZM359.8 178.8L362.0 178.8L362.0 181.0L361.5 181.0L359.8 179.3ZM378.1 178.8L380.4 178.8L380.4 179.3L378.7 181.0L378.1 181.0ZM380.4 178.8L382.8 178.8L382.8 181.0L382.2 181.0L380.4 179.3ZM398.8 178.8L399.4 178.8L399.4 181.0L398.8 181.0ZM345.9 182.8L345.9 183.3L345.4 183.3ZM346.5 183.3L345.9 183.3L345.9 182.8ZM352.3 181.0L352.8 181.0L352.8 183.3L352.3 183.3ZM352.8 181.0L355.1 181.0L355.1 181.6L353.4 183.3L352.8 183.3ZM355.1 181.0L357.4 181.0L357.4 181.6L355.1 181.6ZM357.4 181.0L358.0 181.0L357.4 181.6ZM361.5 181.0L362.0 181.0L362.0 181.6ZM362.0 181.0L364.3 181.0L364.3 181.6L362.0 181.6ZM364.3 181.0L366.6 181.0L366.6 181.6L364.3 181.6ZM366.6 181.0L368.9 181.0L368.9 183.3L368.4 183.3L366.6 181.6ZM378.1 181.0L378.7 181.0L380.4 182.8L380.4 183.3L378.1 183.3ZM382.2 181.0L382.8 181.0L382.8 183.3L380.4 183.3L380.4 182.8ZM396.5 181.0L398.8 181.0L398.8 181.6L397.1 183.3L396.5 183.3ZM398.8 181.0L399.4 181.0L398.8 181.6ZM345.4 183.3L345.9 183.3L345.9 183.9ZM345.9 183.3L346.5 183.3L345.9 183.9ZM350.5 185.1L350.5 185.7L350.0 185.7ZM352.8 183.3L352.8 183.9L352.3 183.3ZM350.5 185.7L350.5 185.1L351.1 185.7ZM352.8 183.3L353.4 183.3L352.8 183.9ZM368.4 183.3L368.9 183.3L368.9 183.9ZM368.9 183.3L371.2 183.3L371.2 183.9L368.9 183.9ZM371.2 183.3L373.5 183.3L373.5 183.9L371.2 183.9ZM373.5 183.3L375.8 183.3L375.8 183.9L373.5 183.9ZM375.8 183.3L378.1 183.3L378.1 185.7L377.6 185.7L375.8 183.9ZM396.5 183.3L397.1 183.3L397.1 185.7L396.5 185.7ZM350.0 185.7L350.5 185.7L350.5 186.2ZM350.5 185.7L351.1 185.7L350.5 186.2ZM377.6 185.7L378.1 185.7L378.1 186.2ZM378.1 185.7L380.4 185.7L380.4 187.9L379.9 187.9L378.1 186.2ZM394.2 185.7L396.5 185.7L396.5 186.2L394.8 187.9L394.2 187.9ZM396.5 185.7L397.1 185.7L396.5 186.2ZM379.9 187.9L380.4 187.9L380.4 188.5ZM380.4 187.9L382.8 187.9L382.8 190.2L382.2 190.2L380.4 188.5ZM385.0 187.9L387.3 187.9L387.3 188.5L385.6 190.2L385.0 190.2ZM387.3 187.9L389.6 187.9L389.6 190.2L389.1 190.2L387.3 188.5ZM389.6 187.9L391.9 187.9L391.9 188.5L390.2 190.2L389.6 190.2ZM391.9 187.9L394.2 187.9L394.2 188.5L391.9 188.5ZM394.2 187.9L394.8 187.9L394.2 188.5ZM382.2 190.2L382.8 190.2L382.8 190.8ZM382.8 190.2L385.0 190.2L385.0 192.5L384.5 192.5L382.8 190.8ZM385.0 190.2L385.6 190.2L387.3 192.0L387.3 192.5L385.0 192.5ZM389.6 190.2L389.6 190.8L389.1 190.2ZM387.3 192.5L387.3 192.0L387.9 192.5ZM389.6 190.2L390.2 190.2L389.6 190.8ZM384.5 192.5L385.0 192.5L385.0 193.1ZM385.0 192.5L387.3 192.5L387.3 193.1L385.0 193.1ZM387.3 192.5L387.9 192.5L387.3 193.1ZM437.9 79.8h2.4v2.4h-2.4ZM437.9 82.1h2.4v2.4h-2.4ZM426.4 84.4h2.4v2.4h-2.4ZM437.9 84.4h4.7v2.4h-4.7ZM437.9 86.7h4.7v2.4h-4.7ZM435.6 89.0h7.0v2.4h-7.0ZM433.3 91.3h4.7v2.4h-4.7ZM417.2 93.6h2.4v2.4h-2.4ZM435.6 93.6h2.4v2.4h-2.4ZM417.2 95.9h2.4v2.4h-2.4ZM417.2 98.2h4.7v2.4h-4.7ZM408.0 102.8h2.4v2.4h-2.4ZM428.7 102.8h2.4v2.4h-2.4ZM405.7 105.1h4.7v2.4h-4.7ZM414.9 105.1h4.7v2.4h-4.7ZM428.7 105.1h2.4v2.4h-2.4ZM405.7 107.4h13.9v2.4h-13.9ZM428.7 107.4h7.0v2.4h-7.0ZM405.7 109.7h4.7v2.4h-4.7ZM419.5 109.7h2.4v2.4h-2.4ZM426.4 109.7h9.3v2.4h-9.3ZM405.7 112.0h4.7v2.4h-4.7ZM419.5 112.0h2.4v2.4h-2.4ZM428.7 112.0h4.7v2.4h-4.7ZM403.4 114.3h20.8v2.4h-20.8ZM431.0 114.3h2.4v2.4h-2.4ZM403.4 116.6h23.1v2.4h-23.1ZM401.1 118.9h30.0v2.4h-30.0ZM398.8 121.2h30.0v2.4h-30.0ZM394.2 123.5h32.3v2.4h-32.3ZM391.9 125.8h18.5v2.4h-18.5ZM414.9 125.8h2.4v2.4h-2.4ZM421.8 125.8h2.4v2.4h-2.4ZM389.6 128.1h20.8v2.4h-20.8ZM414.9 128.1h2.4v2.4h-2.4ZM421.8 128.1h2.4v2.4h-2.4ZM387.3 130.4h9.3v2.4h-9.3ZM401.1 130.4h20.8v2.4h-20.8ZM385.0 132.7h11.6v2.4h-11.6ZM401.1 132.7h20.8v2.4h-20.8ZM382.7 135.0h39.2v2.4h-39.2ZM380.4 137.3h39.2v2.4h-39.2ZM378.1 139.6h41.5v2.4h-41.5ZM378.1 141.9h41.5v2.4h-41.5ZM380.4 144.2h30.0v2.4h-30.0ZM414.9 144.2h2.4v2.4h-2.4ZM380.4 146.5h30.0v2.4h-30.0ZM375.8 148.8h36.9v2.4h-36.9ZM371.2 151.1h43.8v2.4h-43.8ZM368.9 153.4h43.8v2.4h-43.8ZM355.1 155.7h55.3v2.4h-55.3ZM355.1 158.0h55.3v2.4h-55.3ZM352.8 160.3h55.3v2.4h-55.3ZM357.4 162.6h48.4v2.4h-48.4ZM357.4 164.9h48.4v2.4h-48.4ZM357.4 167.2h43.8v2.4h-43.8ZM357.4 169.5h43.8v2.4h-43.8ZM357.4 171.8h46.1v2.4h-46.1ZM362.0 174.1h41.5v2.4h-41.5ZM362.0 176.4h36.9v2.4h-36.9ZM352.8 178.7h4.7v2.4h-4.7ZM362.0 178.7h16.2v2.4h-16.2ZM382.7 178.7h16.2v2.4h-16.2ZM368.9 181.0h9.3v2.4h-9.3ZM382.7 181.0h13.9v2.4h-13.9ZM378.1 183.3h18.5v2.4h-18.5ZM380.4 185.6h13.9v2.4h-13.9ZM382.7 187.9h2.4v2.4h-2.4Z"/></clipPath>
<g clip-path="url(#clip-b)"><g filter="url(#soft)">
<path fill="#0000ad" d="M431.9 20.9h7.5v2.9h-7.5zM420.4 23.2h7.5v2.9h-7.5zM431.9 23.2h7.5v2.9h-7.5zM420.4 25.5h7.5v2.9h-7.5zM431.9 25.5h7.5v2.9h-7.5zM420.4 27.8h7.5v2.9h-7.5zM434.2 32.4h7.5v2.9h-7.5zM434.2 34.7h7.5v2.9h-7.5zM434.2 37.0h7.5v2.9h-7.5zM436.5 41.6h7.5v2.9h-7.5zM436.5 43.9h7.5v2.9h-7.5zM436.5 46.2h7.5v2.9h-7.5zM420.4 57.7h7.5v2.9h-7.5zM420.4 60.0h7.5v2.9h-7.5zM420.4 62.3h7.5v2.9h-7.5zM434.2 64.6h7.5v2.9h-7.5zM434.2 66.9h7.5v2.9h-7.5zM425.0 69.2h7.5v2.9h-7.5zM434.2 69.2h7.5v2.9h-7.5zM415.8 71.5h7.5v2.9h-7.5zM425.0 71.5h7.5v2.9h-7.5zM415.8 73.8h7.5v2.9h-7.5zM425.0 73.8h7.5v2.9h-7.5zM441.1 73.8h5.2v2.9h-5.2zM415.8 76.1h5.2v2.9h-5.2zM441.1 76.1h5.2v2.9h-5.2zM418.1 78.4h2.9v2.9h-2.9zM418.1 80.7h5.2v2.9h-5.2zM445.7 80.7h2.9v2.9h-2.9zM441.1 83.0h7.5v2.9h-7.5zM431.9 85.3h2.9v2.9h-2.9zM441.1 85.3h7.5v2.9h-7.5zM411.2 87.6h5.2v2.9h-5.2zM425.0 87.6h2.9v2.9h-2.9zM434.2 87.6h5.2v2.9h-5.2zM411.2 89.9h5.2v2.9h-5.2zM427.3 89.9h5.2v2.9h-5.2zM438.8 89.9h2.9v2.9h-2.9zM406.6 92.2h14.4v2.9h-14.4zM427.3 92.2h2.9v2.9h-2.9zM408.9 94.5h2.9v2.9h-2.9zM418.1 94.5h2.9v2.9h-2.9zM429.6 94.5h2.9v2.9h-2.9zM434.2 94.5h2.9v2.9h-2.9zM404.3 99.1h2.9v2.9h-2.9zM415.8 99.1h5.2v2.9h-5.2zM402.0 101.4h7.5v2.9h-7.5zM429.6 101.4h2.9v2.9h-2.9zM436.5 101.4h5.2v2.9h-5.2zM404.3 103.7h2.9v2.9h-2.9zM408.9 103.7h2.9v2.9h-2.9zM422.7 103.7h2.9v2.9h-2.9zM429.6 103.7h2.9v2.9h-2.9zM438.8 103.7h2.9v2.9h-2.9zM408.9 106.0h2.9v2.9h-2.9zM418.1 106.0h2.9v2.9h-2.9zM434.2 106.0h2.9v2.9h-2.9zM436.5 108.3h2.9v2.9h-2.9zM404.3 110.6h2.9v2.9h-2.9zM434.2 110.6h5.2v2.9h-5.2zM408.9 112.9h5.2v2.9h-5.2zM431.9 112.9h2.9v2.9h-2.9zM436.5 112.9h2.9v2.9h-2.9zM408.9 115.2h5.2v2.9h-5.2zM395.1 117.5h5.2v2.9h-5.2zM425.0 117.5h2.9v2.9h-2.9zM390.5 119.8h19.0v2.9h-19.0zM411.2 119.8h7.5v2.9h-7.5zM420.4 119.8h2.9v2.9h-2.9zM429.6 119.8h2.9v2.9h-2.9zM392.8 122.1h5.2v2.9h-5.2zM415.8 122.1h2.9v2.9h-2.9zM422.7 122.1h2.9v2.9h-2.9zM385.9 124.4h2.9v2.9h-2.9zM422.7 124.4h5.2v2.9h-5.2zM383.6 126.7h7.5v2.9h-7.5zM392.8 126.7h2.9v2.9h-2.9zM397.4 126.7h2.9v2.9h-2.9zM420.4 126.7h2.9v2.9h-2.9zM385.9 129.0h2.9v2.9h-2.9zM422.7 129.0h5.2v2.9h-5.2zM385.9 131.3h5.2v2.9h-5.2zM425.0 131.3h2.9v2.9h-2.9zM383.6 133.6h5.2v2.9h-5.2zM418.1 133.6h2.9v2.9h-2.9zM383.6 135.9h2.9v2.9h-2.9zM420.4 135.9h5.2v2.9h-5.2zM422.7 138.2h2.9v2.9h-2.9zM374.4 140.5h2.9v2.9h-2.9zM381.3 140.5h2.9v2.9h-2.9zM418.1 140.5h2.9v2.9h-2.9zM415.8 142.8h2.9v2.9h-2.9zM367.5 145.1h2.9v2.9h-2.9zM415.8 145.1h2.9v2.9h-2.9zM369.8 147.4h2.9v2.9h-2.9zM415.8 147.4h5.2v2.9h-5.2zM408.9 149.7h2.9v2.9h-2.9zM418.1 149.7h2.9v2.9h-2.9zM427.3 149.7h7.5v2.9h-7.5zM351.4 152.0h2.9v2.9h-2.9zM427.3 152.0h7.5v2.9h-7.5zM351.4 154.3h5.2v2.9h-5.2zM427.3 154.3h7.5v2.9h-7.5zM413.5 158.9h2.9v2.9h-2.9zM406.6 161.2h2.9v2.9h-2.9zM411.2 161.2h5.2v2.9h-5.2zM427.3 161.2h7.5v2.9h-7.5zM351.4 163.5h2.9v2.9h-2.9zM408.9 163.5h7.5v2.9h-7.5zM425.0 163.5h9.8v2.9h-9.8zM349.1 165.8h5.2v2.9h-5.2zM404.3 165.8h5.2v2.9h-5.2zM425.0 165.8h12.1v2.9h-12.1zM349.1 168.1h5.2v2.9h-5.2zM358.3 168.1h2.9v2.9h-2.9zM406.6 168.1h2.9v2.9h-2.9zM425.0 168.1h12.1v2.9h-12.1zM351.4 170.4h5.2v2.9h-5.2zM427.3 170.4h9.8v2.9h-9.8zM358.3 172.7h2.9v2.9h-2.9zM362.9 172.7h2.9v2.9h-2.9zM415.8 172.7h7.5v2.9h-7.5zM427.3 172.7h7.5v2.9h-7.5zM372.1 175.0h2.9v2.9h-2.9zM415.8 175.0h7.5v2.9h-7.5zM397.4 177.3h2.9v2.9h-2.9zM415.8 177.3h7.5v2.9h-7.5zM342.2 179.6h7.5v2.9h-7.5zM351.4 179.6h2.9v2.9h-2.9zM356.0 179.6h2.9v2.9h-2.9zM360.6 179.6h2.9v2.9h-2.9zM369.8 179.6h2.9v2.9h-2.9zM374.4 179.6h2.9v2.9h-2.9zM395.1 179.6h7.5v2.9h-7.5zM342.2 181.9h5.2v2.9h-5.2zM358.3 181.9h5.2v2.9h-5.2zM372.1 181.9h5.2v2.9h-5.2zM399.7 181.9h2.9v2.9h-2.9zM342.2 184.2h5.2v2.9h-5.2zM372.1 184.2h7.5v2.9h-7.5zM388.2 184.2h2.9v2.9h-2.9zM374.4 186.5h2.9v2.9h-2.9zM388.2 186.5h2.9v2.9h-2.9zM383.6 188.8h2.9v2.9h-2.9zM388.2 188.8h2.9v2.9h-2.9zM383.6 191.1h2.9v2.9h-2.9zM381.3 193.4h5.2v2.9h-5.2z"/>
<path fill="#0000bf" d="M420.4 76.1h2.9v2.9h-2.9zM436.5 76.1h5.2v2.9h-5.2zM420.4 78.4h2.9v2.9h-2.9zM429.6 78.4h2.9v2.9h-2.9zM438.8 78.4h2.9v2.9h-2.9zM443.4 78.4h2.9v2.9h-2.9zM427.3 80.7h5.2v2.9h-5.2zM441.1 80.7h5.2v2.9h-5.2zM418.1 83.0h5.2v2.9h-5.2zM427.3 83.0h5.2v2.9h-5.2zM434.2 83.0h7.5v2.9h-7.5zM425.0 85.3h2.9v2.9h-2.9zM434.2 85.3h2.9v2.9h-2.9zM438.8 85.3h2.9v2.9h-2.9zM415.8 87.6h2.9v2.9h-2.9zM422.7 87.6h2.9v2.9h-2.9zM427.3 87.6h7.5v2.9h-7.5zM441.1 87.6h5.2v2.9h-5.2zM415.8 89.9h5.2v2.9h-5.2zM425.0 89.9h2.9v2.9h-2.9zM434.2 89.9h2.9v2.9h-2.9zM443.4 89.9h2.9v2.9h-2.9zM420.4 92.2h2.9v2.9h-2.9zM429.6 92.2h2.9v2.9h-2.9zM436.5 92.2h7.5v2.9h-7.5zM406.6 94.5h2.9v2.9h-2.9zM411.2 94.5h7.5v2.9h-7.5zM420.4 94.5h9.8v2.9h-9.8zM431.9 94.5h2.9v2.9h-2.9zM436.5 94.5h2.9v2.9h-2.9zM418.1 96.8h2.9v2.9h-2.9zM422.7 96.8h5.2v2.9h-5.2zM434.2 96.8h2.9v2.9h-2.9zM406.6 99.1h2.9v2.9h-2.9zM434.2 99.1h7.5v2.9h-7.5zM408.9 101.4h7.5v2.9h-7.5zM418.1 101.4h7.5v2.9h-7.5zM427.3 101.4h2.9v2.9h-2.9zM431.9 101.4h5.2v2.9h-5.2zM402.0 103.7h2.9v2.9h-2.9zM411.2 103.7h5.2v2.9h-5.2zM418.1 103.7h2.9v2.9h-2.9zM431.9 103.7h2.9v2.9h-2.9zM436.5 103.7h2.9v2.9h-2.9zM402.0 106.0h5.2v2.9h-5.2zM411.2 106.0h5.2v2.9h-5.2zM420.4 106.0h5.2v2.9h-5.2zM429.6 106.0h2.9v2.9h-2.9zM436.5 106.0h2.9v2.9h-2.9zM408.9 108.3h2.9v2.9h-2.9zM413.5 108.3h9.8v2.9h-9.8zM434.2 108.3h2.9v2.9h-2.9zM399.7 110.6h5.2v2.9h-5.2zM406.6 110.6h2.9v2.9h-2.9zM418.1 110.6h2.9v2.9h-2.9zM427.3 110.6h2.9v2.9h-2.9zM399.7 112.9h5.2v2.9h-5.2zM406.6 112.9h2.9v2.9h-2.9zM413.5 112.9h2.9v2.9h-2.9zM422.7 112.9h2.9v2.9h-2.9zM434.2 112.9h2.9v2.9h-2.9zM397.4 115.2h7.5v2.9h-7.5zM406.6 115.2h2.9v2.9h-2.9zM413.5 115.2h5.2v2.9h-5.2zM429.6 115.2h7.5v2.9h-7.5zM399.7 117.5h5.2v2.9h-5.2zM418.1 117.5h2.9v2.9h-2.9zM422.7 117.5h2.9v2.9h-2.9zM429.6 117.5h7.5v2.9h-7.5zM425.0 119.8h2.9v2.9h-2.9zM431.9 119.8h2.9v2.9h-2.9zM390.5 122.1h2.9v2.9h-2.9zM402.0 122.1h5.2v2.9h-5.2zM411.2 122.1h2.9v2.9h-2.9zM418.1 122.1h2.9v2.9h-2.9zM425.0 122.1h2.9v2.9h-2.9zM429.6 122.1h5.2v2.9h-5.2zM388.2 124.4h2.9v2.9h-2.9zM392.8 124.4h5.2v2.9h-5.2zM404.3 124.4h2.9v2.9h-2.9zM411.2 124.4h2.9v2.9h-2.9zM427.3 124.4h2.9v2.9h-2.9zM399.7 126.7h5.2v2.9h-5.2zM425.0 126.7h5.2v2.9h-5.2zM381.3 129.0h5.2v2.9h-5.2zM388.2 129.0h5.2v2.9h-5.2zM418.1 129.0h5.2v2.9h-5.2zM379.0 131.3h7.5v2.9h-7.5zM390.5 131.3h7.5v2.9h-7.5zM420.4 131.3h5.2v2.9h-5.2zM379.0 133.6h5.2v2.9h-5.2zM395.1 133.6h2.9v2.9h-2.9zM422.7 133.6h2.9v2.9h-2.9zM381.3 135.9h2.9v2.9h-2.9zM372.1 138.2h2.9v2.9h-2.9zM383.6 138.2h5.2v2.9h-5.2zM418.1 138.2h5.2v2.9h-5.2zM372.1 140.5h2.9v2.9h-2.9zM379.0 140.5h2.9v2.9h-2.9zM413.5 140.5h2.9v2.9h-2.9zM420.4 140.5h5.2v2.9h-5.2zM376.7 142.8h2.9v2.9h-2.9zM411.2 142.8h2.9v2.9h-2.9zM420.4 142.8h5.2v2.9h-5.2zM369.8 145.1h2.9v2.9h-2.9zM413.5 145.1h2.9v2.9h-2.9zM418.1 145.1h2.9v2.9h-2.9zM367.5 147.4h2.9v2.9h-2.9zM411.2 147.4h5.2v2.9h-5.2zM369.8 149.7h2.9v2.9h-2.9zM404.3 149.7h5.2v2.9h-5.2zM415.8 149.7h2.9v2.9h-2.9zM353.7 152.0h2.9v2.9h-2.9zM360.6 152.0h2.9v2.9h-2.9zM413.5 152.0h2.9v2.9h-2.9zM358.3 154.3h7.5v2.9h-7.5zM408.9 154.3h5.2v2.9h-5.2zM349.1 156.6h5.2v2.9h-5.2zM413.5 156.6h2.9v2.9h-2.9zM351.4 158.9h2.9v2.9h-2.9zM408.9 161.2h2.9v2.9h-2.9zM349.1 163.5h2.9v2.9h-2.9zM358.3 163.5h2.9v2.9h-2.9zM406.6 163.5h2.9v2.9h-2.9zM353.7 165.8h7.5v2.9h-7.5zM404.3 168.1h2.9v2.9h-2.9zM360.6 170.4h5.2v2.9h-5.2zM402.0 170.4h2.9v2.9h-2.9zM351.4 172.7h2.9v2.9h-2.9zM360.6 172.7h2.9v2.9h-2.9zM365.2 172.7h2.9v2.9h-2.9zM376.7 172.7h2.9v2.9h-2.9zM349.1 175.0h2.9v2.9h-2.9zM360.6 175.0h2.9v2.9h-2.9zM367.5 175.0h2.9v2.9h-2.9zM349.1 177.3h5.2v2.9h-5.2zM360.6 177.3h2.9v2.9h-2.9zM369.8 177.3h2.9v2.9h-2.9zM399.7 177.3h2.9v2.9h-2.9zM349.1 179.6h2.9v2.9h-2.9zM358.3 179.6h2.9v2.9h-2.9zM367.5 179.6h2.9v2.9h-2.9zM376.7 179.6h2.9v2.9h-2.9zM385.9 179.6h2.9v2.9h-2.9zM346.8 181.9h2.9v2.9h-2.9zM356.0 181.9h2.9v2.9h-2.9zM367.5 181.9h5.2v2.9h-5.2zM376.7 181.9h2.9v2.9h-2.9zM383.6 181.9h2.9v2.9h-2.9zM392.8 181.9h2.9v2.9h-2.9zM397.4 181.9h2.9v2.9h-2.9zM365.2 184.2h7.5v2.9h-7.5zM395.1 184.2h5.2v2.9h-5.2zM376.7 186.5h2.9v2.9h-2.9zM385.9 186.5h2.9v2.9h-2.9zM390.5 186.5h2.9v2.9h-2.9zM395.1 186.5h5.2v2.9h-5.2zM385.9 188.8h2.9v2.9h-2.9zM390.5 188.8h2.9v2.9h-2.9zM388.2 191.1h5.2v2.9h-5.2zM385.9 193.4h2.9v2.9h-2.9z"/>
<path fill="#0000d4" d="M434.2 71.5h7.5v2.9h-7.5zM434.2 73.8h7.5v2.9h-7.5zM422.7 76.1h2.9v2.9h-2.9zM427.3 76.1h2.9v2.9h-2.9zM434.2 76.1h2.9v2.9h-2.9zM422.7 78.4h2.9v2.9h-2.9zM427.3 78.4h2.9v2.9h-2.9zM434.2 78.4h2.9v2.9h-2.9zM441.1 78.4h2.9v2.9h-2.9zM422.7 80.7h5.2v2.9h-5.2zM434.2 80.7h7.5v2.9h-7.5zM422.7 83.0h2.9v2.9h-2.9zM418.1 85.3h7.5v2.9h-7.5zM429.6 85.3h2.9v2.9h-2.9zM436.5 85.3h2.9v2.9h-2.9zM418.1 87.6h5.2v2.9h-5.2zM438.8 87.6h2.9v2.9h-2.9zM420.4 89.9h5.2v2.9h-5.2zM436.5 89.9h2.9v2.9h-2.9zM441.1 89.9h2.9v2.9h-2.9zM422.7 92.2h2.9v2.9h-2.9zM431.9 92.2h5.2v2.9h-5.2zM443.4 92.2h2.9v2.9h-2.9zM438.8 94.5h5.2v2.9h-5.2zM413.5 96.8h2.9v2.9h-2.9zM420.4 96.8h2.9v2.9h-2.9zM427.3 96.8h2.9v2.9h-2.9zM431.9 96.8h2.9v2.9h-2.9zM438.8 96.8h5.2v2.9h-5.2zM408.9 99.1h7.5v2.9h-7.5zM420.4 99.1h14.4v2.9h-14.4zM415.8 101.4h2.9v2.9h-2.9zM425.0 101.4h2.9v2.9h-2.9zM406.6 103.7h2.9v2.9h-2.9zM415.8 103.7h2.9v2.9h-2.9zM420.4 103.7h2.9v2.9h-2.9zM425.0 103.7h5.2v2.9h-5.2zM434.2 103.7h2.9v2.9h-2.9zM425.0 106.0h2.9v2.9h-2.9zM402.0 108.3h2.9v2.9h-2.9zM422.7 108.3h2.9v2.9h-2.9zM427.3 108.3h2.9v2.9h-2.9zM431.9 108.3h2.9v2.9h-2.9zM408.9 110.6h5.2v2.9h-5.2zM415.8 110.6h2.9v2.9h-2.9zM422.7 110.6h2.9v2.9h-2.9zM404.3 112.9h2.9v2.9h-2.9zM418.1 112.9h2.9v2.9h-2.9zM422.7 115.2h2.9v2.9h-2.9zM427.3 115.2h2.9v2.9h-2.9zM404.3 117.5h5.2v2.9h-5.2zM411.2 117.5h5.2v2.9h-5.2zM427.3 117.5h2.9v2.9h-2.9zM422.7 119.8h2.9v2.9h-2.9zM427.3 119.8h2.9v2.9h-2.9zM388.2 122.1h2.9v2.9h-2.9zM397.4 122.1h5.2v2.9h-5.2zM406.6 122.1h2.9v2.9h-2.9zM420.4 122.1h2.9v2.9h-2.9zM427.3 122.1h2.9v2.9h-2.9zM397.4 124.4h2.9v2.9h-2.9zM406.6 124.4h5.2v2.9h-5.2zM413.5 124.4h5.2v2.9h-5.2zM420.4 124.4h2.9v2.9h-2.9zM429.6 124.4h2.9v2.9h-2.9zM390.5 126.7h2.9v2.9h-2.9zM404.3 126.7h2.9v2.9h-2.9zM413.5 126.7h7.5v2.9h-7.5zM395.1 129.0h2.9v2.9h-2.9zM399.7 129.0h5.2v2.9h-5.2zM413.5 129.0h2.9v2.9h-2.9zM399.7 131.3h2.9v2.9h-2.9zM418.1 131.3h2.9v2.9h-2.9zM376.7 133.6h2.9v2.9h-2.9zM388.2 133.6h2.9v2.9h-2.9zM415.8 133.6h2.9v2.9h-2.9zM420.4 133.6h2.9v2.9h-2.9zM379.0 135.9h2.9v2.9h-2.9zM388.2 135.9h2.9v2.9h-2.9zM418.1 135.9h2.9v2.9h-2.9zM374.4 138.2h2.9v2.9h-2.9zM411.2 138.2h5.2v2.9h-5.2zM369.8 140.5h2.9v2.9h-2.9zM408.9 140.5h5.2v2.9h-5.2zM369.8 142.8h7.5v2.9h-7.5zM408.9 142.8h2.9v2.9h-2.9zM413.5 142.8h2.9v2.9h-2.9zM418.1 142.8h2.9v2.9h-2.9zM372.1 145.1h2.9v2.9h-2.9zM411.2 145.1h2.9v2.9h-2.9zM420.4 145.1h2.9v2.9h-2.9zM367.5 149.7h2.9v2.9h-2.9zM413.5 149.7h2.9v2.9h-2.9zM358.3 152.0h2.9v2.9h-2.9zM362.9 152.0h2.9v2.9h-2.9zM406.6 152.0h5.2v2.9h-5.2zM415.8 152.0h2.9v2.9h-2.9zM356.0 154.3h2.9v2.9h-2.9zM365.2 154.3h2.9v2.9h-2.9zM404.3 154.3h2.9v2.9h-2.9zM413.5 154.3h5.2v2.9h-5.2zM353.7 156.6h5.2v2.9h-5.2zM360.6 156.6h5.2v2.9h-5.2zM406.6 156.6h2.9v2.9h-2.9zM349.1 158.9h2.9v2.9h-2.9zM353.7 158.9h2.9v2.9h-2.9zM360.6 158.9h2.9v2.9h-2.9zM406.6 158.9h2.9v2.9h-2.9zM411.2 158.9h2.9v2.9h-2.9zM349.1 161.2h2.9v2.9h-2.9zM402.0 161.2h5.2v2.9h-5.2zM353.7 163.5h5.2v2.9h-5.2zM402.0 163.5h5.2v2.9h-5.2zM353.7 168.1h2.9v2.9h-2.9zM358.3 170.4h2.9v2.9h-2.9zM365.2 170.4h2.9v2.9h-2.9zM404.3 170.4h2.9v2.9h-2.9zM353.7 172.7h2.9v2.9h-2.9zM369.8 172.7h7.5v2.9h-7.5zM397.4 172.7h2.9v2.9h-2.9zM351.4 175.0h5.2v2.9h-5.2zM358.3 175.0h2.9v2.9h-2.9zM369.8 175.0h2.9v2.9h-2.9zM376.7 175.0h2.9v2.9h-2.9zM397.4 175.0h9.8v2.9h-9.8zM362.9 177.3h2.9v2.9h-2.9zM367.5 177.3h2.9v2.9h-2.9zM372.1 177.3h2.9v2.9h-2.9zM388.2 177.3h2.9v2.9h-2.9zM395.1 177.3h2.9v2.9h-2.9zM402.0 177.3h5.2v2.9h-5.2zM353.7 179.6h2.9v2.9h-2.9zM362.9 179.6h5.2v2.9h-5.2zM388.2 179.6h2.9v2.9h-2.9zM392.8 179.6h2.9v2.9h-2.9zM353.7 181.9h2.9v2.9h-2.9zM362.9 181.9h5.2v2.9h-5.2zM379.0 181.9h2.9v2.9h-2.9zM390.5 181.9h2.9v2.9h-2.9zM395.1 181.9h2.9v2.9h-2.9zM346.8 184.2h2.9v2.9h-2.9zM379.0 184.2h2.9v2.9h-2.9zM383.6 184.2h5.2v2.9h-5.2zM390.5 184.2h5.2v2.9h-5.2zM379.0 186.5h5.2v2.9h-5.2zM392.8 186.5h2.9v2.9h-2.9zM376.7 188.8h2.9v2.9h-2.9zM392.8 188.8h5.2v2.9h-5.2zM381.3 191.1h2.9v2.9h-2.9zM385.9 191.1h2.9v2.9h-2.9zM388.2 193.4h2.9v2.9h-2.9z"/>
<path fill="#0000ea" d="M425.0 76.1h2.9v2.9h-2.9zM425.0 78.4h2.9v2.9h-2.9zM436.5 78.4h2.9v2.9h-2.9zM425.0 83.0h2.9v2.9h-2.9zM427.3 85.3h2.9v2.9h-2.9zM431.9 89.9h2.9v2.9h-2.9zM406.6 96.8h2.9v2.9h-2.9zM411.2 96.8h2.9v2.9h-2.9zM429.6 96.8h2.9v2.9h-2.9zM436.5 96.8h2.9v2.9h-2.9zM406.6 106.0h2.9v2.9h-2.9zM415.8 106.0h2.9v2.9h-2.9zM427.3 106.0h2.9v2.9h-2.9zM431.9 106.0h2.9v2.9h-2.9zM404.3 108.3h2.9v2.9h-2.9zM425.0 108.3h2.9v2.9h-2.9zM413.5 110.6h2.9v2.9h-2.9zM420.4 110.6h2.9v2.9h-2.9zM425.0 110.6h2.9v2.9h-2.9zM429.6 110.6h2.9v2.9h-2.9zM415.8 112.9h2.9v2.9h-2.9zM420.4 112.9h2.9v2.9h-2.9zM425.0 112.9h2.9v2.9h-2.9zM425.0 115.2h2.9v2.9h-2.9zM408.9 119.8h2.9v2.9h-2.9zM418.1 119.8h2.9v2.9h-2.9zM408.9 122.1h2.9v2.9h-2.9zM413.5 122.1h2.9v2.9h-2.9zM390.5 124.4h2.9v2.9h-2.9zM399.7 124.4h2.9v2.9h-2.9zM395.1 126.7h2.9v2.9h-2.9zM411.2 126.7h2.9v2.9h-2.9zM422.7 126.7h2.9v2.9h-2.9zM392.8 129.0h2.9v2.9h-2.9zM397.4 129.0h2.9v2.9h-2.9zM415.8 129.0h2.9v2.9h-2.9zM397.4 131.3h2.9v2.9h-2.9zM413.5 131.3h5.2v2.9h-5.2zM392.8 133.6h2.9v2.9h-2.9zM413.5 133.6h2.9v2.9h-2.9zM374.4 135.9h5.2v2.9h-5.2zM385.9 135.9h2.9v2.9h-2.9zM413.5 135.9h5.2v2.9h-5.2zM379.0 138.2h5.2v2.9h-5.2zM388.2 138.2h2.9v2.9h-2.9zM383.6 140.5h5.2v2.9h-5.2zM374.4 145.1h2.9v2.9h-2.9zM406.6 145.1h5.2v2.9h-5.2zM372.1 147.4h5.2v2.9h-5.2zM408.9 147.4h2.9v2.9h-2.9zM353.7 149.7h7.5v2.9h-7.5zM365.2 149.7h2.9v2.9h-2.9zM372.1 149.7h2.9v2.9h-2.9zM411.2 149.7h2.9v2.9h-2.9zM356.0 152.0h2.9v2.9h-2.9zM365.2 152.0h5.2v2.9h-5.2zM406.6 154.3h2.9v2.9h-2.9zM411.2 156.6h2.9v2.9h-2.9zM356.0 158.9h2.9v2.9h-2.9zM402.0 158.9h5.2v2.9h-5.2zM360.6 165.8h2.9v2.9h-2.9zM402.0 165.8h2.9v2.9h-2.9zM356.0 168.1h2.9v2.9h-2.9zM402.0 168.1h2.9v2.9h-2.9zM356.0 170.4h2.9v2.9h-2.9zM367.5 170.4h2.9v2.9h-2.9zM399.7 172.7h2.9v2.9h-2.9zM404.3 172.7h2.9v2.9h-2.9zM356.0 175.0h2.9v2.9h-2.9zM374.4 175.0h2.9v2.9h-2.9zM379.0 175.0h2.9v2.9h-2.9zM365.2 177.3h2.9v2.9h-2.9zM376.7 177.3h2.9v2.9h-2.9zM381.3 177.3h5.2v2.9h-5.2zM379.0 179.6h5.2v2.9h-5.2zM349.1 181.9h5.2v2.9h-5.2zM385.9 181.9h2.9v2.9h-2.9zM349.1 184.2h7.5v2.9h-7.5zM346.8 186.5h7.5v2.9h-7.5zM383.6 186.5h2.9v2.9h-2.9zM379.0 188.8h2.9v2.9h-2.9z"/>
<path fill="#0000ff" d="M408.9 96.8h2.9v2.9h-2.9zM415.8 96.8h2.9v2.9h-2.9zM411.2 108.3h2.9v2.9h-2.9zM429.6 108.3h2.9v2.9h-2.9zM404.3 115.2h2.9v2.9h-2.9zM420.4 115.2h2.9v2.9h-2.9zM408.9 117.5h2.9v2.9h-2.9zM415.8 117.5h2.9v2.9h-2.9zM420.4 117.5h2.9v2.9h-2.9zM402.0 124.4h2.9v2.9h-2.9zM408.9 126.7h2.9v2.9h-2.9zM390.5 133.6h2.9v2.9h-2.9zM397.4 133.6h2.9v2.9h-2.9zM411.2 133.6h2.9v2.9h-2.9zM390.5 135.9h2.9v2.9h-2.9zM376.7 138.2h2.9v2.9h-2.9zM415.8 140.5h2.9v2.9h-2.9zM406.6 142.8h2.9v2.9h-2.9zM358.3 158.9h2.9v2.9h-2.9zM362.9 158.9h2.9v2.9h-2.9zM351.4 161.2h7.5v2.9h-7.5zM360.6 168.1h2.9v2.9h-2.9zM399.7 168.1h2.9v2.9h-2.9zM399.7 170.4h2.9v2.9h-2.9zM356.0 172.7h2.9v2.9h-2.9zM367.5 172.7h2.9v2.9h-2.9zM402.0 172.7h2.9v2.9h-2.9zM362.9 175.0h5.2v2.9h-5.2zM353.7 177.3h5.2v2.9h-5.2zM385.9 177.3h2.9v2.9h-2.9zM390.5 177.3h5.2v2.9h-5.2zM372.1 179.6h2.9v2.9h-2.9zM383.6 179.6h2.9v2.9h-2.9zM381.3 188.8h2.9v2.9h-2.9zM379.0 191.1h2.9v2.9h-2.9z"/>
<path fill="#0015ff" d="M406.6 108.3h2.9v2.9h-2.9zM431.9 110.6h2.9v2.9h-2.9zM427.3 112.9h5.2v2.9h-5.2zM418.1 115.2h2.9v2.9h-2.9zM418.1 124.4h2.9v2.9h-2.9zM406.6 126.7h2.9v2.9h-2.9zM411.2 131.3h2.9v2.9h-2.9zM392.8 135.9h2.9v2.9h-2.9zM415.8 138.2h2.9v2.9h-2.9zM376.7 140.5h2.9v2.9h-2.9zM406.6 147.4h2.9v2.9h-2.9zM404.3 152.0h2.9v2.9h-2.9zM411.2 152.0h2.9v2.9h-2.9zM402.0 154.3h2.9v2.9h-2.9zM358.3 156.6h2.9v2.9h-2.9zM408.9 156.6h2.9v2.9h-2.9zM408.9 158.9h2.9v2.9h-2.9zM358.3 161.2h5.2v2.9h-5.2zM392.8 175.0h5.2v2.9h-5.2zM358.3 177.3h2.9v2.9h-2.9zM374.4 177.3h2.9v2.9h-2.9zM379.0 177.3h2.9v2.9h-2.9zM381.3 181.9h2.9v2.9h-2.9zM388.2 181.9h2.9v2.9h-2.9zM381.3 184.2h2.9v2.9h-2.9z"/>
<path fill="#002aff" d="M406.6 129.0h7.5v2.9h-7.5zM402.0 131.3h2.9v2.9h-2.9zM381.3 142.8h2.9v2.9h-2.9zM376.7 145.1h2.9v2.9h-2.9zM376.7 147.4h2.9v2.9h-2.9zM404.3 147.4h2.9v2.9h-2.9zM369.8 152.0h2.9v2.9h-2.9zM360.6 163.5h2.9v2.9h-2.9zM372.1 170.4h2.9v2.9h-2.9zM379.0 172.7h2.9v2.9h-2.9zM381.3 175.0h2.9v2.9h-2.9zM390.5 179.6h2.9v2.9h-2.9z"/>
<path fill="#0040ff" d="M404.3 129.0h2.9v2.9h-2.9zM390.5 138.2h2.9v2.9h-2.9zM390.5 140.5h2.9v2.9h-2.9zM379.0 142.8h2.9v2.9h-2.9zM404.3 156.6h2.9v2.9h-2.9zM399.7 165.8h2.9v2.9h-2.9zM367.5 168.1h2.9v2.9h-2.9zM397.4 170.4h2.9v2.9h-2.9z"/>
<path fill="#0055ff" d="M395.1 135.9h2.9v2.9h-2.9zM411.2 135.9h2.9v2.9h-2.9zM406.6 140.5h2.9v2.9h-2.9zM374.4 149.7h2.9v2.9h-2.9zM372.1 152.0h2.9v2.9h-2.9zM367.5 154.3h2.9v2.9h-2.9zM362.9 168.1h2.9v2.9h-2.9zM369.8 170.4h2.9v2.9h-2.9zM385.9 175.0h2.9v2.9h-2.9z"/>
<path fill="#006aff" d="M399.7 133.6h2.9v2.9h-2.9zM392.8 138.2h2.9v2.9h-2.9zM406.6 138.2h5.2v2.9h-5.2zM379.0 145.1h2.9v2.9h-2.9zM404.3 145.1h2.9v2.9h-2.9zM376.7 152.0h2.9v2.9h-2.9zM365.2 156.6h2.9v2.9h-2.9zM399.7 158.9h2.9v2.9h-2.9zM399.7 161.2h2.9v2.9h-2.9zM399.7 163.5h2.9v2.9h-2.9zM362.9 165.8h2.9v2.9h-2.9zM381.3 172.7h2.9v2.9h-2.9z"/>
<path fill="#0080ff" d="M402.0 133.6h2.9v2.9h-2.9zM408.9 135.9h2.9v2.9h-2.9zM388.2 140.5h2.9v2.9h-2.9zM383.6 142.8h2.9v2.9h-2.9zM374.4 156.6h2.9v2.9h-2.9zM369.8 161.2h2.9v2.9h-2.9zM376.7 168.1h2.9v2.9h-2.9zM392.8 172.7h2.9v2.9h-2.9zM388.2 175.0h2.9v2.9h-2.9z"/>
<path fill="#0095ff" d="M369.8 154.3h2.9v2.9h-2.9zM379.0 154.3h2.9v2.9h-2.9zM402.0 156.6h2.9v2.9h-2.9zM376.7 158.9h2.9v2.9h-2.9zM372.1 161.2h2.9v2.9h-2.9zM372.1 165.8h2.9v2.9h-2.9zM365.2 168.1h2.9v2.9h-2.9zM374.4 170.4h5.2v2.9h-5.2zM383.6 175.0h2.9v2.9h-2.9z"/>
<path fill="#00aaff" d="M376.7 149.7h2.9v2.9h-2.9zM374.4 152.0h2.9v2.9h-2.9zM367.5 156.6h2.9v2.9h-2.9zM365.2 158.9h2.9v2.9h-2.9zM369.8 158.9h2.9v2.9h-2.9zM365.2 163.5h2.9v2.9h-2.9zM369.8 163.5h2.9v2.9h-2.9zM365.2 165.8h2.9v2.9h-2.9zM376.7 165.8h2.9v2.9h-2.9zM395.1 172.7h2.9v2.9h-2.9zM390.5 175.0h2.9v2.9h-2.9z"/>
<path fill="#00bfff" d="M406.6 131.3h2.9v2.9h-2.9zM408.9 133.6h2.9v2.9h-2.9zM397.4 135.9h2.9v2.9h-2.9zM402.0 138.2h2.9v2.9h-2.9zM381.3 145.1h5.2v2.9h-5.2zM402.0 147.4h2.9v2.9h-2.9zM402.0 152.0h2.9v2.9h-2.9zM372.1 156.6h2.9v2.9h-2.9zM397.4 156.6h2.9v2.9h-2.9zM374.4 161.2h2.9v2.9h-2.9zM379.0 165.8h2.9v2.9h-2.9zM369.8 168.1h2.9v2.9h-2.9zM374.4 168.1h2.9v2.9h-2.9z"/>
<path fill="#00d4ff" d="M404.3 131.3h2.9v2.9h-2.9zM408.9 131.3h2.9v2.9h-2.9zM404.3 133.6h2.9v2.9h-2.9zM385.9 142.8h2.9v2.9h-2.9zM402.0 149.7h2.9v2.9h-2.9zM374.4 154.3h2.9v2.9h-2.9zM369.8 156.6h2.9v2.9h-2.9zM376.7 156.6h2.9v2.9h-2.9zM372.1 158.9h2.9v2.9h-2.9zM365.2 161.2h5.2v2.9h-5.2zM376.7 161.2h2.9v2.9h-2.9zM367.5 163.5h2.9v2.9h-2.9zM376.7 163.5h5.2v2.9h-5.2zM367.5 165.8h2.9v2.9h-2.9zM381.3 165.8h2.9v2.9h-2.9zM379.0 170.4h2.9v2.9h-2.9zM392.8 170.4h2.9v2.9h-2.9z"/>
<path fill="#00eaff" d="M406.6 135.9h2.9v2.9h-2.9zM395.1 138.2h5.2v2.9h-5.2zM404.3 140.5h2.9v2.9h-2.9zM383.6 147.4h2.9v2.9h-2.9zM379.0 152.0h5.2v2.9h-5.2zM374.4 158.9h2.9v2.9h-2.9zM397.4 161.2h2.9v2.9h-2.9zM397.4 163.5h2.9v2.9h-2.9zM369.8 165.8h2.9v2.9h-2.9zM372.1 168.1h2.9v2.9h-2.9zM395.1 168.1h2.9v2.9h-2.9z"/>
<path fill="#00ffff" d="M406.6 133.6h2.9v2.9h-2.9zM404.3 138.2h2.9v2.9h-2.9zM395.1 140.5h2.9v2.9h-2.9zM402.0 142.8h2.9v2.9h-2.9zM388.2 145.1h2.9v2.9h-2.9zM379.0 147.4h2.9v2.9h-2.9zM399.7 152.0h2.9v2.9h-2.9zM372.1 154.3h2.9v2.9h-2.9zM397.4 154.3h5.2v2.9h-5.2zM362.9 161.2h2.9v2.9h-2.9zM379.0 161.2h2.9v2.9h-2.9zM379.0 168.1h2.9v2.9h-2.9zM397.4 168.1h2.9v2.9h-2.9z"/>
<path fill="#15ffea" d="M399.7 135.9h5.2v2.9h-5.2zM399.7 138.2h2.9v2.9h-2.9zM392.8 140.5h2.9v2.9h-2.9zM390.5 145.1h2.9v2.9h-2.9zM381.3 158.9h2.9v2.9h-2.9zM397.4 158.9h2.9v2.9h-2.9zM372.1 163.5h2.9v2.9h-2.9zM397.4 165.8h2.9v2.9h-2.9zM385.9 172.7h2.9v2.9h-2.9z"/>
<path fill="#2bffd4" d="M404.3 135.9h2.9v2.9h-2.9zM388.2 142.8h5.2v2.9h-5.2zM379.0 156.6h2.9v2.9h-2.9zM383.6 156.6h2.9v2.9h-2.9zM367.5 158.9h2.9v2.9h-2.9zM362.9 163.5h2.9v2.9h-2.9zM390.5 168.1h2.9v2.9h-2.9zM381.3 170.4h2.9v2.9h-2.9z"/>
<path fill="#40ffbf" d="M404.3 142.8h2.9v2.9h-2.9zM381.3 147.4h2.9v2.9h-2.9zM381.3 149.7h5.2v2.9h-5.2zM383.6 154.3h2.9v2.9h-2.9zM385.9 161.2h2.9v2.9h-2.9zM383.6 170.4h2.9v2.9h-2.9z"/>
<path fill="#55ffaa" d="M390.5 147.4h2.9v2.9h-2.9zM385.9 154.3h2.9v2.9h-2.9zM392.8 156.6h2.9v2.9h-2.9zM392.8 158.9h2.9v2.9h-2.9zM383.6 163.5h2.9v2.9h-2.9zM392.8 163.5h2.9v2.9h-2.9zM374.4 165.8h2.9v2.9h-2.9zM383.6 165.8h2.9v2.9h-2.9zM385.9 168.1h2.9v2.9h-2.9z"/>
<path fill="#6aff95" d="M385.9 145.1h2.9v2.9h-2.9zM385.9 149.7h2.9v2.9h-2.9zM399.7 149.7h2.9v2.9h-2.9zM390.5 152.0h2.9v2.9h-2.9zM376.7 154.3h2.9v2.9h-2.9zM381.3 156.6h2.9v2.9h-2.9zM388.2 156.6h2.9v2.9h-2.9zM399.7 156.6h2.9v2.9h-2.9zM388.2 158.9h2.9v2.9h-2.9zM395.1 161.2h2.9v2.9h-2.9zM381.3 168.1h2.9v2.9h-2.9zM388.2 168.1h2.9v2.9h-2.9zM392.8 168.1h2.9v2.9h-2.9zM388.2 170.4h2.9v2.9h-2.9zM395.1 170.4h2.9v2.9h-2.9zM390.5 172.7h2.9v2.9h-2.9z"/>
<path fill="#80ff80" d="M402.0 145.1h2.9v2.9h-2.9zM388.2 147.4h2.9v2.9h-2.9zM379.0 149.7h2.9v2.9h-2.9zM388.2 149.7h5.2v2.9h-5.2zM381.3 154.3h2.9v2.9h-2.9zM374.4 163.5h2.9v2.9h-2.9zM390.5 165.8h2.9v2.9h-2.9zM390.5 170.4h2.9v2.9h-2.9zM383.6 172.7h2.9v2.9h-2.9zM388.2 172.7h2.9v2.9h-2.9z"/>
<path fill="#95ff6a" d="M385.9 147.4h2.9v2.9h-2.9zM395.1 147.4h2.9v2.9h-2.9zM397.4 152.0h2.9v2.9h-2.9zM379.0 158.9h2.9v2.9h-2.9zM383.6 158.9h2.9v2.9h-2.9zM381.3 163.5h2.9v2.9h-2.9zM388.2 165.8h2.9v2.9h-2.9zM383.6 168.1h2.9v2.9h-2.9z"/>
<path fill="#aaff55" d="M397.4 149.7h2.9v2.9h-2.9zM388.2 154.3h5.2v2.9h-5.2zM395.1 156.6h2.9v2.9h-2.9zM395.1 158.9h2.9v2.9h-2.9z"/>
<path fill="#bfff40" d="M392.8 147.4h2.9v2.9h-2.9zM390.5 156.6h2.9v2.9h-2.9zM385.9 158.9h2.9v2.9h-2.9zM381.3 161.2h2.9v2.9h-2.9zM390.5 161.2h2.9v2.9h-2.9z"/>
<path fill="#d5ff2a" d="M397.4 145.1h2.9v2.9h-2.9zM397.4 147.4h2.9v2.9h-2.9zM388.2 152.0h2.9v2.9h-2.9zM395.1 152.0h2.9v2.9h-2.9zM388.2 161.2h2.9v2.9h-2.9z"/>
<path fill="#eaff15" d="M395.1 149.7h2.9v2.9h-2.9zM390.5 163.5h2.9v2.9h-2.9zM385.9 165.8h2.9v2.9h-2.9z"/>
<path fill="#ffff00" d="M383.6 161.2h2.9v2.9h-2.9zM392.8 161.2h2.9v2.9h-2.9zM388.2 163.5h2.9v2.9h-2.9z"/>
<path fill="#ffea00" d="M402.0 140.5h2.9v2.9h-2.9zM385.9 156.6h2.9v2.9h-2.9zM395.1 165.8h2.9v2.9h-2.9z"/>
<path fill="#ffd500" d="M399.7 145.1h2.9v2.9h-2.9zM399.7 147.4h2.9v2.9h-2.9zM392.8 149.7h2.9v2.9h-2.9zM383.6 152.0h2.9v2.9h-2.9z"/>
<path fill="#ffbf00" d="M392.8 142.8h2.9v2.9h-2.9zM395.1 163.5h2.9v2.9h-2.9z"/>
<path fill="#ffaa00" d="M399.7 140.5h2.9v2.9h-2.9zM385.9 152.0h2.9v2.9h-2.9zM390.5 158.9h2.9v2.9h-2.9zM392.8 165.8h2.9v2.9h-2.9zM385.9 170.4h2.9v2.9h-2.9z"/>
<path fill="#ff9500" d="M397.4 140.5h2.9v2.9h-2.9zM395.1 154.3h2.9v2.9h-2.9z"/>
<path fill="#ff5500" d="M397.4 142.8h5.2v2.9h-5.2zM395.1 145.1h2.9v2.9h-2.9zM392.8 154.3h2.9v2.9h-2.9z"/>
<path fill="#ff2a00" d="M392.8 152.0h2.9v2.9h-2.9z"/>
<path fill="#ff1500" d="M395.1 142.8h2.9v2.9h-2.9zM392.8 145.1h2.9v2.9h-2.9z"/>
<path fill="#bf0000" d="M385.9 163.5h2.9v2.9h-2.9z"/>
</g></g>
<path fill="#0000c0" d="M433.9 23.6l1.4 -1.4l1.4 1.4l-1.4 1.4zM423.4 27.6l1.4 -1.4l1.4 1.4l-1.4 1.4zM435.8 37.0l1.4 -1.4l1.4 1.4l-1.4 1.4zM439.9 45.0l1.4 -1.4l1.4 1.4l-1.4 1.4zM421.8 60.8l1.4 -1.4l1.4 1.4l-1.4 1.4zM423.4 60.8l1.4 -1.4l1.4 1.4l-1.4 1.4zM437.2 67.2l1.4 -1.4l1.4 1.4l-1.4 1.4zM426.9 72.2l1.4 -1.4l1.4 1.4l-1.4 1.4zM417.4 74.8l1.4 -1.4l1.4 1.4l-1.4 1.4zM345.4 183.6l1.4 -1.4l1.4 1.4l-1.4 1.4zM429.9 152.7l1.4 -1.4l1.4 1.4l-1.4 1.4zM427.2 168.2l1.4 -1.4l1.4 1.4l-1.4 1.4zM430.6 166.0l1.4 -1.4l1.4 1.4l-1.4 1.4zM432.6 170.0l1.4 -1.4l1.4 1.4l-1.4 1.4zM428.6 171.0l1.4 -1.4l1.4 1.4l-1.4 1.4zM418.6 177.0l1.4 -1.4l1.4 1.4l-1.4 1.4z"/>
<path d="M308.00 12.00V201.50H497.50" fill="none" stroke="#262626" stroke-width="1"/>
<path d="M308.00 201.50h-2.40M308.00 163.60h-2.40M308.00 125.70h-2.40M308.00 87.80h-2.40M308.00 49.90h-2.40M308.00 12.00h-2.40M308.00 201.50v2.40M345.90 201.50v2.40M383.80 201.50v2.40M421.70 201.50v2.40M459.60 201.50v2.40M497.50 201.50v2.40" fill="none" stroke="#262626" stroke-width="1"/>
<text x="303.40" y="205.20" font-size="10.9" text-anchor="end">0</text>
<text x="303.40" y="167.30" font-size="10.9" text-anchor="end">15</text>
<text x="303.40" y="129.40" font-size="10.9" text-anchor="end">30</text>
<text x="303.40" y="91.50" font-size="10.9" text-anchor="end">45</text>
<text x="303.40" y="53.60" font-size="10.9" text-anchor="end">60</text>
<text x="303.40" y="15.70" font-size="10.9" text-anchor="end">75</text>
<text x="308.50" y="216.20" font-size="10.9" text-anchor="middle">−35</text>
<text x="346.40" y="216.20" font-size="10.9" text-anchor="middle">−30</text>
<text x="384.30" y="216.20" font-size="10.9" text-anchor="middle">−25</text>
<text x="422.20" y="216.20" font-size="10.9" text-anchor="middle">−20</text>
<text x="460.10" y="216.20" font-size="10.9" text-anchor="middle">−15</text>
<text x="498.00" y="216.20" font-size="10.9" text-anchor="middle">−10</text>
<text transform="translate(286.80 108.35) rotate(-90)" font-size="11.6" text-anchor="middle"><tspan font-style="italic">U</tspan><tspan font-size="7.6">10</tspan> [m/s]</text>
<text x="377.90" y="233.80" font-size="12" font-style="italic">σ</text>
<text x="384.70" y="239.20" font-size="8.6">0</text>
<text x="386.40" y="226.90" font-size="9.2">VH</text>
<text x="402.40" y="233.80" font-size="12">[dB]</text>
<text x="409.00" y="253.50" font-size="10.4" font-weight="bold" text-anchor="middle">(b)</text>
<rect x="508.00" y="12.00" width="5.80" height="189.50" fill="url(#jet)"/>
<text x="516.60" y="205.10" font-size="10.9">0</text>
<text x="516.60" y="181.41" font-size="10.9">5</text>
<text x="516.60" y="157.72" font-size="10.9">10</text>
<text x="516.60" y="134.04" font-size="10.9">15</text>
<text x="516.60" y="110.35" font-size="10.9">20</text>
<text x="516.60" y="86.66" font-size="10.9">25</text>
<text x="516.60" y="62.98" font-size="10.9">30</text>
<text x="516.60" y="39.29" font-size="10.9">35</text>
<text x="516.60" y="15.60" font-size="10.9">40</text>
<text transform="translate(538.40 98.45) rotate(-90)" font-size="10.9" text-anchor="middle">Number of samples</text>
</g>
<g id="plot-c">
<clipPath id="clip-c"><path d="M304.4 274.4L304.4 274.9L303.9 274.9ZM305.0 274.9L304.4 274.9L304.4 274.4ZM303.9 274.9L304.4 274.9L304.4 275.5ZM304.4 274.9L305.0 274.9L304.4 275.5ZM309.0 285.9L309.0 286.4L308.5 286.4ZM309.6 286.4L309.0 286.4L309.0 285.9ZM308.5 286.4L309.0 286.4L309.0 287.0ZM309.0 286.4L309.6 286.4L309.0 287.0ZM306.8 295.1L306.8 295.6L306.2 295.6ZM307.3 295.6L306.8 295.6L306.8 295.1ZM306.2 295.6L306.8 295.6L306.8 296.2ZM306.8 295.6L307.3 295.6L306.8 296.2ZM302.1 308.9L302.1 309.4L301.6 309.4ZM304.4 308.9L304.4 309.4L302.1 309.4L302.1 308.9ZM305.0 309.4L304.4 309.4L304.4 308.9ZM301.6 309.4L302.1 309.4L302.1 310.0ZM302.1 309.4L304.4 309.4L304.4 311.8L303.9 311.8L302.1 310.0ZM304.4 309.4L305.0 309.4L305.0 311.8L304.4 311.8ZM292.9 313.5L292.9 314.0L292.4 314.0ZM293.5 314.0L292.9 314.0L292.9 313.5ZM303.9 311.8L304.4 311.8L304.4 312.3ZM304.4 311.8L305.0 311.8L304.4 312.3ZM290.6 315.8L290.6 316.3L290.1 316.3ZM292.9 314.0L292.9 314.6L292.4 314.0ZM290.6 316.3L290.6 315.8L291.2 316.3ZM292.9 314.0L293.5 314.0L292.9 314.6ZM290.1 316.3L290.6 316.3L290.6 316.9ZM290.6 316.3L291.2 316.3L290.6 316.9ZM309.0 320.4L309.0 320.9L308.5 320.9ZM309.6 320.9L309.0 320.9L309.0 320.4ZM283.8 322.7L283.8 323.2L283.2 323.2ZM284.3 323.2L283.8 323.2L283.8 322.7ZM308.5 320.9L309.0 320.9L309.0 323.2L308.5 323.2ZM309.0 320.9L309.6 320.9L309.6 323.2L309.0 323.2ZM283.2 323.2L283.8 323.2L283.8 323.8ZM283.8 323.2L284.3 323.2L283.8 323.8ZM292.9 325.0L292.9 325.5L292.4 325.5ZM293.5 325.5L292.9 325.5L292.9 325.0ZM304.4 325.0L304.4 325.5L303.9 325.5ZM306.8 325.0L306.8 325.5L304.4 325.5L304.4 325.0ZM309.0 323.2L309.0 323.8L308.5 323.2ZM306.8 325.5L306.8 325.0L307.3 325.5ZM309.0 323.2L309.6 323.2L309.0 323.8ZM292.4 325.5L292.9 325.5L292.9 326.1ZM292.9 325.5L293.5 325.5L292.9 326.1ZM295.2 327.8L294.7 327.8L295.2 327.3ZM295.8 327.8L295.2 327.8L295.2 327.3ZM302.1 327.3L302.1 327.8L301.6 327.8ZM303.9 325.5L304.4 325.5L304.4 327.8L302.1 327.8L302.1 327.3ZM304.4 325.5L306.8 325.5L306.8 326.1L305.0 327.8L304.4 327.8ZM306.8 325.5L307.3 325.5L306.8 326.1ZM309.0 327.8L308.5 327.8L309.0 327.3ZM309.6 327.8L309.0 327.8L309.0 327.3ZM294.7 327.8L295.2 327.8L295.2 328.4ZM295.2 327.8L295.8 327.8L295.2 328.4ZM297.6 330.1L297.0 330.1L297.6 329.6ZM299.9 329.6L299.9 330.1L297.6 330.1L297.6 329.6ZM302.1 327.8L302.1 328.4L301.6 327.8ZM299.9 330.1L299.9 329.6L300.4 330.1ZM302.1 327.8L304.4 327.8L304.4 330.1L303.9 330.1L302.1 328.4ZM304.4 327.8L305.0 327.8L306.8 329.6L306.8 330.1L304.4 330.1ZM308.5 327.8L309.0 327.8L309.0 330.1L306.8 330.1L306.8 329.6ZM309.0 327.8L309.6 327.8L309.6 330.1L309.0 330.1ZM292.9 331.9L292.9 332.4L292.4 332.4ZM295.2 331.9L295.2 332.4L292.9 332.4L292.9 331.9ZM297.0 330.1L297.6 330.1L297.6 332.4L295.2 332.4L295.2 331.9ZM299.9 330.1L300.4 330.1L302.1 331.9L302.1 332.4L299.9 332.4ZM304.4 330.1L304.4 330.7L303.9 330.1ZM302.1 332.4L302.1 331.9L302.7 332.4ZM304.4 330.1L306.8 330.1L306.8 330.7L304.4 330.7ZM306.8 330.1L309.0 330.1L309.0 330.7L306.8 330.7ZM309.0 330.1L309.6 330.1L309.0 330.7ZM292.4 332.4L292.9 332.4L292.9 334.8L292.4 334.8ZM295.2 332.4L297.6 332.4L297.6 333.0L295.8 334.8L295.2 334.8ZM297.6 332.4L299.9 332.4L299.9 333.0L297.6 333.0ZM299.9 332.4L302.1 332.4L302.1 334.8L301.6 334.8L299.9 333.0ZM302.1 332.4L302.7 332.4L304.4 334.2L304.4 334.8L302.1 334.8ZM305.0 334.8L304.4 334.8L304.4 334.2ZM290.6 336.5L290.6 337.0L290.1 337.0ZM292.4 334.8L292.9 334.8L292.9 337.0L290.6 337.0L290.6 336.5ZM292.9 334.8L295.2 334.8L295.2 335.3L293.5 337.0L292.9 337.0ZM295.2 334.8L295.8 334.8L295.2 335.3ZM301.6 334.8L302.1 334.8L302.1 335.3ZM302.1 334.8L304.4 334.8L304.4 337.0L303.9 337.0L302.1 335.3ZM304.4 334.8L305.0 334.8L306.8 336.5L306.8 337.0L304.4 337.0ZM309.0 336.5L309.0 337.0L306.8 337.0L306.8 336.5ZM309.6 337.0L309.0 337.0L309.0 336.5ZM288.4 338.8L288.4 339.3L287.8 339.3ZM290.1 337.0L290.6 337.0L290.6 339.3L288.4 339.3L288.4 338.8ZM290.6 337.0L292.9 337.0L292.9 337.6L291.2 339.3L290.6 339.3ZM292.9 337.0L293.5 337.0L292.9 337.6ZM297.6 338.8L297.6 339.3L297.0 339.3ZM298.1 339.3L297.6 339.3L297.6 338.8ZM303.9 337.0L304.4 337.0L304.4 339.3L303.9 339.3ZM309.0 337.0L309.6 337.0L309.6 339.3L309.0 339.3ZM287.8 339.3L288.4 339.3L288.4 341.6L287.8 341.6ZM290.6 339.3L291.2 339.3L291.2 341.6L290.6 341.6ZM295.2 341.1L295.2 341.6L294.7 341.6ZM297.0 339.3L297.6 339.3L297.6 341.6L295.2 341.6L295.2 341.1ZM297.6 339.3L298.1 339.3L299.9 341.1L299.9 341.6L297.6 341.6ZM302.1 341.1L302.1 341.6L299.9 341.6L299.9 341.1ZM303.9 339.3L304.4 339.3L304.4 341.6L302.1 341.6L302.1 341.1ZM309.0 339.3L309.6 339.3L309.6 341.6L309.0 341.6ZM287.8 341.6L288.4 341.6L288.4 343.9L287.8 343.9ZM290.6 341.6L291.2 341.6L292.9 343.4L292.9 343.9L290.6 343.9ZM294.7 341.6L295.2 341.6L295.2 343.9L292.9 343.9L292.9 343.4ZM302.1 341.6L304.4 341.6L304.4 342.2L302.7 343.9L302.1 343.9ZM304.4 341.6L306.8 341.6L306.8 343.9L306.2 343.9L304.4 342.2ZM306.8 341.6L309.0 341.6L309.0 342.2L307.3 343.9L306.8 343.9ZM309.0 341.6L309.6 341.6L309.0 342.2ZM287.8 343.9L288.4 343.9L288.4 346.2L287.8 346.2ZM292.9 343.9L295.2 343.9L295.2 344.5L293.5 346.2L292.9 346.2ZM295.2 343.9L297.6 343.9L297.6 346.2L297.0 346.2L295.2 344.5ZM302.1 343.9L302.7 343.9L304.4 345.7L304.4 346.2L302.1 346.2ZM306.2 343.9L306.8 343.9L306.8 346.2L304.4 346.2L304.4 345.7ZM306.8 343.9L307.3 343.9L307.3 346.2L306.8 346.2ZM287.8 346.2L288.4 346.2L288.4 348.5L287.8 348.5ZM292.9 346.2L293.5 346.2L295.2 348.0L295.2 348.5L292.9 348.5ZM297.6 346.2L297.6 346.8L297.0 346.2ZM295.2 348.5L295.2 348.0L295.8 348.5ZM297.6 346.2L299.9 346.2L299.9 348.5L299.3 348.5L297.6 346.8ZM306.8 346.2L307.3 346.2L309.0 348.0L309.0 348.5L306.8 348.5ZM309.6 348.5L309.0 348.5L309.0 348.0ZM287.8 348.5L288.4 348.5L288.4 350.8L287.8 350.8ZM290.6 348.5L292.9 348.5L292.9 349.1L291.2 350.8L290.6 350.8ZM292.9 348.5L295.2 348.5L295.2 350.8L294.7 350.8L292.9 349.1ZM295.2 348.5L295.8 348.5L297.6 350.3L297.6 350.8L295.2 350.8ZM299.3 348.5L299.9 348.5L299.9 350.8L297.6 350.8L297.6 350.3ZM309.0 348.5L309.6 348.5L309.6 350.8L309.0 350.8ZM287.8 350.8L288.4 350.8L288.4 353.1L287.8 353.1ZM290.6 350.8L291.2 350.8L291.2 353.1L290.6 353.1ZM294.7 350.8L295.2 350.8L295.2 351.4ZM295.2 350.8L297.6 350.8L297.6 351.4L295.2 351.4ZM297.6 350.8L299.9 350.8L299.9 353.1L299.3 353.1L297.6 351.4ZM309.0 350.8L309.6 350.8L309.6 353.1L309.0 353.1ZM286.1 354.9L286.1 355.4L285.5 355.4ZM288.4 353.1L288.4 353.7L287.8 353.1ZM286.1 355.4L286.1 354.9L286.6 355.4ZM288.4 353.1L290.6 353.1L290.6 355.4L290.1 355.4L288.4 353.7ZM290.6 353.1L291.2 353.1L292.9 354.9L292.9 355.4L290.6 355.4ZM293.5 355.4L292.9 355.4L292.9 354.9ZM297.6 354.9L297.6 355.4L297.0 355.4ZM299.3 353.1L299.9 353.1L299.9 355.4L297.6 355.4L297.6 354.9ZM299.9 353.1L302.1 353.1L302.1 353.7L300.4 355.4L299.9 355.4ZM302.1 353.1L304.4 353.1L304.4 355.4L303.9 355.4L302.1 353.7ZM304.4 353.1L306.8 353.1L306.8 353.7L305.0 355.4L304.4 355.4ZM306.8 353.1L309.0 353.1L309.0 355.4L308.5 355.4L306.8 353.7ZM309.0 353.1L309.6 353.1L309.6 355.4L309.0 355.4ZM283.8 357.2L283.8 357.8L283.2 357.8ZM285.5 355.4L286.1 355.4L286.1 357.8L283.8 357.8L283.8 357.2ZM286.1 355.4L286.6 355.4L288.4 357.2L288.4 357.8L286.1 357.8ZM290.1 355.4L290.6 355.4L290.6 357.8L288.4 357.8L288.4 357.2ZM292.9 355.4L293.5 355.4L295.2 357.2L295.2 357.8L292.9 357.8ZM297.0 355.4L297.6 355.4L297.6 357.8L295.2 357.8L295.2 357.2ZM299.9 355.4L300.4 355.4L302.1 357.2L302.1 357.8L299.9 357.8ZM303.9 355.4L304.4 355.4L304.4 357.8L302.1 357.8L302.1 357.2ZM304.4 355.4L305.0 355.4L306.8 357.2L306.8 357.8L304.4 357.8ZM308.5 355.4L309.0 355.4L309.0 357.8L306.8 357.8L306.8 357.2ZM309.0 355.4L309.6 355.4L309.6 357.8L309.0 357.8ZM281.4 359.5L281.4 360.0L280.9 360.0ZM283.2 357.8L283.8 357.8L283.8 360.0L281.4 360.0L281.4 359.5ZM292.9 357.8L295.2 357.8L295.2 358.3L293.5 360.0L292.9 360.0ZM295.2 357.8L297.6 357.8L297.6 360.0L297.0 360.0L295.2 358.3ZM297.6 357.8L299.9 357.8L299.9 358.3L298.1 360.0L297.6 360.0ZM299.9 357.8L302.1 357.8L302.1 360.0L301.6 360.0L299.9 358.3ZM309.0 357.8L309.6 357.8L309.6 360.0L309.0 360.0ZM280.9 360.0L281.4 360.0L281.4 362.3L280.9 362.3ZM283.8 360.0L286.1 360.0L286.1 360.6L284.3 362.3L283.8 362.3ZM286.1 360.0L288.4 360.0L288.4 360.6L286.1 360.6ZM288.4 360.0L290.6 360.0L290.6 362.3L290.1 362.3L288.4 360.6ZM292.9 360.0L293.5 360.0L295.2 361.8L295.2 362.3L292.9 362.3ZM297.0 360.0L297.6 360.0L297.6 362.3L295.2 362.3L295.2 361.8ZM297.6 360.0L298.1 360.0L299.9 361.8L299.9 362.3L297.6 362.3ZM301.6 360.0L302.1 360.0L302.1 362.3L299.9 362.3L299.9 361.8ZM309.0 360.0L309.6 360.0L309.6 362.3L309.0 362.3ZM280.9 362.3L281.4 362.3L281.4 362.9ZM281.4 362.3L283.8 362.3L283.8 364.6L283.2 364.6L281.4 362.9ZM283.8 362.3L284.3 362.3L286.1 364.1L286.1 364.6L283.8 364.6ZM288.4 364.1L288.4 364.6L286.1 364.6L286.1 364.1ZM290.1 362.3L290.6 362.3L290.6 364.6L288.4 364.6L288.4 364.1ZM295.2 362.3L297.6 362.3L297.6 362.9L295.8 364.6L295.2 364.6ZM297.6 362.3L299.9 362.3L299.9 364.6L299.3 364.6L297.6 362.9ZM309.0 362.3L309.6 362.3L309.6 364.6L309.0 364.6ZM283.2 364.6L283.8 364.6L283.8 366.9L283.2 366.9ZM292.9 364.6L295.2 364.6L295.2 365.2L293.5 366.9L292.9 366.9ZM295.2 364.6L295.8 364.6L295.2 365.2ZM297.6 366.9L297.0 366.9L297.6 366.4ZM299.3 364.6L299.9 364.6L299.9 366.9L297.6 366.9L297.6 366.4ZM309.0 364.6L309.6 364.6L309.6 366.9L309.0 366.9ZM279.1 368.7L279.1 369.2L278.6 369.2ZM281.4 368.7L281.4 369.2L279.1 369.2L279.1 368.7ZM283.2 366.9L283.8 366.9L283.8 369.2L281.4 369.2L281.4 368.7ZM292.9 366.9L293.5 366.9L295.2 368.7L295.2 369.2L292.9 369.2ZM297.0 366.9L297.6 366.9L297.6 369.2L295.2 369.2L295.2 368.7ZM297.6 366.9L299.9 366.9L299.9 367.5L298.1 369.2L297.6 369.2ZM299.9 366.9L302.1 366.9L302.1 369.2L301.6 369.2L299.9 367.5ZM309.0 366.9L309.6 366.9L309.6 369.2L309.0 369.2ZM276.9 371.0L276.9 371.5L276.3 371.5ZM278.6 369.2L279.1 369.2L279.1 371.5L276.9 371.5L276.9 371.0ZM297.6 369.2L298.1 369.2L299.9 371.0L299.9 371.5L297.6 371.5ZM301.6 369.2L302.1 369.2L302.1 371.5L299.9 371.5L299.9 371.0ZM309.0 369.2L309.6 369.2L309.6 371.5L309.0 371.5ZM274.6 373.3L274.6 373.8L274.0 373.8ZM276.3 371.5L276.9 371.5L276.9 373.8L274.6 373.8L274.6 373.3ZM276.9 371.5L279.1 371.5L279.1 372.1L277.4 373.8L276.9 373.8ZM279.1 371.5L281.4 371.5L281.4 373.8L280.9 373.8L279.1 372.1ZM309.0 371.5L309.6 371.5L309.6 373.8L309.0 373.8ZM272.2 375.6L272.2 376.1L271.7 376.1ZM274.0 373.8L274.6 373.8L274.6 376.1L272.2 376.1L272.2 375.6ZM274.6 373.8L276.9 373.8L276.9 374.4L275.1 376.1L274.6 376.1ZM276.9 373.8L277.4 373.8L276.9 374.4ZM280.9 373.8L281.4 373.8L281.4 376.1L280.9 376.1ZM309.0 373.8L309.6 373.8L309.6 376.1L309.0 376.1ZM249.2 377.9L249.2 378.4L248.7 378.4ZM249.8 378.4L249.2 378.4L249.2 377.9ZM265.4 377.9L265.4 378.4L264.8 378.4ZM267.6 377.9L267.6 378.4L265.4 378.4L265.4 377.9ZM269.9 377.9L269.9 378.4L267.6 378.4L267.6 377.9ZM271.7 376.1L272.2 376.1L272.2 378.4L269.9 378.4L269.9 377.9ZM272.2 376.1L274.6 376.1L274.6 376.7L272.8 378.4L272.2 378.4ZM274.6 376.1L275.1 376.1L274.6 376.7ZM276.9 378.4L276.3 378.4L276.9 377.9ZM279.1 377.9L279.1 378.4L276.9 378.4L276.9 377.9ZM280.9 376.1L281.4 376.1L281.4 378.4L279.1 378.4L279.1 377.9ZM295.2 376.1L297.6 376.1L297.6 376.7L295.8 378.4L295.2 378.4ZM297.6 376.1L299.9 376.1L299.9 378.4L299.3 378.4L297.6 376.7ZM309.0 376.1L309.6 376.1L311.4 377.9L311.4 378.4L309.0 378.4ZM311.9 378.4L311.4 378.4L311.4 377.9ZM248.7 378.4L249.2 378.4L249.2 379.0ZM249.2 378.4L249.8 378.4L249.2 379.0ZM264.8 378.4L265.4 378.4L265.4 379.0ZM265.4 378.4L267.6 378.4L267.6 380.8L267.1 380.8L265.4 379.0ZM272.2 378.4L272.8 378.4L272.8 380.8L272.2 380.8ZM276.3 378.4L276.9 378.4L276.9 379.0ZM276.9 378.4L279.1 378.4L279.1 380.8L278.6 380.8L276.9 379.0ZM295.2 378.4L295.8 378.4L297.6 380.2L297.6 380.8L295.2 380.8ZM299.3 378.4L299.9 378.4L299.9 380.8L297.6 380.8L297.6 380.2ZM304.4 378.4L306.8 378.4L306.8 379.0L305.0 380.8L304.4 380.8ZM306.8 378.4L309.0 378.4L309.0 379.0L306.8 379.0ZM309.0 378.4L311.4 378.4L311.4 380.8L310.8 380.8L309.0 379.0ZM311.4 378.4L311.9 378.4L311.9 380.8L311.4 380.8ZM267.1 380.8L267.6 380.8L267.6 383.0L267.1 383.0ZM272.2 380.8L272.8 380.8L272.8 383.0L272.2 383.0ZM276.9 382.5L276.9 383.0L276.3 383.0ZM278.6 380.8L279.1 380.8L279.1 383.0L276.9 383.0L276.9 382.5ZM304.4 380.8L305.0 380.8L306.8 382.5L306.8 383.0L304.4 383.0ZM307.3 383.0L306.8 383.0L306.8 382.5ZM310.8 380.8L311.4 380.8L311.4 383.0L310.8 383.0ZM311.4 380.8L311.9 380.8L311.9 383.0L311.4 383.0ZM267.1 383.0L267.6 383.0L267.6 385.3L267.1 385.3ZM272.2 383.0L272.8 383.0L274.6 384.8L274.6 385.3L272.2 385.3ZM276.3 383.0L276.9 383.0L276.9 385.3L274.6 385.3L274.6 384.8ZM295.2 383.0L297.6 383.0L297.6 383.6L295.8 385.3L295.2 385.3ZM297.6 383.0L299.9 383.0L299.9 385.3L299.3 385.3L297.6 383.6ZM306.8 383.0L307.3 383.0L307.3 385.3L306.8 385.3ZM310.8 383.0L311.4 383.0L311.4 383.6ZM311.4 383.0L311.9 383.0L311.4 383.6ZM260.8 387.1L260.8 387.6L260.2 387.6ZM263.1 387.1L263.1 387.6L260.8 387.6L260.8 387.1ZM263.6 387.6L263.1 387.6L263.1 387.1ZM267.1 385.3L267.6 385.3L267.6 387.6L267.1 387.6ZM267.6 385.3L269.9 385.3L269.9 385.9L268.2 387.6L267.6 387.6ZM269.9 385.3L272.2 385.3L272.2 387.6L271.7 387.6L269.9 385.9ZM295.2 385.3L295.8 385.3L297.6 387.1L297.6 387.6L295.2 387.6ZM299.3 385.3L299.9 385.3L299.9 387.6L297.6 387.6L297.6 387.1ZM306.8 385.3L307.3 385.3L307.3 387.6L306.8 387.6ZM258.4 389.4L258.4 389.9L257.9 389.9ZM260.2 387.6L260.8 387.6L260.8 389.9L258.4 389.9L258.4 389.4ZM263.1 387.6L263.6 387.6L265.4 389.4L265.4 389.9L263.1 389.9ZM267.1 387.6L267.6 387.6L267.6 389.9L265.4 389.9L265.4 389.4ZM267.6 387.6L268.2 387.6L269.9 389.4L269.9 389.9L267.6 389.9ZM271.7 387.6L272.2 387.6L272.2 389.9L269.9 389.9L269.9 389.4ZM306.8 387.6L307.3 387.6L307.3 389.9L306.8 389.9ZM256.1 391.7L256.1 392.2L255.6 392.2ZM257.9 389.9L258.4 389.9L258.4 392.2L256.1 392.2L256.1 391.7ZM306.8 389.9L307.3 389.9L309.0 391.7L309.0 392.2L306.8 392.2ZM311.4 391.7L311.4 392.2L309.0 392.2L309.0 391.7ZM311.9 392.2L311.4 392.2L311.4 391.7ZM253.8 394.0L253.8 394.5L253.3 394.5ZM255.6 392.2L256.1 392.2L256.1 394.5L253.8 394.5L253.8 394.0ZM311.4 392.2L311.9 392.2L311.9 394.5L311.4 394.5ZM251.6 396.3L251.6 396.8L251.0 396.8ZM253.3 394.5L253.8 394.5L253.8 396.8L251.6 396.8L251.6 396.3ZM253.8 394.5L256.1 394.5L256.1 395.1L254.4 396.8L253.8 396.8ZM256.1 394.5L258.4 394.5L258.4 395.1L256.1 395.1ZM258.4 394.5L260.8 394.5L260.8 396.8L260.2 396.8L258.4 395.1ZM311.4 394.5L311.9 394.5L311.9 396.8L311.4 396.8ZM233.2 398.6L233.2 399.1L232.6 399.1ZM235.4 398.6L235.4 399.1L233.2 399.1L233.2 398.6ZM236.0 399.1L235.4 399.1L235.4 398.6ZM244.7 398.6L244.7 399.1L244.1 399.1ZM246.9 398.6L246.9 399.1L244.7 399.1L244.7 398.6ZM249.2 398.6L249.2 399.1L246.9 399.1L246.9 398.6ZM251.0 396.8L251.6 396.8L251.6 399.1L249.2 399.1L249.2 398.6ZM253.8 396.8L254.4 396.8L254.4 399.1L253.8 399.1ZM260.2 396.8L260.8 396.8L260.8 399.1L260.2 399.1ZM302.1 396.8L304.4 396.8L304.4 397.4L302.7 399.1L302.1 399.1ZM304.4 396.8L306.8 396.8L306.8 399.1L306.2 399.1L304.4 397.4ZM311.4 396.8L311.9 396.8L313.6 398.6L313.6 399.1L311.4 399.1ZM314.2 399.1L313.6 399.1L313.6 398.6ZM230.8 400.9L230.8 401.4L230.3 401.4ZM232.6 399.1L233.2 399.1L233.2 401.4L230.8 401.4L230.8 400.9ZM235.4 399.1L236.0 399.1L237.8 400.9L237.8 401.4L235.4 401.4ZM240.1 400.9L240.1 401.4L237.8 401.4L237.8 400.9ZM242.3 400.9L242.3 401.4L240.1 401.4L240.1 400.9ZM244.1 399.1L244.7 399.1L244.7 401.4L242.3 401.4L242.3 400.9ZM253.8 399.1L254.4 399.1L254.4 401.4L253.8 401.4ZM258.4 400.9L258.4 401.4L257.9 401.4ZM260.2 399.1L260.8 399.1L260.8 401.4L258.4 401.4L258.4 400.9ZM302.1 399.1L302.7 399.1L304.4 400.9L304.4 401.4L302.1 401.4ZM306.2 399.1L306.8 399.1L306.8 401.4L304.4 401.4L304.4 400.9ZM313.6 399.1L314.2 399.1L315.9 400.9L315.9 401.4L313.6 401.4ZM316.5 401.4L315.9 401.4L315.9 400.9ZM228.6 403.2L228.6 403.8L228.0 403.8ZM230.3 401.4L230.8 401.4L230.8 403.8L228.6 403.8L228.6 403.2ZM237.8 401.4L240.1 401.4L240.1 402.0L238.3 403.8L237.8 403.8ZM240.1 401.4L242.3 401.4L242.3 402.0L240.1 402.0ZM242.3 401.4L244.7 401.4L244.7 403.8L244.1 403.8L242.3 402.0ZM253.8 401.4L254.4 401.4L256.1 403.2L256.1 403.8L253.8 403.8ZM257.9 401.4L258.4 401.4L258.4 403.8L256.1 403.8L256.1 403.2ZM315.9 401.4L316.5 401.4L316.5 403.8L315.9 403.8ZM228.0 403.8L228.6 403.8L228.6 406.0L228.0 406.0ZM235.4 403.8L237.8 403.8L237.8 404.3L236.0 406.0L235.4 406.0ZM237.8 403.8L238.3 403.8L237.8 404.3ZM240.1 406.0L239.5 406.0L240.1 405.5ZM242.3 405.5L242.3 406.0L240.1 406.0L240.1 405.5ZM244.1 403.8L244.7 403.8L244.7 406.0L242.3 406.0L242.3 405.5ZM309.0 403.8L311.4 403.8L311.4 404.3L309.6 406.0L309.0 406.0ZM311.4 403.8L313.6 403.8L313.6 406.0L313.1 406.0L311.4 404.3ZM315.9 403.8L316.5 403.8L316.5 406.0L315.9 406.0ZM226.2 407.8L226.2 408.3L225.7 408.3ZM228.0 406.0L228.6 406.0L228.6 408.3L226.2 408.3L226.2 407.8ZM235.4 406.0L236.0 406.0L237.8 407.8L237.8 408.3L235.4 408.3ZM239.5 406.0L240.1 406.0L240.1 408.3L237.8 408.3L237.8 407.8ZM244.7 406.0L246.9 406.0L246.9 406.6L245.2 408.3L244.7 408.3ZM246.9 406.0L249.2 406.0L249.2 408.3L248.7 408.3L246.9 406.6ZM309.0 406.0L309.6 406.0L311.4 407.8L311.4 408.3L309.0 408.3ZM313.1 406.0L313.6 406.0L313.6 408.3L311.4 408.3L311.4 407.8ZM315.9 406.0L316.5 406.0L316.5 408.3L315.9 408.3ZM225.7 408.3L226.2 408.3L226.2 410.6L225.7 410.6ZM244.7 408.3L245.2 408.3L246.9 410.1L246.9 410.6L244.7 410.6ZM248.7 408.3L249.2 408.3L249.2 410.6L246.9 410.6L246.9 410.1ZM315.9 408.3L316.5 408.3L316.5 410.6L315.9 410.6ZM217.1 412.4L217.1 412.9L216.5 412.9ZM219.3 412.4L219.3 412.9L217.1 412.9L217.1 412.4ZM219.9 412.9L219.3 412.9L219.3 412.4ZM225.7 410.6L226.2 410.6L226.2 411.2ZM226.2 410.6L228.6 410.6L228.6 412.9L228.0 412.9L226.2 411.2ZM230.8 410.6L233.2 410.6L233.2 411.2L231.4 412.9L230.8 412.9ZM233.2 410.6L235.4 410.6L235.4 412.9L234.9 412.9L233.2 411.2ZM306.8 410.6L309.0 410.6L309.0 411.2L307.3 412.9L306.8 412.9ZM309.0 410.6L311.4 410.6L311.4 412.9L310.8 412.9L309.0 411.2ZM315.9 410.6L316.5 410.6L316.5 412.9L315.9 412.9ZM212.4 414.7L212.4 415.2L211.9 415.2ZM214.8 414.7L214.8 415.2L212.4 415.2L212.4 414.7ZM216.5 412.9L217.1 412.9L217.1 415.2L214.8 415.2L214.8 414.7ZM219.3 412.9L219.9 412.9L221.7 414.7L221.7 415.2L219.3 415.2ZM223.9 414.7L223.9 415.2L221.7 415.2L221.7 414.7ZM226.2 414.7L226.2 415.2L223.9 415.2L223.9 414.7ZM228.0 412.9L228.6 412.9L228.6 415.2L226.2 415.2L226.2 414.7ZM228.6 412.9L230.8 412.9L230.8 413.5L229.1 415.2L228.6 415.2ZM230.8 412.9L231.4 412.9L230.8 413.5ZM233.2 415.2L232.6 415.2L233.2 414.7ZM234.9 412.9L235.4 412.9L235.4 415.2L233.2 415.2L233.2 414.7ZM306.8 412.9L307.3 412.9L309.0 414.7L309.0 415.2L306.8 415.2ZM310.8 412.9L311.4 412.9L311.4 415.2L309.0 415.2L309.0 414.7ZM315.9 412.9L316.5 412.9L316.5 415.2L315.9 415.2ZM325.1 414.7L325.1 415.2L324.6 415.2ZM325.7 415.2L325.1 415.2L325.1 414.7ZM211.9 415.2L212.4 415.2L212.4 415.8ZM212.4 415.2L214.8 415.2L214.8 417.5L214.2 417.5L212.4 415.8ZM217.1 415.2L219.3 415.2L219.3 415.8L217.6 417.5L217.1 417.5ZM219.3 415.2L221.7 415.2L221.7 417.5L221.1 417.5L219.3 415.8ZM228.6 415.2L229.1 415.2L230.8 417.0L230.8 417.5L228.6 417.5ZM232.6 415.2L233.2 415.2L233.2 417.5L230.8 417.5L230.8 417.0ZM313.6 415.2L315.9 415.2L315.9 415.8L314.2 417.5L313.6 417.5ZM315.9 415.2L316.5 415.2L315.9 415.8ZM318.2 417.5L317.7 417.5L318.2 417.0ZM318.8 417.5L318.2 417.5L318.2 417.0ZM322.9 417.0L322.9 417.5L322.3 417.5ZM324.6 415.2L325.1 415.2L325.1 417.5L322.9 417.5L322.9 417.0ZM325.1 415.2L325.7 415.2L325.7 417.5L325.1 417.5ZM207.8 419.3L207.8 419.8L207.3 419.8ZM210.2 419.3L210.2 419.8L207.8 419.8L207.8 419.3ZM212.4 419.3L212.4 419.8L210.2 419.8L210.2 419.3ZM214.2 417.5L214.8 417.5L214.8 419.8L212.4 419.8L212.4 419.3ZM217.1 417.5L217.6 417.5L219.3 419.3L219.3 419.8L217.1 419.8ZM221.7 417.5L221.7 418.1L221.1 417.5ZM219.3 419.8L219.3 419.3L219.9 419.8ZM221.7 417.5L223.9 417.5L223.9 419.8L223.4 419.8L221.7 418.1ZM233.2 417.5L235.4 417.5L235.4 418.1L233.7 419.8L233.2 419.8ZM235.4 417.5L237.8 417.5L237.8 419.8L237.2 419.8L235.4 418.1ZM237.8 417.5L240.1 417.5L240.1 418.1L238.3 419.8L237.8 419.8ZM240.1 417.5L242.3 417.5L242.3 419.8L241.8 419.8L240.1 418.1ZM288.4 417.5L290.6 417.5L290.6 418.1L288.9 419.8L288.4 419.8ZM290.6 417.5L292.9 417.5L292.9 419.8L292.4 419.8L290.6 418.1ZM313.6 417.5L314.2 417.5L315.9 419.3L315.9 419.8L313.6 419.8ZM317.7 417.5L318.2 417.5L318.2 419.8L315.9 419.8L315.9 419.3ZM318.2 417.5L318.8 417.5L320.5 419.3L320.5 419.8L318.2 419.8ZM322.3 417.5L322.9 417.5L322.9 419.8L320.5 419.8L320.5 419.3ZM322.9 417.5L325.1 417.5L325.1 418.1L323.4 419.8L322.9 419.8ZM325.1 417.5L325.7 417.5L325.1 418.1ZM207.3 419.8L207.8 419.8L207.8 422.1L207.3 422.1ZM217.1 419.8L219.3 419.8L219.3 420.4L217.6 422.1L217.1 422.1ZM219.3 419.8L219.9 419.8L219.3 420.4ZM223.4 419.8L223.9 419.8L223.9 422.1L223.4 422.1ZM233.2 419.8L233.7 419.8L235.4 421.6L235.4 422.1L233.2 422.1ZM237.2 419.8L237.8 419.8L237.8 422.1L235.4 422.1L235.4 421.6ZM237.8 419.8L238.3 419.8L240.1 421.6L240.1 422.1L237.8 422.1ZM241.8 419.8L242.3 419.8L242.3 422.1L240.1 422.1L240.1 421.6ZM286.1 419.8L288.4 419.8L288.4 420.4L286.6 422.1L286.1 422.1ZM288.4 419.8L288.9 419.8L288.4 420.4ZM290.6 422.1L290.1 422.1L290.6 421.6ZM292.9 419.8L292.9 420.4L292.4 419.8ZM290.6 422.1L290.6 421.6L291.2 422.1ZM292.9 419.8L295.2 419.8L295.2 422.1L294.7 422.1L292.9 420.4ZM297.6 419.8L299.9 419.8L299.9 420.4L298.1 422.1L297.6 422.1ZM299.9 419.8L302.1 419.8L302.1 420.4L299.9 420.4ZM302.1 419.8L304.4 419.8L304.4 420.4L302.1 420.4ZM304.4 419.8L306.8 419.8L306.8 422.1L306.2 422.1L304.4 420.4ZM318.2 419.8L320.5 419.8L320.5 420.4L318.8 422.1L318.2 422.1ZM320.5 419.8L322.9 419.8L322.9 420.4L320.5 420.4ZM322.9 419.8L323.4 419.8L322.9 420.4ZM207.3 422.1L207.8 422.1L207.8 422.7ZM207.8 422.1L210.2 422.1L210.2 424.4L209.6 424.4L207.8 422.7ZM217.1 422.1L217.6 422.1L219.3 423.9L219.3 424.4L217.1 424.4ZM221.7 423.9L221.7 424.4L219.3 424.4L219.3 423.9ZM223.4 422.1L223.9 422.1L223.9 424.4L221.7 424.4L221.7 423.9ZM228.6 422.1L230.8 422.1L230.8 422.7L229.1 424.4L228.6 424.4ZM230.8 422.1L233.2 422.1L233.2 422.7L230.8 422.7ZM233.2 422.1L235.4 422.1L235.4 424.4L234.9 424.4L233.2 422.7ZM237.8 422.1L240.1 422.1L240.1 422.7L238.3 424.4L237.8 424.4ZM240.1 422.1L242.3 422.1L242.3 424.4L241.8 424.4L240.1 422.7ZM286.1 422.1L286.6 422.1L288.4 423.9L288.4 424.4L286.1 424.4ZM290.6 422.1L290.6 422.7L290.1 422.1ZM288.4 424.4L288.4 423.9L288.9 424.4ZM290.6 422.1L291.2 422.1L290.6 422.7ZM294.7 422.1L295.2 422.1L295.2 424.4L294.7 424.4ZM297.6 422.1L298.1 422.1L299.9 423.9L299.9 424.4L297.6 424.4ZM300.4 424.4L299.9 424.4L299.9 423.9ZM306.2 422.1L306.8 422.1L306.8 424.4L306.2 424.4ZM318.2 422.1L318.8 422.1L318.8 424.4L318.2 424.4ZM209.6 424.4L210.2 424.4L210.2 426.8L209.6 426.8ZM210.2 424.4L212.4 424.4L212.4 425.0L210.7 426.8L210.2 426.8ZM212.4 424.4L214.8 424.4L214.8 426.8L214.2 426.8L212.4 425.0ZM217.1 424.4L219.3 424.4L219.3 425.0L217.6 426.8L217.1 426.8ZM219.3 424.4L221.7 424.4L221.7 426.8L221.1 426.8L219.3 425.0ZM221.7 424.4L223.9 424.4L223.9 425.0L222.2 426.8L221.7 426.8ZM223.9 424.4L226.2 424.4L226.2 426.8L225.7 426.8L223.9 425.0ZM226.2 424.4L228.6 424.4L228.6 425.0L226.8 426.8L226.2 426.8ZM228.6 424.4L229.1 424.4L228.6 425.0ZM230.8 426.8L230.3 426.8L230.8 426.2ZM231.4 426.8L230.8 426.8L230.8 426.2ZM234.9 424.4L235.4 424.4L235.4 426.8L234.9 426.8ZM237.8 424.4L238.3 424.4L238.3 426.8L237.8 426.8ZM241.8 424.4L242.3 424.4L242.3 426.8L241.8 426.8ZM242.3 424.4L244.7 424.4L244.7 425.0L242.9 426.8L242.3 426.8ZM244.7 424.4L246.9 424.4L246.9 426.8L246.4 426.8L244.7 425.0ZM258.4 424.4L260.8 424.4L260.8 425.0L259.0 426.8L258.4 426.8ZM260.8 424.4L263.1 424.4L263.1 425.0L260.8 425.0ZM263.1 424.4L265.4 424.4L265.4 426.8L264.8 426.8L263.1 425.0ZM281.4 424.4L283.8 424.4L283.8 425.0L282.0 426.8L281.4 426.8ZM283.8 424.4L286.1 424.4L286.1 425.0L283.8 425.0ZM286.1 424.4L288.4 424.4L288.4 425.0L286.1 425.0ZM288.4 424.4L288.9 424.4L288.4 425.0ZM292.9 426.2L292.9 426.8L292.4 426.8ZM294.7 424.4L295.2 424.4L295.2 426.8L292.9 426.8L292.9 426.2ZM299.9 424.4L300.4 424.4L302.1 426.2L302.1 426.8L299.9 426.8ZM302.7 426.8L302.1 426.8L302.1 426.2ZM306.2 424.4L306.8 424.4L306.8 425.0ZM306.8 424.4L309.0 424.4L309.0 426.8L308.5 426.8L306.8 425.0ZM318.2 424.4L318.8 424.4L318.8 426.8L318.2 426.8ZM209.6 426.8L210.2 426.8L210.2 429.0L209.6 429.0ZM210.2 426.8L210.7 426.8L210.7 429.0L210.2 429.0ZM214.2 426.8L214.8 426.8L214.8 429.0L214.2 429.0ZM217.1 426.8L217.6 426.8L219.3 428.5L219.3 429.0L217.1 429.0ZM221.1 426.8L221.7 426.8L221.7 429.0L219.3 429.0L219.3 428.5ZM221.7 426.8L222.2 426.8L223.9 428.5L223.9 429.0L221.7 429.0ZM225.7 426.8L226.2 426.8L226.2 429.0L223.9 429.0L223.9 428.5ZM226.2 426.8L226.8 426.8L226.8 429.0L226.2 429.0ZM230.3 426.8L230.8 426.8L230.8 427.3ZM230.8 426.8L231.4 426.8L230.8 427.3ZM233.2 429.0L232.6 429.0L233.2 428.5ZM234.9 426.8L235.4 426.8L235.4 429.0L233.2 429.0L233.2 428.5ZM237.8 426.8L238.3 426.8L240.1 428.5L240.1 429.0L237.8 429.0ZM242.3 426.8L242.3 427.3L241.8 426.8ZM240.1 429.0L240.1 428.5L240.6 429.0ZM242.3 426.8L242.9 426.8L242.3 427.3ZM244.7 429.0L244.1 429.0L244.7 428.5ZM246.4 426.8L246.9 426.8L246.9 429.0L244.7 429.0L244.7 428.5ZM258.4 426.8L259.0 426.8L260.8 428.5L260.8 429.0L258.4 429.0ZM261.3 429.0L260.8 429.0L260.8 428.5ZM264.8 426.8L265.4 426.8L265.4 429.0L264.8 429.0ZM276.9 426.8L279.1 426.8L279.1 427.3L277.4 429.0L276.9 429.0ZM279.1 426.8L281.4 426.8L281.4 429.0L280.9 429.0L279.1 427.3ZM281.4 426.8L282.0 426.8L282.0 429.0L281.4 429.0ZM286.1 428.5L286.1 429.0L285.5 429.0ZM288.4 428.5L288.4 429.0L286.1 429.0L286.1 428.5ZM290.6 428.5L290.6 429.0L288.4 429.0L288.4 428.5ZM292.4 426.8L292.9 426.8L292.9 429.0L290.6 429.0L290.6 428.5ZM292.9 426.8L295.2 426.8L295.2 427.3L293.5 429.0L292.9 429.0ZM295.2 426.8L297.6 426.8L297.6 427.3L295.2 427.3ZM297.6 426.8L299.9 426.8L299.9 429.0L299.3 429.0L297.6 427.3ZM302.1 426.8L302.7 426.8L304.4 428.5L304.4 429.0L302.1 429.0ZM306.8 428.5L306.8 429.0L304.4 429.0L304.4 428.5ZM308.5 426.8L309.0 426.8L309.0 429.0L306.8 429.0L306.8 428.5ZM311.4 426.8L313.6 426.8L313.6 427.3L311.9 429.0L311.4 429.0ZM313.6 426.8L315.9 426.8L315.9 429.0L315.4 429.0L313.6 427.3ZM318.2 426.8L318.8 426.8L318.8 429.0L318.2 429.0ZM209.6 429.0L210.2 429.0L210.2 429.6ZM210.2 429.0L210.7 429.0L210.2 429.6ZM212.4 431.3L211.9 431.3L212.4 430.8ZM214.2 429.0L214.8 429.0L214.8 431.3L212.4 431.3L212.4 430.8ZM219.3 429.0L221.7 429.0L221.7 429.6L219.9 431.3L219.3 431.3ZM221.7 429.0L223.9 429.0L223.9 429.6L221.7 429.6ZM223.9 429.0L226.2 429.0L226.2 429.6L223.9 429.6ZM226.2 429.0L226.8 429.0L226.2 429.6ZM232.6 429.0L233.2 429.0L233.2 431.3L232.6 431.3ZM240.1 429.0L240.6 429.0L242.3 430.8L242.3 431.3L240.1 431.3ZM244.1 429.0L244.7 429.0L244.7 431.3L242.3 431.3L242.3 430.8ZM253.8 429.0L256.1 429.0L256.1 429.6L254.4 431.3L253.8 431.3ZM256.1 429.0L258.4 429.0L258.4 431.3L257.9 431.3L256.1 429.6ZM260.8 429.0L261.3 429.0L263.1 430.8L263.1 431.3L260.8 431.3ZM264.8 429.0L265.4 429.0L265.4 431.3L263.1 431.3L263.1 430.8ZM265.4 429.0L267.6 429.0L267.6 429.6L265.9 431.3L265.4 431.3ZM267.6 429.0L269.9 429.0L269.9 431.3L269.4 431.3L267.6 429.6ZM269.9 429.0L272.2 429.0L272.2 429.6L270.5 431.3L269.9 431.3ZM272.2 429.0L274.6 429.0L274.6 431.3L274.0 431.3L272.2 429.6ZM274.6 429.0L276.9 429.0L276.9 429.6L275.1 431.3L274.6 431.3ZM276.9 429.0L277.4 429.0L276.9 429.6ZM279.1 431.3L278.6 431.3L279.1 430.8ZM280.9 429.0L281.4 429.0L281.4 431.3L279.1 431.3L279.1 430.8ZM281.4 429.0L282.0 429.0L282.0 431.3L281.4 431.3ZM285.5 429.0L286.1 429.0L286.1 429.6ZM286.1 429.0L288.4 429.0L288.4 431.3L287.8 431.3L286.1 429.6ZM292.9 429.0L293.5 429.0L293.5 431.3L292.9 431.3ZM299.3 429.0L299.9 429.0L299.9 431.3L299.3 431.3ZM311.4 429.0L311.9 429.0L311.9 431.3L311.4 431.3ZM315.4 429.0L315.9 429.0L315.9 429.6ZM315.9 429.0L318.2 429.0L318.2 429.6L315.9 429.6ZM318.2 429.0L318.8 429.0L318.2 429.6ZM211.9 431.3L212.4 431.3L212.4 433.6L211.9 433.6ZM212.4 431.3L214.8 431.3L214.8 431.9L213.0 433.6L212.4 433.6ZM214.8 431.3L217.1 431.3L217.1 431.9L214.8 431.9ZM217.1 431.3L219.3 431.3L219.3 431.9L217.1 431.9ZM219.3 431.3L219.9 431.3L219.3 431.9ZM232.6 431.3L233.2 431.3L233.2 431.9ZM233.2 431.3L235.4 431.3L235.4 431.9L233.2 431.9ZM235.4 431.3L237.8 431.3L237.8 431.9L235.4 431.9ZM237.8 431.3L240.1 431.3L240.1 431.9L237.8 431.9ZM240.1 431.3L242.3 431.3L242.3 431.9L240.1 431.9ZM242.3 431.3L244.7 431.3L244.7 431.9L242.3 431.9ZM244.7 431.3L246.9 431.3L246.9 433.6L246.4 433.6L244.7 431.9ZM251.6 431.3L253.8 431.3L253.8 431.9L252.1 433.6L251.6 433.6ZM253.8 431.3L254.4 431.3L253.8 431.9ZM257.9 431.3L258.4 431.3L258.4 433.6L257.9 433.6ZM263.1 431.3L265.4 431.3L265.4 431.9L263.6 433.6L263.1 433.6ZM265.4 431.3L265.9 431.3L265.4 431.9ZM269.4 431.3L269.9 431.3L269.9 431.9ZM269.9 431.3L270.5 431.3L269.9 431.9ZM274.0 431.3L274.6 431.3L274.6 433.6L274.0 433.6ZM274.6 431.3L275.1 431.3L276.9 433.1L276.9 433.6L274.6 433.6ZM279.1 431.3L279.1 431.9L278.6 431.3ZM276.9 433.6L276.9 433.1L277.4 433.6ZM279.1 431.3L281.4 431.3L281.4 431.9L279.1 431.9ZM281.4 431.3L282.0 431.3L281.4 431.9ZM287.8 431.3L288.4 431.3L288.4 431.9ZM288.4 431.3L290.6 431.3L290.6 431.9L288.4 431.9ZM290.6 431.3L292.9 431.3L292.9 433.6L292.4 433.6L290.6 431.9ZM292.9 431.3L293.5 431.3L295.2 433.1L295.2 433.6L292.9 433.6ZM295.8 433.6L295.2 433.6L295.2 433.1ZM299.3 431.3L299.9 431.3L299.9 431.9ZM299.9 431.3L302.1 431.3L302.1 431.9L299.9 431.9ZM302.1 431.3L304.4 431.3L304.4 431.9L302.1 431.9ZM304.4 431.3L306.8 431.3L306.8 431.9L304.4 431.9ZM306.8 431.3L309.0 431.3L309.0 431.9L306.8 431.9ZM309.0 431.3L311.4 431.3L311.4 431.9L309.0 431.9ZM311.4 431.3L311.9 431.3L311.4 431.9ZM211.9 433.6L212.4 433.6L212.4 434.2ZM212.4 433.6L213.0 433.6L212.4 434.2ZM246.4 433.6L246.9 433.6L246.9 434.2ZM246.9 433.6L249.2 433.6L249.2 434.2L246.9 434.2ZM249.2 433.6L251.6 433.6L251.6 434.2L249.2 434.2ZM251.6 433.6L252.1 433.6L251.6 434.2ZM257.9 433.6L258.4 433.6L258.4 434.2ZM258.4 433.6L260.8 433.6L260.8 434.2L258.4 434.2ZM260.8 433.6L263.1 433.6L263.1 434.2L260.8 434.2ZM263.1 433.6L263.6 433.6L263.1 434.2ZM274.0 433.6L274.6 433.6L274.6 434.2ZM274.6 433.6L276.9 433.6L276.9 434.2L274.6 434.2ZM276.9 433.6L277.4 433.6L276.9 434.2ZM292.4 433.6L292.9 433.6L292.9 434.2ZM292.9 433.6L295.2 433.6L295.2 435.9L294.7 435.9L292.9 434.2ZM295.2 433.6L295.8 433.6L297.6 435.4L297.6 435.9L295.2 435.9ZM299.9 435.4L299.9 435.9L297.6 435.9L297.6 435.4ZM300.4 435.9L299.9 435.9L299.9 435.4ZM304.4 435.4L304.4 435.9L303.9 435.9ZM305.0 435.9L304.4 435.9L304.4 435.4ZM294.7 435.9L295.2 435.9L295.2 438.2L294.7 438.2ZM299.9 435.9L300.4 435.9L302.1 437.7L302.1 438.2L299.9 438.2ZM304.4 435.9L304.4 436.5L303.9 435.9ZM302.1 438.2L302.1 437.7L302.7 438.2ZM304.4 435.9L305.0 435.9L304.4 436.5ZM294.7 438.2L295.2 438.2L295.2 440.5L294.7 440.5ZM299.9 438.2L302.1 438.2L302.1 438.8L300.4 440.5L299.9 440.5ZM302.1 438.2L302.7 438.2L302.1 438.8ZM294.7 440.5L295.2 440.5L295.2 441.1ZM295.2 440.5L297.6 440.5L297.6 442.8L297.0 442.8L295.2 441.1ZM297.6 440.5L299.9 440.5L299.9 441.1L298.1 442.8L297.6 442.8ZM299.9 440.5L300.4 440.5L299.9 441.1ZM302.1 442.8L301.6 442.8L302.1 442.3ZM302.7 442.8L302.1 442.8L302.1 442.3ZM297.0 442.8L297.6 442.8L297.6 443.4ZM297.6 442.8L298.1 442.8L297.6 443.4ZM301.6 442.8L302.1 442.8L302.1 443.4ZM302.1 442.8L302.7 442.8L302.1 443.4ZM297.5 330.1h2.4v2.4h-2.4ZM292.9 332.4h2.4v2.4h-2.4ZM304.4 337.0h4.7v2.4h-4.7ZM288.3 339.3h2.4v2.4h-2.4ZM304.4 339.3h4.7v2.4h-4.7ZM288.3 341.6h2.4v2.4h-2.4ZM295.2 341.6h7.0v2.4h-7.0ZM288.3 343.9h4.7v2.4h-4.7ZM297.5 343.9h4.7v2.4h-4.7ZM288.3 346.2h4.7v2.4h-4.7ZM299.8 346.2h7.0v2.4h-7.0ZM288.3 348.5h2.4v2.4h-2.4ZM299.8 348.5h9.3v2.4h-9.3ZM288.3 350.8h2.4v2.4h-2.4ZM299.8 350.8h9.3v2.4h-9.3ZM290.6 355.4h2.4v2.4h-2.4ZM297.5 355.4h2.4v2.4h-2.4ZM283.7 357.7h9.3v2.4h-9.3ZM302.1 357.7h7.0v2.4h-7.0ZM281.4 360.0h2.4v2.4h-2.4ZM290.6 360.0h2.4v2.4h-2.4ZM302.1 360.0h7.0v2.4h-7.0ZM290.6 362.3h4.7v2.4h-4.7ZM299.8 362.3h9.3v2.4h-9.3ZM283.7 364.6h9.3v2.4h-9.3ZM299.8 364.6h9.3v2.4h-9.3ZM283.7 366.9h9.3v2.4h-9.3ZM302.1 366.9h7.0v2.4h-7.0ZM279.1 369.2h18.5v2.4h-18.5ZM302.1 369.2h7.0v2.4h-7.0ZM281.4 371.5h27.7v2.4h-27.7ZM281.4 373.8h27.7v2.4h-27.7ZM281.4 376.1h13.9v2.4h-13.9ZM299.8 376.1h9.3v2.4h-9.3ZM267.6 378.4h4.7v2.4h-4.7ZM279.1 378.4h16.2v2.4h-16.2ZM299.8 378.4h4.7v2.4h-4.7ZM267.6 380.7h4.7v2.4h-4.7ZM279.1 380.7h25.4v2.4h-25.4ZM267.6 383.0h4.7v2.4h-4.7ZM276.8 383.0h18.5v2.4h-18.5ZM299.8 383.0h7.0v2.4h-7.0ZM272.2 385.3h23.1v2.4h-23.1ZM299.8 385.3h7.0v2.4h-7.0ZM260.7 387.6h2.4v2.4h-2.4ZM272.2 387.6h34.6v2.4h-34.6ZM258.4 389.9h48.4v2.4h-48.4ZM256.1 392.2h55.3v2.4h-55.3ZM260.7 394.5h50.7v2.4h-50.7ZM251.5 396.8h2.4v2.4h-2.4ZM260.7 396.8h41.5v2.4h-41.5ZM306.7 396.8h4.7v2.4h-4.7ZM233.1 399.1h2.4v2.4h-2.4ZM244.6 399.1h9.3v2.4h-9.3ZM260.7 399.1h41.5v2.4h-41.5ZM306.7 399.1h7.0v2.4h-7.0ZM230.8 401.4h7.0v2.4h-7.0ZM244.6 401.4h9.3v2.4h-9.3ZM258.4 401.4h57.6v2.4h-57.6ZM228.5 403.7h7.0v2.4h-7.0ZM244.6 403.7h64.5v2.4h-64.5ZM313.6 403.7h2.4v2.4h-2.4ZM228.5 406.0h7.0v2.4h-7.0ZM240.0 406.0h4.7v2.4h-4.7ZM249.2 406.0h59.9v2.4h-59.9ZM313.6 406.0h2.4v2.4h-2.4ZM226.2 408.3h18.5v2.4h-18.5ZM249.2 408.3h66.8v2.4h-66.8ZM228.5 410.6h2.4v2.4h-2.4ZM235.4 410.6h71.4v2.4h-71.4ZM311.3 410.6h4.7v2.4h-4.7ZM217.0 412.9h2.4v2.4h-2.4ZM235.4 412.9h71.4v2.4h-71.4ZM311.3 412.9h4.7v2.4h-4.7ZM214.7 415.2h2.4v2.4h-2.4ZM221.6 415.2h7.0v2.4h-7.0ZM233.1 415.2h80.6v2.4h-80.6ZM214.7 417.5h2.4v2.4h-2.4ZM223.9 417.5h9.3v2.4h-9.3ZM242.3 417.5h46.1v2.4h-46.1ZM292.9 417.5h20.8v2.4h-20.8ZM207.8 419.8h9.3v2.4h-9.3ZM223.9 419.8h9.3v2.4h-9.3ZM242.3 419.8h43.8v2.4h-43.8ZM295.2 419.8h2.4v2.4h-2.4ZM306.7 419.8h11.6v2.4h-11.6ZM210.1 422.1h7.0v2.4h-7.0ZM223.9 422.1h4.7v2.4h-4.7ZM235.4 422.1h2.4v2.4h-2.4ZM242.3 422.1h43.8v2.4h-43.8ZM295.2 422.1h2.4v2.4h-2.4ZM306.7 422.1h11.6v2.4h-11.6ZM214.7 424.4h2.4v2.4h-2.4ZM235.4 424.4h2.4v2.4h-2.4ZM246.9 424.4h11.6v2.4h-11.6ZM265.3 424.4h16.2v2.4h-16.2ZM295.2 424.4h4.7v2.4h-4.7ZM309.0 424.4h9.3v2.4h-9.3ZM214.7 426.7h2.4v2.4h-2.4ZM235.4 426.7h2.4v2.4h-2.4ZM246.9 426.7h11.6v2.4h-11.6ZM265.3 426.7h11.6v2.4h-11.6ZM299.8 426.7h2.4v2.4h-2.4ZM309.0 426.7h2.4v2.4h-2.4ZM315.9 426.7h2.4v2.4h-2.4ZM214.7 429.0h4.7v2.4h-4.7ZM233.1 429.0h7.0v2.4h-7.0ZM244.6 429.0h9.3v2.4h-9.3ZM258.4 429.0h2.4v2.4h-2.4ZM288.3 429.0h4.7v2.4h-4.7ZM299.8 429.0h11.6v2.4h-11.6ZM246.9 431.3h4.7v2.4h-4.7ZM258.4 431.3h4.7v2.4h-4.7ZM295.2 435.9h4.7v2.4h-4.7ZM295.2 438.2h4.7v2.4h-4.7Z"/></clipPath>
<g clip-path="url(#clip-c)"><g filter="url(#soft)">
<path fill="#0000ad" d="M300.7 271.2h7.5v2.9h-7.5zM300.7 273.5h7.5v2.9h-7.5zM300.7 275.8h7.5v2.9h-7.5zM305.3 282.7h7.5v2.9h-7.5zM305.3 285.0h7.5v2.9h-7.5zM305.3 287.3h7.5v2.9h-7.5zM303.0 291.9h7.5v2.9h-7.5zM303.0 294.2h7.5v2.9h-7.5zM303.0 296.5h7.5v2.9h-7.5zM298.4 305.7h9.8v2.9h-9.8zM298.4 308.0h9.8v2.9h-9.8zM289.2 310.3h7.5v2.9h-7.5zM298.4 310.3h9.8v2.9h-9.8zM286.9 312.6h9.8v2.9h-9.8zM300.7 312.6h7.5v2.9h-7.5zM286.9 314.9h9.8v2.9h-9.8zM286.9 317.2h7.5v2.9h-7.5zM305.3 317.2h7.5v2.9h-7.5zM280.0 319.5h7.5v2.9h-7.5zM305.3 319.5h7.5v2.9h-7.5zM280.0 321.8h7.5v2.9h-7.5zM289.2 321.8h7.5v2.9h-7.5zM300.7 321.8h12.1v2.9h-12.1zM280.0 324.1h7.5v2.9h-7.5zM289.2 324.1h21.3v2.9h-21.3zM289.2 326.4h19.0v2.9h-19.0zM289.2 328.7h23.6v2.9h-23.6zM289.2 331.0h9.8v2.9h-9.8zM303.0 331.0h9.8v2.9h-9.8zM286.9 333.3h7.5v2.9h-7.5zM296.1 333.3h2.9v2.9h-2.9zM300.7 333.3h9.8v2.9h-9.8zM284.6 335.6h12.1v2.9h-12.1zM300.7 335.6h7.5v2.9h-7.5zM284.6 337.9h12.1v2.9h-12.1zM298.4 337.9h9.8v2.9h-9.8zM284.6 340.2h5.2v2.9h-5.2zM291.5 340.2h16.7v2.9h-16.7zM284.6 342.5h9.8v2.9h-9.8zM296.1 342.5h9.8v2.9h-9.8zM284.6 344.8h16.7v2.9h-16.7zM303.0 344.8h9.8v2.9h-9.8zM284.6 347.1h19.0v2.9h-19.0zM307.6 347.1h5.2v2.9h-5.2zM284.6 349.4h14.4v2.9h-14.4zM300.7 349.4h12.1v2.9h-12.1zM282.3 351.7h19.0v2.9h-19.0zM303.0 351.7h9.8v2.9h-9.8zM280.0 354.0h9.8v2.9h-9.8zM293.8 354.0h5.2v2.9h-5.2zM300.7 354.0h2.9v2.9h-2.9zM305.3 354.0h2.9v2.9h-2.9zM277.7 356.3h28.2v2.9h-28.2zM307.6 356.3h5.2v2.9h-5.2zM277.7 358.6h19.0v2.9h-19.0zM298.4 358.6h14.4v2.9h-14.4zM277.7 360.9h9.8v2.9h-9.8zM293.8 360.9h2.9v2.9h-2.9zM298.4 360.9h5.2v2.9h-5.2zM307.6 360.9h5.2v2.9h-5.2zM277.7 363.2h7.5v2.9h-7.5zM298.4 363.2h2.9v2.9h-2.9zM303.0 363.2h2.9v2.9h-2.9zM307.6 363.2h5.2v2.9h-5.2zM275.4 365.5h9.8v2.9h-9.8zM300.7 365.5h12.1v2.9h-12.1zM273.1 367.8h7.5v2.9h-7.5zM300.7 367.8h2.9v2.9h-2.9zM305.3 367.8h7.5v2.9h-7.5zM270.8 370.1h14.4v2.9h-14.4zM303.0 370.1h9.8v2.9h-9.8zM268.5 372.4h16.7v2.9h-16.7zM303.0 372.4h9.8v2.9h-9.8zM245.5 374.7h7.5v2.9h-7.5zM261.6 374.7h12.1v2.9h-12.1zM275.4 374.7h2.9v2.9h-2.9zM303.0 374.7h12.1v2.9h-12.1zM245.5 377.0h7.5v2.9h-7.5zM261.6 377.0h7.5v2.9h-7.5zM270.8 377.0h7.5v2.9h-7.5zM280.0 377.0h2.9v2.9h-2.9zM307.6 377.0h7.5v2.9h-7.5zM245.5 379.3h7.5v2.9h-7.5zM261.6 379.3h14.4v2.9h-14.4zM307.6 379.3h7.5v2.9h-7.5zM263.9 381.6h7.5v2.9h-7.5zM275.4 381.6h2.9v2.9h-2.9zM305.3 381.6h9.8v2.9h-9.8zM257.0 383.9h7.5v2.9h-7.5zM268.5 383.9h2.9v2.9h-2.9zM309.9 383.9h5.2v2.9h-5.2zM254.7 386.2h9.8v2.9h-9.8zM252.4 388.5h5.2v2.9h-5.2zM259.3 388.5h2.9v2.9h-2.9zM263.9 388.5h2.9v2.9h-2.9zM309.9 388.5h5.2v2.9h-5.2zM250.1 390.8h14.4v2.9h-14.4zM307.6 390.8h7.5v2.9h-7.5zM247.8 393.1h7.5v2.9h-7.5zM257.0 393.1h2.9v2.9h-2.9zM309.9 393.1h5.2v2.9h-5.2zM229.4 395.4h9.8v2.9h-9.8zM240.9 395.4h5.2v2.9h-5.2zM247.8 395.4h9.8v2.9h-9.8zM307.6 395.4h9.8v2.9h-9.8zM229.4 397.7h16.7v2.9h-16.7zM250.1 397.7h7.5v2.9h-7.5zM307.6 397.7h12.1v2.9h-12.1zM224.8 400.0h5.2v2.9h-5.2zM231.7 400.0h23.6v2.9h-23.6zM257.0 400.0h2.9v2.9h-2.9zM307.6 400.0h12.1v2.9h-12.1zM224.8 402.3h5.2v2.9h-5.2zM231.7 402.3h21.3v2.9h-21.3zM307.6 402.3h2.9v2.9h-2.9zM312.2 402.3h7.5v2.9h-7.5zM222.5 404.6h30.5v2.9h-30.5zM309.9 404.6h9.8v2.9h-9.8zM222.5 406.9h30.5v2.9h-30.5zM305.3 406.9h2.9v2.9h-2.9zM309.9 406.9h2.9v2.9h-2.9zM314.5 406.9h5.2v2.9h-5.2zM213.3 409.2h12.1v2.9h-12.1zM234.0 409.2h7.5v2.9h-7.5zM243.2 409.2h2.9v2.9h-2.9zM305.3 409.2h2.9v2.9h-2.9zM314.5 409.2h5.2v2.9h-5.2zM213.3 411.5h23.6v2.9h-23.6zM238.6 411.5h7.5v2.9h-7.5zM303.0 411.5h5.2v2.9h-5.2zM309.9 411.5h9.8v2.9h-9.8zM321.4 411.5h7.5v2.9h-7.5zM213.3 413.8h7.5v2.9h-7.5zM222.5 413.8h21.3v2.9h-21.3zM303.0 413.8h2.9v2.9h-2.9zM309.9 413.8h5.2v2.9h-5.2zM316.8 413.8h12.1v2.9h-12.1zM204.1 416.1h7.5v2.9h-7.5zM217.9 416.1h16.7v2.9h-16.7zM236.3 416.1h5.2v2.9h-5.2zM243.2 416.1h2.9v2.9h-2.9zM300.7 416.1h7.5v2.9h-7.5zM309.9 416.1h19.0v2.9h-19.0zM204.1 418.4h19.0v2.9h-19.0zM229.4 418.4h2.9v2.9h-2.9zM243.2 418.4h5.2v2.9h-5.2zM303.0 418.4h25.9v2.9h-25.9zM204.1 420.7h5.2v2.9h-5.2zM211.0 420.7h32.8v2.9h-32.8zM245.5 420.7h5.2v2.9h-5.2zM289.2 420.7h2.9v2.9h-2.9zM293.8 420.7h5.2v2.9h-5.2zM303.0 420.7h5.2v2.9h-5.2zM309.9 420.7h7.5v2.9h-7.5zM319.1 420.7h7.5v2.9h-7.5zM204.1 423.0h7.5v2.9h-7.5zM213.3 423.0h9.8v2.9h-9.8zM227.1 423.0h14.4v2.9h-14.4zM243.2 423.0h12.1v2.9h-12.1zM275.4 423.0h5.2v2.9h-5.2zM286.9 423.0h5.2v2.9h-5.2zM298.4 423.0h2.9v2.9h-2.9zM307.6 423.0h2.9v2.9h-2.9zM314.5 423.0h7.5v2.9h-7.5zM206.4 425.3h16.7v2.9h-16.7zM227.1 425.3h19.0v2.9h-19.0zM247.8 425.3h9.8v2.9h-9.8zM266.2 425.3h12.1v2.9h-12.1zM284.6 425.3h9.8v2.9h-9.8zM296.1 425.3h5.2v2.9h-5.2zM303.0 425.3h12.1v2.9h-12.1zM316.8 425.3h5.2v2.9h-5.2zM206.4 427.6h19.0v2.9h-19.0zM229.4 427.6h21.3v2.9h-21.3zM252.4 427.6h5.2v2.9h-5.2zM261.6 427.6h2.9v2.9h-2.9zM266.2 427.6h2.9v2.9h-2.9zM273.1 427.6h28.2v2.9h-28.2zM303.0 427.6h2.9v2.9h-2.9zM307.6 427.6h14.4v2.9h-14.4zM206.4 429.9h7.5v2.9h-7.5zM217.9 429.9h7.5v2.9h-7.5zM229.4 429.9h14.4v2.9h-14.4zM245.5 429.9h7.5v2.9h-7.5zM254.7 429.9h67.3v2.9h-67.3zM208.7 432.2h14.4v2.9h-14.4zM229.4 432.2h32.8v2.9h-32.8zM263.9 432.2h30.5v2.9h-30.5zM296.1 432.2h19.0v2.9h-19.0zM208.7 434.5h7.5v2.9h-7.5zM243.2 434.5h19.0v2.9h-19.0zM270.8 434.5h9.8v2.9h-9.8zM289.2 434.5h19.0v2.9h-19.0zM291.5 436.8h5.2v2.9h-5.2zM303.0 436.8h5.2v2.9h-5.2zM291.5 439.1h14.4v2.9h-14.4zM291.5 441.4h14.4v2.9h-14.4zM293.8 443.7h12.1v2.9h-12.1z"/>
<path fill="#0000bf" d="M309.9 324.1h2.9v2.9h-2.9zM307.6 326.4h5.2v2.9h-5.2zM298.4 331.0h5.2v2.9h-5.2zM293.8 333.3h2.9v2.9h-2.9zM298.4 333.3h2.9v2.9h-2.9zM309.9 333.3h2.9v2.9h-2.9zM296.1 335.6h5.2v2.9h-5.2zM307.6 335.6h5.2v2.9h-5.2zM296.1 337.9h2.9v2.9h-2.9zM307.6 337.9h5.2v2.9h-5.2zM307.6 340.2h5.2v2.9h-5.2zM293.8 342.5h2.9v2.9h-2.9zM305.3 342.5h7.5v2.9h-7.5zM305.3 347.1h2.9v2.9h-2.9zM298.4 349.4h2.9v2.9h-2.9zM300.7 351.7h2.9v2.9h-2.9zM289.2 354.0h5.2v2.9h-5.2zM298.4 354.0h2.9v2.9h-2.9zM303.0 354.0h2.9v2.9h-2.9zM307.6 354.0h5.2v2.9h-5.2zM305.3 356.3h2.9v2.9h-2.9zM296.1 358.6h2.9v2.9h-2.9zM286.9 360.9h5.2v2.9h-5.2zM296.1 360.9h2.9v2.9h-2.9zM303.0 360.9h5.2v2.9h-5.2zM284.6 363.2h5.2v2.9h-5.2zM293.8 363.2h5.2v2.9h-5.2zM300.7 363.2h2.9v2.9h-2.9zM305.3 363.2h2.9v2.9h-2.9zM284.6 365.5h2.9v2.9h-2.9zM298.4 365.5h2.9v2.9h-2.9zM280.0 367.8h5.2v2.9h-5.2zM303.0 367.8h2.9v2.9h-2.9zM296.1 372.4h2.9v2.9h-2.9zM300.7 372.4h2.9v2.9h-2.9zM273.1 374.7h2.9v2.9h-2.9zM277.7 374.7h5.2v2.9h-5.2zM300.7 374.7h2.9v2.9h-2.9zM268.5 377.0h2.9v2.9h-2.9zM277.7 377.0h2.9v2.9h-2.9zM305.3 377.0h2.9v2.9h-2.9zM275.4 379.3h2.9v2.9h-2.9zM300.7 379.3h2.9v2.9h-2.9zM305.3 379.3h2.9v2.9h-2.9zM270.8 381.6h2.9v2.9h-2.9zM263.9 383.9h2.9v2.9h-2.9zM305.3 383.9h5.2v2.9h-5.2zM263.9 386.2h2.9v2.9h-2.9zM305.3 386.2h5.2v2.9h-5.2zM257.0 388.5h2.9v2.9h-2.9zM261.6 388.5h2.9v2.9h-2.9zM254.7 393.1h2.9v2.9h-2.9zM259.3 393.1h2.9v2.9h-2.9zM245.5 395.4h2.9v2.9h-2.9zM257.0 395.4h5.2v2.9h-5.2zM227.1 397.7h2.9v2.9h-2.9zM247.8 397.7h2.9v2.9h-2.9zM257.0 397.7h2.9v2.9h-2.9zM229.4 400.0h2.9v2.9h-2.9zM254.7 400.0h2.9v2.9h-2.9zM229.4 402.3h2.9v2.9h-2.9zM252.4 402.3h2.9v2.9h-2.9zM257.0 402.3h2.9v2.9h-2.9zM309.9 402.3h2.9v2.9h-2.9zM252.4 404.6h2.9v2.9h-2.9zM305.3 404.6h5.2v2.9h-5.2zM307.6 406.9h2.9v2.9h-2.9zM312.2 406.9h2.9v2.9h-2.9zM224.8 409.2h9.8v2.9h-9.8zM240.9 409.2h2.9v2.9h-2.9zM250.1 409.2h2.9v2.9h-2.9zM254.7 409.2h2.9v2.9h-2.9zM309.9 409.2h5.2v2.9h-5.2zM211.0 411.5h2.9v2.9h-2.9zM245.5 411.5h5.2v2.9h-5.2zM307.6 411.5h2.9v2.9h-2.9zM208.7 413.8h2.9v2.9h-2.9zM220.2 413.8h2.9v2.9h-2.9zM245.5 413.8h2.9v2.9h-2.9zM300.7 413.8h2.9v2.9h-2.9zM314.5 413.8h2.9v2.9h-2.9zM211.0 416.1h2.9v2.9h-2.9zM215.6 416.1h2.9v2.9h-2.9zM234.0 416.1h2.9v2.9h-2.9zM245.5 416.1h2.9v2.9h-2.9zM266.2 416.1h2.9v2.9h-2.9zM307.6 416.1h2.9v2.9h-2.9zM222.5 418.4h7.5v2.9h-7.5zM231.7 418.4h5.2v2.9h-5.2zM238.6 418.4h5.2v2.9h-5.2zM250.1 418.4h2.9v2.9h-2.9zM259.3 418.4h2.9v2.9h-2.9zM298.4 418.4h2.9v2.9h-2.9zM208.7 420.7h2.9v2.9h-2.9zM243.2 420.7h2.9v2.9h-2.9zM275.4 420.7h2.9v2.9h-2.9zM280.0 420.7h2.9v2.9h-2.9zM298.4 420.7h5.2v2.9h-5.2zM316.8 420.7h2.9v2.9h-2.9zM211.0 423.0h2.9v2.9h-2.9zM240.9 423.0h2.9v2.9h-2.9zM261.6 423.0h2.9v2.9h-2.9zM266.2 423.0h2.9v2.9h-2.9zM270.8 423.0h2.9v2.9h-2.9zM280.0 423.0h7.5v2.9h-7.5zM291.5 423.0h7.5v2.9h-7.5zM300.7 423.0h7.5v2.9h-7.5zM222.5 425.3h5.2v2.9h-5.2zM257.0 425.3h7.5v2.9h-7.5zM277.7 425.3h2.9v2.9h-2.9zM282.3 425.3h2.9v2.9h-2.9zM293.8 425.3h2.9v2.9h-2.9zM300.7 425.3h2.9v2.9h-2.9zM224.8 427.6h5.2v2.9h-5.2zM259.3 427.6h2.9v2.9h-2.9zM263.9 427.6h2.9v2.9h-2.9zM268.5 427.6h5.2v2.9h-5.2zM300.7 427.6h2.9v2.9h-2.9zM305.3 427.6h2.9v2.9h-2.9zM213.3 429.9h5.2v2.9h-5.2zM224.8 429.9h5.2v2.9h-5.2zM243.2 429.9h2.9v2.9h-2.9zM252.4 429.9h2.9v2.9h-2.9zM261.6 432.2h2.9v2.9h-2.9zM293.8 432.2h2.9v2.9h-2.9zM261.6 434.5h5.2v2.9h-5.2zM300.7 436.8h2.9v2.9h-2.9z"/>
<path fill="#0000d4" d="M289.2 340.2h2.9v2.9h-2.9zM300.7 344.8h2.9v2.9h-2.9zM303.0 347.1h2.9v2.9h-2.9zM289.2 365.5h2.9v2.9h-2.9zM296.1 365.5h2.9v2.9h-2.9zM298.4 367.8h2.9v2.9h-2.9zM293.8 370.1h2.9v2.9h-2.9zM300.7 370.1h2.9v2.9h-2.9zM286.9 372.4h2.9v2.9h-2.9zM298.4 372.4h2.9v2.9h-2.9zM289.2 374.7h2.9v2.9h-2.9zM282.3 377.0h2.9v2.9h-2.9zM300.7 377.0h2.9v2.9h-2.9zM293.8 379.3h2.9v2.9h-2.9zM298.4 379.3h2.9v2.9h-2.9zM303.0 379.3h2.9v2.9h-2.9zM273.1 381.6h2.9v2.9h-2.9zM277.7 381.6h5.2v2.9h-5.2zM303.0 381.6h2.9v2.9h-2.9zM266.2 383.9h2.9v2.9h-2.9zM303.0 383.9h2.9v2.9h-2.9zM307.6 388.5h2.9v2.9h-2.9zM263.9 390.8h2.9v2.9h-2.9zM261.6 393.1h2.9v2.9h-2.9zM307.6 393.1h2.9v2.9h-2.9zM245.5 397.7h2.9v2.9h-2.9zM259.3 397.7h5.2v2.9h-5.2zM259.3 400.0h2.9v2.9h-2.9zM257.0 404.6h2.9v2.9h-2.9zM254.7 406.9h7.5v2.9h-7.5zM245.5 409.2h5.2v2.9h-5.2zM307.6 409.2h2.9v2.9h-2.9zM208.7 411.5h2.9v2.9h-2.9zM236.3 411.5h2.9v2.9h-2.9zM252.4 411.5h2.9v2.9h-2.9zM261.6 411.5h2.9v2.9h-2.9zM211.0 413.8h2.9v2.9h-2.9zM243.2 413.8h2.9v2.9h-2.9zM263.9 413.8h2.9v2.9h-2.9zM305.3 413.8h5.2v2.9h-5.2zM213.3 416.1h2.9v2.9h-2.9zM240.9 416.1h2.9v2.9h-2.9zM257.0 416.1h2.9v2.9h-2.9zM263.9 416.1h2.9v2.9h-2.9zM298.4 416.1h2.9v2.9h-2.9zM236.3 418.4h2.9v2.9h-2.9zM247.8 418.4h2.9v2.9h-2.9zM252.4 418.4h2.9v2.9h-2.9zM257.0 418.4h2.9v2.9h-2.9zM300.7 418.4h2.9v2.9h-2.9zM250.1 420.7h2.9v2.9h-2.9zM286.9 420.7h2.9v2.9h-2.9zM291.5 420.7h2.9v2.9h-2.9zM307.6 420.7h2.9v2.9h-2.9zM222.5 423.0h5.2v2.9h-5.2zM254.7 423.0h2.9v2.9h-2.9zM259.3 423.0h2.9v2.9h-2.9zM263.9 423.0h2.9v2.9h-2.9zM268.5 423.0h2.9v2.9h-2.9zM273.1 423.0h2.9v2.9h-2.9zM309.9 423.0h5.2v2.9h-5.2zM245.5 425.3h2.9v2.9h-2.9zM263.9 425.3h2.9v2.9h-2.9zM280.0 425.3h2.9v2.9h-2.9zM314.5 425.3h2.9v2.9h-2.9zM250.1 427.6h2.9v2.9h-2.9zM257.0 427.6h2.9v2.9h-2.9zM296.1 436.8h5.2v2.9h-5.2z"/>
<path fill="#0000ea" d="M291.5 360.9h2.9v2.9h-2.9zM291.5 363.2h2.9v2.9h-2.9zM293.8 365.5h2.9v2.9h-2.9zM286.9 367.8h2.9v2.9h-2.9zM293.8 367.8h2.9v2.9h-2.9zM296.1 370.1h5.2v2.9h-5.2zM284.6 372.4h2.9v2.9h-2.9zM291.5 374.7h2.9v2.9h-2.9zM298.4 374.7h2.9v2.9h-2.9zM303.0 377.0h2.9v2.9h-2.9zM277.7 379.3h5.2v2.9h-5.2zM291.5 379.3h2.9v2.9h-2.9zM273.1 383.9h2.9v2.9h-2.9zM277.7 383.9h2.9v2.9h-2.9zM266.2 386.2h2.9v2.9h-2.9zM270.8 386.2h2.9v2.9h-2.9zM266.2 388.5h2.9v2.9h-2.9zM305.3 388.5h2.9v2.9h-2.9zM266.2 390.8h2.9v2.9h-2.9zM263.9 393.1h2.9v2.9h-2.9zM305.3 393.1h2.9v2.9h-2.9zM305.3 402.3h2.9v2.9h-2.9zM259.3 404.6h2.9v2.9h-2.9zM263.9 411.5h2.9v2.9h-2.9zM247.8 413.8h2.9v2.9h-2.9zM254.7 413.8h2.9v2.9h-2.9zM298.4 413.8h2.9v2.9h-2.9zM247.8 416.1h2.9v2.9h-2.9zM296.1 418.4h2.9v2.9h-2.9zM259.3 420.7h5.2v2.9h-5.2zM266.2 420.7h2.9v2.9h-2.9zM277.7 420.7h2.9v2.9h-2.9z"/>
<path fill="#0000ff" d="M289.2 363.2h2.9v2.9h-2.9zM282.3 374.7h5.2v2.9h-5.2zM296.1 374.7h2.9v2.9h-2.9zM286.9 377.0h2.9v2.9h-2.9zM293.8 377.0h7.5v2.9h-7.5zM298.4 381.6h2.9v2.9h-2.9zM270.8 383.9h2.9v2.9h-2.9zM268.5 386.2h2.9v2.9h-2.9zM303.0 386.2h2.9v2.9h-2.9zM261.6 395.4h2.9v2.9h-2.9zM305.3 395.4h2.9v2.9h-2.9zM254.7 402.3h2.9v2.9h-2.9zM252.4 406.9h2.9v2.9h-2.9zM261.6 409.2h2.9v2.9h-2.9zM303.0 409.2h2.9v2.9h-2.9zM250.1 411.5h2.9v2.9h-2.9zM259.3 411.5h2.9v2.9h-2.9zM300.7 411.5h2.9v2.9h-2.9zM252.4 413.8h2.9v2.9h-2.9zM296.1 416.1h2.9v2.9h-2.9zM261.6 418.4h2.9v2.9h-2.9zM280.0 418.4h2.9v2.9h-2.9zM291.5 418.4h2.9v2.9h-2.9zM252.4 420.7h2.9v2.9h-2.9zM257.0 420.7h2.9v2.9h-2.9zM284.6 420.7h2.9v2.9h-2.9zM257.0 423.0h2.9v2.9h-2.9z"/>
<path fill="#0015ff" d="M291.5 365.5h2.9v2.9h-2.9zM291.5 367.8h2.9v2.9h-2.9zM296.1 367.8h2.9v2.9h-2.9zM286.9 370.1h5.2v2.9h-5.2zM289.2 372.4h2.9v2.9h-2.9zM286.9 374.7h2.9v2.9h-2.9zM293.8 374.7h2.9v2.9h-2.9zM289.2 377.0h5.2v2.9h-5.2zM296.1 379.3h2.9v2.9h-2.9zM296.1 381.6h2.9v2.9h-2.9zM300.7 381.6h2.9v2.9h-2.9zM303.0 388.5h2.9v2.9h-2.9zM305.3 390.8h2.9v2.9h-2.9zM259.3 402.3h2.9v2.9h-2.9zM261.6 406.9h2.9v2.9h-2.9zM259.3 409.2h2.9v2.9h-2.9zM254.7 411.5h5.2v2.9h-5.2zM257.0 413.8h2.9v2.9h-2.9zM254.7 416.1h2.9v2.9h-2.9zM259.3 416.1h2.9v2.9h-2.9zM254.7 418.4h2.9v2.9h-2.9zM268.5 418.4h2.9v2.9h-2.9zM286.9 418.4h2.9v2.9h-2.9zM254.7 420.7h2.9v2.9h-2.9zM268.5 420.7h2.9v2.9h-2.9zM273.1 420.7h2.9v2.9h-2.9zM282.3 420.7h2.9v2.9h-2.9z"/>
<path fill="#002aff" d="M286.9 365.5h2.9v2.9h-2.9zM284.6 367.8h2.9v2.9h-2.9zM289.2 367.8h2.9v2.9h-2.9zM293.8 372.4h2.9v2.9h-2.9zM282.3 381.6h2.9v2.9h-2.9zM275.4 383.9h2.9v2.9h-2.9zM277.7 386.2h2.9v2.9h-2.9zM305.3 400.0h2.9v2.9h-2.9zM261.6 402.3h2.9v2.9h-2.9zM254.7 404.6h2.9v2.9h-2.9zM252.4 409.2h2.9v2.9h-2.9zM257.0 409.2h2.9v2.9h-2.9zM263.9 409.2h2.9v2.9h-2.9zM266.2 411.5h2.9v2.9h-2.9zM250.1 413.8h2.9v2.9h-2.9zM259.3 413.8h2.9v2.9h-2.9zM268.5 413.8h2.9v2.9h-2.9zM250.1 416.1h5.2v2.9h-5.2zM261.6 416.1h2.9v2.9h-2.9zM273.1 416.1h2.9v2.9h-2.9zM293.8 416.1h2.9v2.9h-2.9zM263.9 418.4h2.9v2.9h-2.9zM270.8 418.4h2.9v2.9h-2.9zM284.6 418.4h2.9v2.9h-2.9zM289.2 418.4h2.9v2.9h-2.9zM293.8 418.4h2.9v2.9h-2.9zM263.9 420.7h2.9v2.9h-2.9zM270.8 420.7h2.9v2.9h-2.9z"/>
<path fill="#0040ff" d="M284.6 370.1h2.9v2.9h-2.9zM291.5 370.1h2.9v2.9h-2.9zM284.6 377.0h2.9v2.9h-2.9zM282.3 379.3h2.9v2.9h-2.9zM270.8 388.5h2.9v2.9h-2.9zM268.5 393.1h2.9v2.9h-2.9zM300.7 404.6h2.9v2.9h-2.9zM298.4 411.5h2.9v2.9h-2.9zM261.6 413.8h2.9v2.9h-2.9zM268.5 416.1h2.9v2.9h-2.9zM275.4 418.4h2.9v2.9h-2.9z"/>
<path fill="#0055ff" d="M291.5 372.4h2.9v2.9h-2.9zM284.6 379.3h5.2v2.9h-5.2zM273.1 388.5h2.9v2.9h-2.9zM268.5 390.8h2.9v2.9h-2.9zM305.3 397.7h2.9v2.9h-2.9zM261.6 404.6h2.9v2.9h-2.9zM303.0 404.6h2.9v2.9h-2.9zM303.0 406.9h2.9v2.9h-2.9zM266.2 413.8h2.9v2.9h-2.9zM266.2 418.4h2.9v2.9h-2.9zM273.1 418.4h2.9v2.9h-2.9zM282.3 418.4h2.9v2.9h-2.9z"/>
<path fill="#006aff" d="M291.5 381.6h2.9v2.9h-2.9zM298.4 383.9h2.9v2.9h-2.9zM273.1 386.2h2.9v2.9h-2.9zM268.5 388.5h2.9v2.9h-2.9zM303.0 390.8h2.9v2.9h-2.9zM263.9 395.4h2.9v2.9h-2.9zM261.6 400.0h5.2v2.9h-5.2zM303.0 400.0h2.9v2.9h-2.9zM300.7 406.9h2.9v2.9h-2.9zM266.2 409.2h2.9v2.9h-2.9zM296.1 413.8h2.9v2.9h-2.9zM277.7 416.1h2.9v2.9h-2.9zM284.6 416.1h2.9v2.9h-2.9zM277.7 418.4h2.9v2.9h-2.9z"/>
<path fill="#0080ff" d="M289.2 379.3h2.9v2.9h-2.9zM300.7 390.8h2.9v2.9h-2.9zM266.2 393.1h2.9v2.9h-2.9zM263.9 404.6h2.9v2.9h-2.9zM300.7 409.2h2.9v2.9h-2.9zM270.8 411.5h2.9v2.9h-2.9zM293.8 413.8h2.9v2.9h-2.9zM289.2 416.1h2.9v2.9h-2.9z"/>
<path fill="#0095ff" d="M293.8 381.6h2.9v2.9h-2.9zM280.0 383.9h2.9v2.9h-2.9zM275.4 386.2h2.9v2.9h-2.9zM300.7 386.2h2.9v2.9h-2.9zM300.7 388.5h2.9v2.9h-2.9zM270.8 390.8h2.9v2.9h-2.9zM266.2 397.7h2.9v2.9h-2.9zM303.0 397.7h2.9v2.9h-2.9zM268.5 409.2h2.9v2.9h-2.9zM270.8 416.1h2.9v2.9h-2.9z"/>
<path fill="#00aaff" d="M282.3 383.9h2.9v2.9h-2.9zM296.1 383.9h2.9v2.9h-2.9zM300.7 383.9h2.9v2.9h-2.9zM280.0 386.2h2.9v2.9h-2.9zM284.6 386.2h2.9v2.9h-2.9zM275.4 388.5h2.9v2.9h-2.9zM298.4 388.5h2.9v2.9h-2.9zM273.1 390.8h2.9v2.9h-2.9zM263.9 402.3h2.9v2.9h-2.9zM268.5 406.9h2.9v2.9h-2.9zM298.4 409.2h2.9v2.9h-2.9zM268.5 411.5h2.9v2.9h-2.9zM289.2 411.5h2.9v2.9h-2.9zM296.1 411.5h2.9v2.9h-2.9zM273.1 413.8h2.9v2.9h-2.9zM280.0 416.1h2.9v2.9h-2.9z"/>
<path fill="#00bfff" d="M284.6 381.6h2.9v2.9h-2.9zM289.2 381.6h2.9v2.9h-2.9zM291.5 383.9h2.9v2.9h-2.9zM298.4 386.2h2.9v2.9h-2.9zM280.0 388.5h2.9v2.9h-2.9zM277.7 390.8h2.9v2.9h-2.9zM298.4 390.8h2.9v2.9h-2.9zM273.1 395.4h2.9v2.9h-2.9zM303.0 395.4h2.9v2.9h-2.9zM263.9 397.7h2.9v2.9h-2.9zM303.0 402.3h2.9v2.9h-2.9zM293.8 404.6h2.9v2.9h-2.9zM298.4 404.6h2.9v2.9h-2.9zM266.2 406.9h2.9v2.9h-2.9zM298.4 406.9h2.9v2.9h-2.9zM296.1 409.2h2.9v2.9h-2.9zM270.8 413.8h2.9v2.9h-2.9zM275.4 416.1h2.9v2.9h-2.9z"/>
<path fill="#00d4ff" d="M284.6 383.9h7.5v2.9h-7.5zM293.8 383.9h2.9v2.9h-2.9zM289.2 386.2h2.9v2.9h-2.9zM266.2 395.4h2.9v2.9h-2.9zM300.7 400.0h2.9v2.9h-2.9zM270.8 402.3h2.9v2.9h-2.9zM277.7 404.6h2.9v2.9h-2.9zM270.8 406.9h2.9v2.9h-2.9zM277.7 411.5h2.9v2.9h-2.9zM282.3 411.5h2.9v2.9h-2.9zM291.5 413.8h2.9v2.9h-2.9zM286.9 416.1h2.9v2.9h-2.9zM291.5 416.1h2.9v2.9h-2.9z"/>
<path fill="#00eaff" d="M293.8 388.5h2.9v2.9h-2.9zM298.4 393.1h7.5v2.9h-7.5zM270.8 395.4h2.9v2.9h-2.9zM300.7 395.4h2.9v2.9h-2.9zM300.7 397.7h2.9v2.9h-2.9zM298.4 400.0h2.9v2.9h-2.9zM298.4 402.3h2.9v2.9h-2.9zM266.2 404.6h2.9v2.9h-2.9zM291.5 404.6h2.9v2.9h-2.9zM263.9 406.9h2.9v2.9h-2.9zM291.5 409.2h2.9v2.9h-2.9zM273.1 411.5h2.9v2.9h-2.9zM291.5 411.5h2.9v2.9h-2.9z"/>
<path fill="#00ffff" d="M286.9 381.6h2.9v2.9h-2.9zM282.3 386.2h2.9v2.9h-2.9zM286.9 386.2h2.9v2.9h-2.9zM291.5 386.2h2.9v2.9h-2.9zM296.1 388.5h2.9v2.9h-2.9zM270.8 393.1h2.9v2.9h-2.9zM268.5 395.4h2.9v2.9h-2.9zM266.2 400.0h2.9v2.9h-2.9zM296.1 400.0h2.9v2.9h-2.9zM273.1 404.6h2.9v2.9h-2.9zM275.4 406.9h2.9v2.9h-2.9zM293.8 406.9h5.2v2.9h-5.2zM286.9 413.8h2.9v2.9h-2.9zM282.3 416.1h2.9v2.9h-2.9z"/>
<path fill="#15ffea" d="M289.2 388.5h5.2v2.9h-5.2zM284.6 390.8h2.9v2.9h-2.9zM289.2 393.1h2.9v2.9h-2.9zM275.4 395.4h2.9v2.9h-2.9zM286.9 395.4h2.9v2.9h-2.9zM293.8 395.4h2.9v2.9h-2.9zM291.5 397.7h5.2v2.9h-5.2zM289.2 400.0h2.9v2.9h-2.9zM266.2 402.3h2.9v2.9h-2.9zM300.7 402.3h2.9v2.9h-2.9zM296.1 404.6h2.9v2.9h-2.9zM291.5 406.9h2.9v2.9h-2.9zM270.8 409.2h7.5v2.9h-7.5zM275.4 411.5h2.9v2.9h-2.9zM275.4 413.8h2.9v2.9h-2.9zM280.0 413.8h2.9v2.9h-2.9z"/>
<path fill="#2bffd4" d="M282.3 388.5h5.2v2.9h-5.2zM275.4 390.8h2.9v2.9h-2.9zM289.2 390.8h2.9v2.9h-2.9zM273.1 393.1h2.9v2.9h-2.9zM282.3 400.0h2.9v2.9h-2.9zM277.7 402.3h2.9v2.9h-2.9zM293.8 402.3h2.9v2.9h-2.9zM270.8 404.6h2.9v2.9h-2.9zM289.2 404.6h2.9v2.9h-2.9zM282.3 406.9h2.9v2.9h-2.9zM286.9 406.9h5.2v2.9h-5.2zM277.7 409.2h2.9v2.9h-2.9zM284.6 409.2h2.9v2.9h-2.9zM284.6 411.5h2.9v2.9h-2.9zM277.7 413.8h2.9v2.9h-2.9zM284.6 413.8h2.9v2.9h-2.9z"/>
<path fill="#40ffbf" d="M293.8 386.2h2.9v2.9h-2.9zM286.9 390.8h2.9v2.9h-2.9zM291.5 390.8h2.9v2.9h-2.9zM296.1 390.8h2.9v2.9h-2.9zM277.7 393.1h2.9v2.9h-2.9zM291.5 395.4h2.9v2.9h-2.9zM296.1 395.4h2.9v2.9h-2.9zM273.1 397.7h2.9v2.9h-2.9zM268.5 402.3h2.9v2.9h-2.9zM273.1 406.9h2.9v2.9h-2.9zM293.8 409.2h2.9v2.9h-2.9zM293.8 411.5h2.9v2.9h-2.9zM282.3 413.8h2.9v2.9h-2.9z"/>
<path fill="#55ffaa" d="M296.1 386.2h2.9v2.9h-2.9zM282.3 393.1h2.9v2.9h-2.9zM277.7 395.4h2.9v2.9h-2.9zM275.4 397.7h2.9v2.9h-2.9zM280.0 397.7h2.9v2.9h-2.9zM268.5 404.6h2.9v2.9h-2.9zM282.3 404.6h2.9v2.9h-2.9zM280.0 406.9h2.9v2.9h-2.9zM282.3 409.2h2.9v2.9h-2.9zM280.0 411.5h2.9v2.9h-2.9zM289.2 413.8h2.9v2.9h-2.9z"/>
<path fill="#6aff95" d="M277.7 388.5h2.9v2.9h-2.9zM282.3 390.8h2.9v2.9h-2.9zM293.8 393.1h2.9v2.9h-2.9zM282.3 397.7h5.2v2.9h-5.2zM268.5 400.0h2.9v2.9h-2.9zM280.0 400.0h2.9v2.9h-2.9zM291.5 402.3h2.9v2.9h-2.9zM289.2 409.2h2.9v2.9h-2.9z"/>
<path fill="#80ff80" d="M275.4 393.1h2.9v2.9h-2.9zM280.0 393.1h2.9v2.9h-2.9zM298.4 395.4h2.9v2.9h-2.9zM268.5 397.7h2.9v2.9h-2.9zM277.7 397.7h2.9v2.9h-2.9zM296.1 397.7h5.2v2.9h-5.2zM270.8 400.0h2.9v2.9h-2.9zM275.4 400.0h2.9v2.9h-2.9zM275.4 402.3h2.9v2.9h-2.9z"/>
<path fill="#95ff6a" d="M293.8 390.8h2.9v2.9h-2.9zM280.0 395.4h2.9v2.9h-2.9zM289.2 395.4h2.9v2.9h-2.9zM291.5 400.0h2.9v2.9h-2.9zM296.1 402.3h2.9v2.9h-2.9zM284.6 406.9h2.9v2.9h-2.9zM280.0 409.2h2.9v2.9h-2.9z"/>
<path fill="#aaff55" d="M284.6 393.1h5.2v2.9h-5.2zM284.6 395.4h2.9v2.9h-2.9zM270.8 397.7h2.9v2.9h-2.9zM293.8 400.0h2.9v2.9h-2.9zM280.0 402.3h5.2v2.9h-5.2zM275.4 404.6h2.9v2.9h-2.9zM286.9 411.5h2.9v2.9h-2.9z"/>
<path fill="#bfff40" d="M289.2 397.7h2.9v2.9h-2.9zM273.1 400.0h2.9v2.9h-2.9zM277.7 400.0h2.9v2.9h-2.9zM273.1 402.3h2.9v2.9h-2.9zM280.0 404.6h2.9v2.9h-2.9zM286.9 409.2h2.9v2.9h-2.9z"/>
<path fill="#d5ff2a" d="M286.9 388.5h2.9v2.9h-2.9zM280.0 390.8h2.9v2.9h-2.9zM284.6 404.6h2.9v2.9h-2.9z"/>
<path fill="#eaff15" d="M296.1 393.1h2.9v2.9h-2.9zM284.6 400.0h2.9v2.9h-2.9z"/>
<path fill="#ffff00" d="M286.9 400.0h2.9v2.9h-2.9z"/>
<path fill="#ffea00" d="M291.5 393.1h2.9v2.9h-2.9zM282.3 395.4h2.9v2.9h-2.9zM286.9 397.7h2.9v2.9h-2.9zM286.9 404.6h2.9v2.9h-2.9zM277.7 406.9h2.9v2.9h-2.9z"/>
<path fill="#ffd500" d="M284.6 402.3h2.9v2.9h-2.9z"/>
<path fill="#ff8000" d="M289.2 402.3h2.9v2.9h-2.9z"/>
<path fill="#800000" d="M286.9 402.3h2.9v2.9h-2.9z"/>
</g></g>
<path fill="#0000c0" d="M303.8 274.0l1.4 -1.4l1.4 1.4l-1.4 1.4zM306.8 287.5l1.4 -1.4l1.4 1.4l-1.4 1.4zM306.4 295.3l1.4 -1.4l1.4 1.4l-1.4 1.4zM302.4 310.8l1.4 -1.4l1.4 1.4l-1.4 1.4zM304.1 309.5l1.4 -1.4l1.4 1.4l-1.4 1.4zM292.4 313.8l1.4 -1.4l1.4 1.4l-1.4 1.4zM289.4 316.8l1.4 -1.4l1.4 1.4l-1.4 1.4zM282.4 323.4l1.4 -1.4l1.4 1.4l-1.4 1.4zM247.6 377.8l1.4 -1.4l1.4 1.4l-1.4 1.4zM307.1 321.0l1.4 -1.4l1.4 1.4l-1.4 1.4zM307.9 324.0l1.4 -1.4l1.4 1.4l-1.4 1.4zM307.6 328.0l1.4 -1.4l1.4 1.4l-1.4 1.4zM305.6 331.0l1.4 -1.4l1.4 1.4l-1.4 1.4zM291.6 326.0l1.4 -1.4l1.4 1.4l-1.4 1.4zM293.1 328.0l1.4 -1.4l1.4 1.4l-1.4 1.4zM303.6 311.5l1.4 -1.4l1.4 1.4l-1.4 1.4zM301.1 310.5l1.4 -1.4l1.4 1.4l-1.4 1.4z"/>
<path d="M174.50 262.30V451.10H362.70" fill="none" stroke="#262626" stroke-width="1"/>
<path d="M174.50 451.10h-2.40M174.50 413.34h-2.40M174.50 375.58h-2.40M174.50 337.82h-2.40M174.50 300.06h-2.40M174.50 262.30h-2.40M174.50 451.10v2.40M221.55 451.10v2.40M268.60 451.10v2.40M315.65 451.10v2.40M362.70 451.10v2.40" fill="none" stroke="#262626" stroke-width="1"/>
<text x="169.90" y="454.80" font-size="10.9" text-anchor="end">0</text>
<text x="169.90" y="417.04" font-size="10.9" text-anchor="end">15</text>
<text x="169.90" y="379.28" font-size="10.9" text-anchor="end">30</text>
<text x="169.90" y="341.52" font-size="10.9" text-anchor="end">45</text>
<text x="169.90" y="303.76" font-size="10.9" text-anchor="end">60</text>
<text x="169.90" y="266.00" font-size="10.9" text-anchor="end">75</text>
<text x="175.00" y="465.80" font-size="10.9" text-anchor="middle">100</text>
<text x="222.05" y="465.80" font-size="10.9" text-anchor="middle">150</text>
<text x="269.10" y="465.80" font-size="10.9" text-anchor="middle">200</text>
<text x="316.15" y="465.80" font-size="10.9" text-anchor="middle">250</text>
<text x="363.20" y="465.80" font-size="10.9" text-anchor="middle">300</text>
<text transform="translate(153.30 358.30) rotate(-90)" font-size="11.6" text-anchor="middle"><tspan font-style="italic">U</tspan><tspan font-size="7.6">10</tspan> [m/s]</text>
<text x="253.30" y="479.80" font-size="12">λ</text>
<text x="258.90" y="481.40" font-size="9.4">c</text>
<text x="269.30" y="479.80" font-size="11.6">[m]</text>
<text x="275.20" y="495.60" font-size="10.4" font-weight="bold" text-anchor="middle">(c)</text>
<rect x="373.50" y="262.30" width="5.80" height="188.80" fill="url(#jet)"/>
<text x="382.10" y="454.70" font-size="10.9">0</text>
<text x="382.10" y="431.10" font-size="10.9">5</text>
<text x="382.10" y="407.50" font-size="10.9">10</text>
<text x="382.10" y="383.90" font-size="10.9">15</text>
<text x="382.10" y="360.30" font-size="10.9">20</text>
<text x="382.10" y="336.70" font-size="10.9">25</text>
<text x="382.10" y="313.10" font-size="10.9">30</text>
<text x="382.10" y="289.50" font-size="10.9">35</text>
<text x="382.10" y="265.90" font-size="10.9">40</text>
<text transform="translate(403.50 348.40) rotate(-90)" font-size="10.9" text-anchor="middle">Number of samples</text>
</g>
</svg>
</body></html>
